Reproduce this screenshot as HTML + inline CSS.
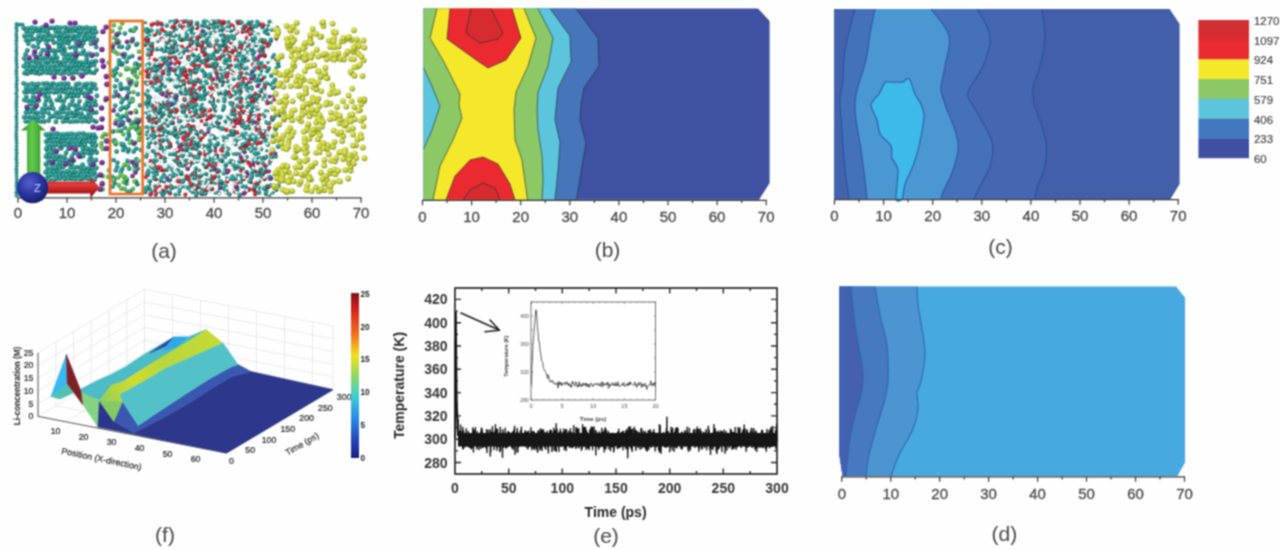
<!DOCTYPE html><html><head><meta charset="utf-8"><title>Figure</title>
<style>html,body{margin:0;padding:0;background:#fff;}body{width:1280px;height:550px;overflow:hidden;}svg{display:block;font-family:"Liberation Sans", sans-serif;}</style></head><body>
<svg width="1280" height="550" viewBox="0 0 1280 550">
<defs>
<radialGradient id="gT" cx="0.4" cy="0.35" r="0.7"><stop offset="0" stop-color="#44b8ae"/><stop offset="0.55" stop-color="#24908a"/><stop offset="1" stop-color="#0a3834"/></radialGradient>
<radialGradient id="gP" cx="0.4" cy="0.35" r="0.7"><stop offset="0" stop-color="#9a50b8"/><stop offset="0.55" stop-color="#6c2c8c"/><stop offset="1" stop-color="#3a1450"/></radialGradient>
<radialGradient id="gR" cx="0.4" cy="0.35" r="0.7"><stop offset="0" stop-color="#e04858"/><stop offset="0.55" stop-color="#bc2434"/><stop offset="1" stop-color="#641018"/></radialGradient>
<radialGradient id="gG" cx="0.4" cy="0.35" r="0.7"><stop offset="0" stop-color="#8ad870"/><stop offset="0.55" stop-color="#58b048"/><stop offset="1" stop-color="#2c6c24"/></radialGradient>
<radialGradient id="gY" cx="0.4" cy="0.35" r="0.7"><stop offset="0" stop-color="#e6ea66"/><stop offset="0.55" stop-color="#c4cc3c"/><stop offset="1" stop-color="#74801c"/></radialGradient>
<radialGradient id="gW" cx="0.4" cy="0.35" r="0.7"><stop offset="0" stop-color="#ffffff"/><stop offset="0.55" stop-color="#e4ecec"/><stop offset="1" stop-color="#a8b4b4"/></radialGradient>
<radialGradient id="gB" cx="0.4" cy="0.35" r="0.7"><stop offset="0" stop-color="#5460cc"/><stop offset="0.55" stop-color="#2a34a0"/><stop offset="1" stop-color="#161a68"/></radialGradient>
<linearGradient id="jet" x1="0" y1="0" x2="0" y2="1"><stop offset="0" stop-color="#7c1418"/><stop offset="0.1" stop-color="#d82020"/><stop offset="0.25" stop-color="#f07020"/><stop offset="0.38" stop-color="#f0e020"/><stop offset="0.5" stop-color="#90d860"/><stop offset="0.62" stop-color="#40d0d0"/><stop offset="0.75" stop-color="#2890e8"/><stop offset="0.88" stop-color="#2848c0"/><stop offset="1" stop-color="#1c2080"/></linearGradient>
<linearGradient id="garr" x1="0" y1="0" x2="1" y2="0"><stop offset="0" stop-color="#2a8a24"/><stop offset="0.45" stop-color="#62cc4c"/><stop offset="1" stop-color="#2a8a24"/></linearGradient>
<linearGradient id="rarr" x1="0" y1="0" x2="0" y2="1"><stop offset="0" stop-color="#9c1616"/><stop offset="0.35" stop-color="#e43c3c"/><stop offset="0.7" stop-color="#b41c1c"/><stop offset="1" stop-color="#7c1010"/></linearGradient>
<linearGradient id="cred" x1="0" y1="0" x2="0" y2="1"><stop offset="0" stop-color="#cc3034"/><stop offset="0.45" stop-color="#d82c30"/><stop offset="0.6" stop-color="#ea2c30"/><stop offset="1" stop-color="#ea2c30"/></linearGradient>
<filter id="cv" x="0" y="0" width="1280" height="550" filterUnits="userSpaceOnUse" color-interpolation-filters="sRGB"><feConvolveMatrix order="3" kernelMatrix="0.0625 0.1250 0.0625 0.1250 0.2500 0.1250 0.0625 0.1250 0.0625" divisor="1" edgeMode="duplicate" preserveAlpha="false"/></filter>
</defs>
<rect width="1280" height="550" fill="#fefefe"/>
<g filter="url(#cv)">
<g id="panelA">
<g>
<g fill="url(#gW)"><circle cx="232.7" cy="49.3" r="1.5"/><circle cx="201.8" cy="188.8" r="1.5"/><circle cx="157.3" cy="27.9" r="1.5"/><circle cx="201.4" cy="54.0" r="1.5"/><circle cx="237.1" cy="21.5" r="1.5"/><circle cx="251.9" cy="169.0" r="1.5"/><circle cx="245.2" cy="94.6" r="1.5"/><circle cx="181.7" cy="135.5" r="1.5"/><circle cx="210.8" cy="93.9" r="1.5"/><circle cx="188.7" cy="96.9" r="1.5"/><circle cx="229.9" cy="163.9" r="1.5"/><circle cx="259.9" cy="49.5" r="1.5"/><circle cx="183.3" cy="97.7" r="1.5"/><circle cx="217.0" cy="81.2" r="1.5"/><circle cx="170.6" cy="35.7" r="1.5"/><circle cx="186.8" cy="100.7" r="1.5"/><circle cx="268.4" cy="178.2" r="1.5"/><circle cx="268.8" cy="187.4" r="1.5"/><circle cx="248.2" cy="31.4" r="1.5"/><circle cx="231.2" cy="126.4" r="1.5"/><circle cx="183.4" cy="119.8" r="1.5"/><circle cx="266.1" cy="104.2" r="1.5"/><circle cx="183.7" cy="80.4" r="1.5"/><circle cx="257.5" cy="25.8" r="1.5"/><circle cx="169.8" cy="138.4" r="1.5"/><circle cx="202.4" cy="35.7" r="1.5"/><circle cx="229.2" cy="85.4" r="1.5"/><circle cx="219.2" cy="93.0" r="1.5"/><circle cx="212.8" cy="118.7" r="1.5"/><circle cx="195.9" cy="40.8" r="1.5"/><circle cx="168.7" cy="175.0" r="1.5"/><circle cx="215.1" cy="40.4" r="1.5"/><circle cx="254.6" cy="64.9" r="1.5"/><circle cx="158.0" cy="112.8" r="1.5"/><circle cx="177.7" cy="105.6" r="1.5"/><circle cx="215.8" cy="60.2" r="1.5"/><circle cx="218.2" cy="40.6" r="1.5"/><circle cx="210.7" cy="122.8" r="1.5"/><circle cx="156.1" cy="91.6" r="1.5"/><circle cx="155.3" cy="97.0" r="1.5"/><circle cx="254.8" cy="116.2" r="1.5"/><circle cx="236.0" cy="151.9" r="1.5"/><circle cx="160.4" cy="192.4" r="1.5"/><circle cx="236.9" cy="38.7" r="1.5"/><circle cx="250.6" cy="88.8" r="1.5"/><circle cx="167.6" cy="187.1" r="1.5"/><circle cx="216.9" cy="155.1" r="1.5"/><circle cx="163.2" cy="155.3" r="1.5"/><circle cx="153.3" cy="62.0" r="1.5"/><circle cx="192.9" cy="23.6" r="1.5"/><circle cx="220.9" cy="57.9" r="1.5"/><circle cx="183.8" cy="143.4" r="1.5"/><circle cx="199.7" cy="174.7" r="1.5"/><circle cx="224.3" cy="171.9" r="1.5"/><circle cx="216.9" cy="179.7" r="1.5"/><circle cx="255.7" cy="50.1" r="1.5"/><circle cx="239.9" cy="80.1" r="1.5"/><circle cx="242.2" cy="138.7" r="1.5"/><circle cx="250.0" cy="42.2" r="1.5"/><circle cx="193.0" cy="148.5" r="1.5"/><circle cx="222.1" cy="38.2" r="1.5"/><circle cx="215.2" cy="159.9" r="1.5"/><circle cx="160.2" cy="181.1" r="1.5"/><circle cx="231.1" cy="65.0" r="1.5"/><circle cx="170.3" cy="98.3" r="1.5"/><circle cx="251.6" cy="121.6" r="1.5"/><circle cx="160.3" cy="24.6" r="1.5"/><circle cx="159.9" cy="159.5" r="1.5"/><circle cx="169.3" cy="116.9" r="1.5"/><circle cx="182.5" cy="139.9" r="1.5"/><circle cx="194.0" cy="46.0" r="1.5"/><circle cx="256.3" cy="114.1" r="1.5"/><circle cx="232.9" cy="160.8" r="1.5"/><circle cx="165.0" cy="107.8" r="1.5"/><circle cx="256.0" cy="159.5" r="1.5"/><circle cx="150.5" cy="52.5" r="1.5"/><circle cx="249.1" cy="138.6" r="1.5"/><circle cx="195.5" cy="103.3" r="1.5"/><circle cx="165.9" cy="167.2" r="1.5"/><circle cx="195.6" cy="172.0" r="1.5"/><circle cx="223.0" cy="34.1" r="1.5"/><circle cx="187.5" cy="58.4" r="1.5"/><circle cx="258.6" cy="122.9" r="1.5"/><circle cx="151.5" cy="50.4" r="1.5"/><circle cx="191.5" cy="101.9" r="1.5"/><circle cx="218.7" cy="88.1" r="1.5"/><circle cx="190.6" cy="22.0" r="1.5"/><circle cx="219.0" cy="78.7" r="1.5"/><circle cx="148.6" cy="100.5" r="1.5"/><circle cx="230.5" cy="68.2" r="1.5"/><circle cx="180.4" cy="107.5" r="1.5"/><circle cx="179.0" cy="119.4" r="1.5"/><circle cx="212.5" cy="186.6" r="1.5"/><circle cx="271.0" cy="26.9" r="1.5"/><circle cx="243.1" cy="171.9" r="1.5"/><circle cx="243.6" cy="130.5" r="1.5"/><circle cx="226.0" cy="83.8" r="1.5"/><circle cx="181.5" cy="158.6" r="1.5"/><circle cx="256.0" cy="183.4" r="1.5"/><circle cx="231.8" cy="73.6" r="1.5"/><circle cx="242.2" cy="148.9" r="1.5"/><circle cx="210.1" cy="130.9" r="1.5"/><circle cx="190.2" cy="116.3" r="1.5"/><circle cx="197.2" cy="31.5" r="1.5"/><circle cx="188.5" cy="76.9" r="1.5"/><circle cx="176.7" cy="61.6" r="1.5"/><circle cx="190.0" cy="44.5" r="1.5"/><circle cx="146.9" cy="171.7" r="1.5"/><circle cx="203.1" cy="98.1" r="1.5"/><circle cx="217.7" cy="73.3" r="1.5"/><circle cx="167.3" cy="32.5" r="1.5"/><circle cx="184.0" cy="74.4" r="1.5"/><circle cx="237.6" cy="116.4" r="1.5"/><circle cx="264.1" cy="79.9" r="1.5"/><circle cx="219.5" cy="34.8" r="1.5"/><circle cx="168.5" cy="121.4" r="1.5"/><circle cx="270.4" cy="82.8" r="1.5"/><circle cx="200.0" cy="171.2" r="1.5"/><circle cx="154.5" cy="104.8" r="1.5"/><circle cx="259.3" cy="68.7" r="1.5"/><circle cx="178.4" cy="25.0" r="1.5"/><circle cx="166.7" cy="67.4" r="1.5"/><circle cx="234.8" cy="58.8" r="1.5"/><circle cx="196.3" cy="55.7" r="1.5"/><circle cx="222.0" cy="170.5" r="1.5"/><circle cx="227.7" cy="55.0" r="1.5"/><circle cx="238.5" cy="187.6" r="1.5"/><circle cx="221.7" cy="34.7" r="1.5"/><circle cx="248.0" cy="172.5" r="1.5"/><circle cx="189.0" cy="44.6" r="1.5"/><circle cx="169.7" cy="113.9" r="1.5"/><circle cx="256.3" cy="131.7" r="1.5"/><circle cx="240.4" cy="133.3" r="1.5"/><circle cx="197.1" cy="138.5" r="1.5"/><circle cx="188.6" cy="30.9" r="1.5"/><circle cx="198.2" cy="28.9" r="1.5"/><circle cx="224.9" cy="78.9" r="1.5"/><circle cx="208.3" cy="124.4" r="1.5"/><circle cx="178.4" cy="101.2" r="1.5"/><circle cx="147.7" cy="181.1" r="1.5"/><circle cx="217.1" cy="191.8" r="1.5"/><circle cx="153.1" cy="127.2" r="1.5"/><circle cx="237.2" cy="77.9" r="1.5"/><circle cx="157.8" cy="48.0" r="1.5"/><circle cx="164.0" cy="153.7" r="1.5"/><circle cx="157.3" cy="161.8" r="1.5"/><circle cx="199.3" cy="114.2" r="1.5"/><circle cx="220.1" cy="117.0" r="1.5"/><circle cx="228.8" cy="125.1" r="1.5"/><circle cx="187.7" cy="149.2" r="1.5"/><circle cx="178.5" cy="144.1" r="1.5"/><circle cx="242.2" cy="155.2" r="1.5"/><circle cx="185.0" cy="154.7" r="1.5"/><circle cx="211.9" cy="183.8" r="1.5"/><circle cx="162.6" cy="22.6" r="1.5"/><circle cx="205.9" cy="134.4" r="1.5"/><circle cx="243.5" cy="83.7" r="1.5"/><circle cx="270.7" cy="60.5" r="1.5"/><circle cx="157.3" cy="25.8" r="1.5"/><circle cx="162.9" cy="31.4" r="1.5"/><circle cx="209.2" cy="117.1" r="1.5"/><circle cx="168.9" cy="183.6" r="1.5"/><circle cx="192.1" cy="46.8" r="1.5"/><circle cx="168.4" cy="148.6" r="1.5"/><circle cx="244.0" cy="63.0" r="1.5"/><circle cx="269.8" cy="107.3" r="1.5"/><circle cx="189.4" cy="159.5" r="1.5"/><circle cx="204.0" cy="77.0" r="1.5"/><circle cx="259.8" cy="39.7" r="1.5"/><circle cx="238.4" cy="32.3" r="1.5"/><circle cx="227.3" cy="90.5" r="1.5"/><circle cx="254.9" cy="31.4" r="1.5"/><circle cx="217.1" cy="91.9" r="1.5"/><circle cx="261.8" cy="184.5" r="1.5"/><circle cx="225.0" cy="59.8" r="1.5"/><circle cx="177.7" cy="66.4" r="1.5"/><circle cx="200.7" cy="61.0" r="1.5"/><circle cx="171.6" cy="152.3" r="1.5"/><circle cx="227.0" cy="72.6" r="1.5"/><circle cx="271.3" cy="58.5" r="1.5"/><circle cx="165.7" cy="170.3" r="1.5"/><circle cx="255.5" cy="67.2" r="1.5"/><circle cx="240.7" cy="163.3" r="1.5"/><circle cx="181.6" cy="78.4" r="1.5"/><circle cx="207.2" cy="175.1" r="1.5"/><circle cx="166.4" cy="139.1" r="1.5"/><circle cx="221.3" cy="99.4" r="1.5"/><circle cx="219.0" cy="173.7" r="1.5"/><circle cx="172.4" cy="173.9" r="1.5"/><circle cx="191.4" cy="155.9" r="1.5"/><circle cx="254.8" cy="52.5" r="1.5"/><circle cx="254.9" cy="193.1" r="1.5"/><circle cx="183.5" cy="25.2" r="1.5"/><circle cx="160.1" cy="189.6" r="1.5"/><circle cx="147.2" cy="178.7" r="1.5"/><circle cx="165.0" cy="148.3" r="1.5"/><circle cx="158.3" cy="50.2" r="1.5"/><circle cx="232.0" cy="36.6" r="1.5"/><circle cx="188.8" cy="179.9" r="1.5"/><circle cx="236.3" cy="173.6" r="1.5"/><circle cx="245.8" cy="140.3" r="1.5"/><circle cx="150.8" cy="108.3" r="1.5"/><circle cx="175.2" cy="95.5" r="1.5"/><circle cx="159.2" cy="24.4" r="1.5"/><circle cx="270.8" cy="75.8" r="1.5"/><circle cx="161.2" cy="105.3" r="1.5"/><circle cx="163.1" cy="95.1" r="1.5"/><circle cx="168.6" cy="139.6" r="1.5"/><circle cx="164.6" cy="148.7" r="1.5"/><circle cx="209.1" cy="40.4" r="1.5"/><circle cx="190.6" cy="106.9" r="1.5"/><circle cx="261.8" cy="81.5" r="1.5"/><circle cx="173.1" cy="188.4" r="1.5"/><circle cx="257.3" cy="147.5" r="1.5"/><circle cx="180.4" cy="51.7" r="1.5"/><circle cx="179.3" cy="32.9" r="1.5"/><circle cx="151.4" cy="109.0" r="1.5"/><circle cx="197.4" cy="117.3" r="1.5"/><circle cx="191.7" cy="22.8" r="1.5"/><circle cx="232.7" cy="134.0" r="1.5"/><circle cx="214.5" cy="115.9" r="1.5"/><circle cx="233.0" cy="190.9" r="1.5"/><circle cx="256.1" cy="145.2" r="1.5"/><circle cx="196.3" cy="76.1" r="1.5"/><circle cx="198.8" cy="189.3" r="1.5"/><circle cx="194.8" cy="87.7" r="1.5"/><circle cx="197.7" cy="45.7" r="1.5"/><circle cx="271.8" cy="21.9" r="1.5"/><circle cx="262.7" cy="65.1" r="1.5"/><circle cx="193.5" cy="62.7" r="1.5"/><circle cx="171.0" cy="41.1" r="1.5"/><circle cx="252.2" cy="156.6" r="1.5"/><circle cx="260.5" cy="29.6" r="1.5"/><circle cx="233.5" cy="77.1" r="1.5"/><circle cx="227.4" cy="116.0" r="1.5"/><circle cx="185.8" cy="189.1" r="1.5"/><circle cx="146.1" cy="150.1" r="1.5"/><circle cx="253.5" cy="109.3" r="1.5"/><circle cx="220.6" cy="193.1" r="1.5"/><circle cx="175.5" cy="129.9" r="1.5"/><circle cx="239.7" cy="86.5" r="1.5"/><circle cx="235.7" cy="89.1" r="1.5"/><circle cx="212.3" cy="127.0" r="1.5"/><circle cx="231.3" cy="76.7" r="1.5"/><circle cx="225.2" cy="115.0" r="1.5"/><circle cx="174.1" cy="127.0" r="1.5"/><circle cx="179.4" cy="178.2" r="1.5"/><circle cx="205.6" cy="145.8" r="1.5"/><circle cx="211.8" cy="103.5" r="1.5"/><circle cx="173.9" cy="45.6" r="1.5"/><circle cx="262.8" cy="112.5" r="1.5"/><circle cx="212.5" cy="161.7" r="1.5"/><circle cx="176.1" cy="50.8" r="1.5"/><circle cx="249.6" cy="100.6" r="1.5"/><circle cx="226.7" cy="164.1" r="1.5"/><circle cx="258.6" cy="171.1" r="1.5"/><circle cx="151.5" cy="87.0" r="1.5"/><circle cx="250.8" cy="162.5" r="1.5"/><circle cx="161.5" cy="47.6" r="1.5"/><circle cx="177.7" cy="38.8" r="1.5"/><circle cx="190.9" cy="160.0" r="1.5"/><circle cx="211.7" cy="99.3" r="1.5"/><circle cx="157.1" cy="89.4" r="1.5"/><circle cx="206.3" cy="159.1" r="1.5"/><circle cx="241.6" cy="46.9" r="1.5"/><circle cx="231.7" cy="84.5" r="1.5"/><circle cx="211.6" cy="62.1" r="1.5"/><circle cx="192.7" cy="79.8" r="1.5"/><circle cx="194.0" cy="24.1" r="1.5"/><circle cx="171.3" cy="119.7" r="1.5"/><circle cx="153.3" cy="51.9" r="1.5"/><circle cx="236.5" cy="68.5" r="1.5"/><circle cx="186.8" cy="62.8" r="1.5"/><circle cx="251.1" cy="36.8" r="1.5"/><circle cx="226.2" cy="169.6" r="1.5"/><circle cx="171.4" cy="94.2" r="1.5"/><circle cx="245.8" cy="127.9" r="1.5"/><circle cx="192.8" cy="28.6" r="1.5"/><circle cx="201.8" cy="84.5" r="1.5"/><circle cx="235.8" cy="72.1" r="1.5"/><circle cx="197.4" cy="133.1" r="1.5"/><circle cx="248.2" cy="82.0" r="1.5"/><circle cx="194.6" cy="121.1" r="1.5"/><circle cx="262.5" cy="54.1" r="1.5"/><circle cx="235.7" cy="85.4" r="1.5"/><circle cx="229.9" cy="78.0" r="1.5"/><circle cx="154.9" cy="151.8" r="1.5"/><circle cx="193.8" cy="112.0" r="1.5"/><circle cx="208.6" cy="176.9" r="1.5"/><circle cx="241.4" cy="25.4" r="1.5"/><circle cx="220.7" cy="101.0" r="1.5"/><circle cx="204.2" cy="166.2" r="1.5"/><circle cx="198.3" cy="102.9" r="1.5"/><circle cx="258.2" cy="97.1" r="1.5"/><circle cx="207.9" cy="109.5" r="1.5"/><circle cx="249.9" cy="137.0" r="1.5"/><circle cx="239.3" cy="90.5" r="1.5"/><circle cx="151.1" cy="138.6" r="1.5"/><circle cx="215.8" cy="154.1" r="1.5"/><circle cx="243.0" cy="41.4" r="1.5"/></g>
<g fill="url(#gT)"><circle cx="260.5" cy="23.2" r="2.3"/><circle cx="236.6" cy="186.2" r="2.0"/><circle cx="179.3" cy="191.1" r="2.2"/><circle cx="254.6" cy="153.4" r="2.0"/><circle cx="266.0" cy="193.7" r="2.2"/><circle cx="212.8" cy="177.3" r="2.2"/><circle cx="237.2" cy="105.9" r="2.3"/><circle cx="191.6" cy="185.4" r="2.0"/><circle cx="167.0" cy="92.3" r="1.8"/><circle cx="207.4" cy="180.9" r="1.8"/><circle cx="224.6" cy="62.5" r="2.3"/><circle cx="71.8" cy="178.5" r="2.4"/><circle cx="172.2" cy="69.6" r="2.3"/><circle cx="255.0" cy="144.6" r="1.8"/><circle cx="262.3" cy="66.6" r="2.1"/><circle cx="50.2" cy="141.1" r="2.4"/><circle cx="208.0" cy="23.5" r="2.0"/><circle cx="79.9" cy="117.1" r="2.4"/><circle cx="137.8" cy="94.1" r="2.3"/><circle cx="264.5" cy="76.9" r="2.0"/><circle cx="206.9" cy="174.4" r="1.9"/><circle cx="75.7" cy="36.1" r="2.4"/><circle cx="64.1" cy="100.6" r="2.4"/><circle cx="139.1" cy="65.1" r="2.3"/><circle cx="16.5" cy="172.5" r="1.9"/><circle cx="153.0" cy="109.2" r="1.8"/><circle cx="37.2" cy="112.8" r="2.4"/><circle cx="77.5" cy="46.2" r="2.4"/><circle cx="124.6" cy="177.1" r="2.3"/><circle cx="27.9" cy="28.4" r="2.4"/><circle cx="84.8" cy="152.6" r="2.4"/><circle cx="154.2" cy="115.7" r="2.3"/><circle cx="208.3" cy="92.7" r="1.8"/><circle cx="36.6" cy="87.5" r="2.4"/><circle cx="85.2" cy="96.2" r="2.4"/><circle cx="178.5" cy="74.5" r="2.2"/><circle cx="219.0" cy="67.3" r="1.8"/><circle cx="96.0" cy="121.6" r="2.4"/><circle cx="30.0" cy="32.3" r="2.4"/><circle cx="134.3" cy="143.3" r="2.3"/><circle cx="199.0" cy="181.2" r="1.9"/><circle cx="119.1" cy="46.4" r="2.3"/><circle cx="157.0" cy="172.0" r="2.0"/><circle cx="155.0" cy="109.8" r="2.1"/><circle cx="44.8" cy="69.8" r="2.4"/><circle cx="206.8" cy="39.2" r="2.1"/><circle cx="70.6" cy="167.2" r="2.4"/><circle cx="203.8" cy="21.5" r="2.2"/><circle cx="149.7" cy="110.8" r="1.8"/><circle cx="42.7" cy="58.2" r="2.4"/><circle cx="161.0" cy="84.9" r="1.8"/><circle cx="177.5" cy="156.5" r="2.1"/><circle cx="145.1" cy="188.1" r="1.9"/><circle cx="182.6" cy="152.5" r="2.2"/><circle cx="57.5" cy="117.2" r="2.4"/><circle cx="63.0" cy="121.4" r="2.4"/><circle cx="226.4" cy="138.7" r="2.3"/><circle cx="175.4" cy="136.5" r="1.7"/><circle cx="160.4" cy="167.8" r="2.3"/><circle cx="226.9" cy="147.8" r="1.9"/><circle cx="147.8" cy="138.3" r="1.9"/><circle cx="159.0" cy="119.2" r="1.8"/><circle cx="60.5" cy="156.4" r="2.4"/><circle cx="153.8" cy="78.3" r="1.8"/><circle cx="59.2" cy="160.5" r="2.4"/><circle cx="244.7" cy="126.4" r="2.3"/><circle cx="243.6" cy="57.4" r="2.1"/><circle cx="65.0" cy="171.9" r="2.4"/><circle cx="162.6" cy="140.5" r="2.4"/><circle cx="191.2" cy="86.0" r="2.1"/><circle cx="16.4" cy="149.4" r="1.9"/><circle cx="157.0" cy="168.4" r="2.1"/><circle cx="201.6" cy="193.4" r="2.3"/><circle cx="257.0" cy="21.4" r="2.0"/><circle cx="156.1" cy="190.3" r="1.9"/><circle cx="62.6" cy="39.2" r="2.4"/><circle cx="260.9" cy="142.3" r="2.1"/><circle cx="87.3" cy="36.2" r="2.4"/><circle cx="170.0" cy="95.2" r="2.3"/><circle cx="160.7" cy="109.5" r="2.2"/><circle cx="49.5" cy="92.0" r="2.4"/><circle cx="53.2" cy="157.0" r="2.4"/><circle cx="271.7" cy="30.1" r="1.8"/><circle cx="154.4" cy="111.3" r="2.0"/><circle cx="255.8" cy="136.8" r="2.3"/><circle cx="228.0" cy="56.1" r="2.4"/><circle cx="248.5" cy="106.1" r="2.2"/><circle cx="90.4" cy="116.8" r="2.4"/><circle cx="82.6" cy="92.8" r="2.4"/><circle cx="157.4" cy="191.5" r="2.0"/><circle cx="126.4" cy="116.5" r="2.3"/><circle cx="75.3" cy="179.1" r="2.4"/><circle cx="199.1" cy="143.7" r="2.4"/><circle cx="256.3" cy="99.0" r="2.3"/><circle cx="16.3" cy="73.5" r="1.9"/><circle cx="240.0" cy="72.7" r="1.9"/><circle cx="266.4" cy="156.6" r="2.0"/><circle cx="237.1" cy="189.7" r="2.4"/><circle cx="251.6" cy="167.5" r="2.0"/><circle cx="210.8" cy="143.6" r="1.8"/><circle cx="82.9" cy="65.2" r="2.4"/><circle cx="171.0" cy="103.7" r="2.0"/><circle cx="267.7" cy="29.2" r="2.1"/><circle cx="264.5" cy="32.0" r="2.1"/><circle cx="204.7" cy="183.0" r="1.8"/><circle cx="160.8" cy="87.2" r="1.7"/><circle cx="74.2" cy="38.9" r="2.4"/><circle cx="263.6" cy="137.1" r="2.3"/><circle cx="182.8" cy="155.0" r="2.2"/><circle cx="255.2" cy="191.2" r="1.8"/><circle cx="213.1" cy="66.0" r="2.2"/><circle cx="40.5" cy="31.3" r="2.4"/><circle cx="254.6" cy="66.9" r="2.0"/><circle cx="205.2" cy="53.2" r="2.1"/><circle cx="90.5" cy="171.9" r="2.4"/><circle cx="163.1" cy="134.6" r="1.9"/><circle cx="168.1" cy="132.6" r="2.4"/><circle cx="202.2" cy="62.4" r="1.9"/><circle cx="53.7" cy="134.2" r="2.4"/><circle cx="176.1" cy="161.3" r="2.3"/><circle cx="250.0" cy="43.8" r="2.2"/><circle cx="270.2" cy="84.6" r="1.9"/><circle cx="72.5" cy="36.2" r="2.4"/><circle cx="233.5" cy="88.7" r="2.1"/><circle cx="24.2" cy="117.2" r="2.4"/><circle cx="180.9" cy="173.5" r="2.2"/><circle cx="119.2" cy="33.0" r="2.3"/><circle cx="133.0" cy="72.5" r="2.3"/><circle cx="57.0" cy="72.6" r="2.4"/><circle cx="170.1" cy="179.4" r="2.2"/><circle cx="92.0" cy="87.8" r="2.4"/><circle cx="208.8" cy="128.2" r="2.3"/><circle cx="94.2" cy="72.8" r="2.4"/><circle cx="151.1" cy="30.3" r="2.3"/><circle cx="252.2" cy="172.4" r="1.9"/><circle cx="16.6" cy="165.9" r="1.9"/><circle cx="223.5" cy="77.5" r="2.3"/><circle cx="168.6" cy="73.7" r="2.0"/><circle cx="237.5" cy="92.6" r="2.1"/><circle cx="155.8" cy="170.5" r="2.0"/><circle cx="47.5" cy="168.1" r="2.4"/><circle cx="193.1" cy="71.1" r="2.4"/><circle cx="164.9" cy="86.5" r="1.9"/><circle cx="186.9" cy="160.6" r="2.1"/><circle cx="200.1" cy="142.9" r="2.3"/><circle cx="159.4" cy="144.4" r="1.9"/><circle cx="115.7" cy="144.1" r="2.3"/><circle cx="61.0" cy="134.3" r="2.4"/><circle cx="205.8" cy="173.7" r="2.0"/><circle cx="205.3" cy="190.3" r="2.4"/><circle cx="254.2" cy="70.4" r="2.2"/><circle cx="86.8" cy="109.3" r="2.4"/><circle cx="49.6" cy="35.1" r="2.4"/><circle cx="236.7" cy="92.6" r="1.9"/><circle cx="16.5" cy="37.2" r="1.9"/><circle cx="210.5" cy="65.9" r="2.0"/><circle cx="164.2" cy="179.7" r="1.9"/><circle cx="222.1" cy="161.0" r="2.4"/><circle cx="210.7" cy="33.0" r="2.3"/><circle cx="256.6" cy="41.9" r="2.1"/><circle cx="209.9" cy="73.8" r="1.9"/><circle cx="183.8" cy="72.1" r="2.0"/><circle cx="70.2" cy="31.4" r="2.4"/><circle cx="208.3" cy="55.4" r="2.1"/><circle cx="64.7" cy="108.2" r="2.4"/><circle cx="214.2" cy="115.6" r="1.7"/><circle cx="159.6" cy="67.6" r="2.4"/><circle cx="204.6" cy="93.8" r="2.1"/><circle cx="220.5" cy="183.0" r="2.3"/><circle cx="232.5" cy="38.4" r="1.9"/><circle cx="90.6" cy="91.7" r="2.4"/><circle cx="250.0" cy="74.3" r="1.9"/><circle cx="220.1" cy="181.5" r="1.9"/><circle cx="180.0" cy="73.3" r="2.2"/><circle cx="163.6" cy="69.4" r="2.1"/><circle cx="45.0" cy="95.8" r="2.4"/><circle cx="215.8" cy="51.5" r="2.3"/><circle cx="254.9" cy="100.1" r="2.3"/><circle cx="147.2" cy="130.9" r="2.2"/><circle cx="221.8" cy="83.7" r="2.4"/><circle cx="122.7" cy="116.1" r="2.3"/><circle cx="200.4" cy="87.6" r="1.8"/><circle cx="263.3" cy="51.5" r="1.8"/><circle cx="251.5" cy="87.3" r="2.0"/><circle cx="53.1" cy="108.5" r="2.4"/><circle cx="247.6" cy="46.2" r="1.7"/><circle cx="251.8" cy="74.5" r="2.3"/><circle cx="267.1" cy="71.1" r="2.4"/><circle cx="225.8" cy="46.4" r="2.2"/><circle cx="213.0" cy="23.6" r="2.4"/><circle cx="16.2" cy="136.2" r="1.9"/><circle cx="35.4" cy="117.0" r="2.4"/><circle cx="253.7" cy="52.1" r="2.4"/><circle cx="165.1" cy="158.3" r="1.8"/><circle cx="241.9" cy="126.1" r="2.0"/><circle cx="259.1" cy="50.4" r="2.2"/><circle cx="178.4" cy="77.4" r="2.0"/><circle cx="151.5" cy="120.1" r="2.0"/><circle cx="79.1" cy="35.0" r="2.4"/><circle cx="236.7" cy="96.4" r="1.8"/><circle cx="215.4" cy="147.4" r="1.9"/><circle cx="70.6" cy="145.7" r="2.4"/><circle cx="66.7" cy="120.8" r="2.4"/><circle cx="199.8" cy="98.7" r="1.8"/><circle cx="246.7" cy="145.7" r="1.8"/><circle cx="154.5" cy="35.3" r="1.8"/><circle cx="157.8" cy="136.4" r="1.8"/><circle cx="223.1" cy="77.0" r="2.0"/><circle cx="73.9" cy="46.8" r="2.4"/><circle cx="223.9" cy="188.6" r="2.1"/><circle cx="245.4" cy="137.4" r="2.1"/><circle cx="190.6" cy="88.4" r="2.3"/><circle cx="69.8" cy="69.6" r="2.4"/><circle cx="218.2" cy="78.5" r="2.2"/><circle cx="121.8" cy="63.6" r="2.3"/><circle cx="88.3" cy="175.4" r="2.4"/><circle cx="150.8" cy="142.0" r="2.0"/><circle cx="38.7" cy="100.4" r="2.4"/><circle cx="191.4" cy="94.1" r="2.4"/><circle cx="248.3" cy="125.2" r="1.7"/><circle cx="133.3" cy="143.4" r="2.3"/><circle cx="194.6" cy="173.3" r="2.3"/><circle cx="42.0" cy="65.8" r="2.4"/><circle cx="212.5" cy="21.5" r="2.3"/><circle cx="129.0" cy="135.9" r="2.3"/><circle cx="16.3" cy="169.2" r="1.9"/><circle cx="251.8" cy="110.8" r="2.3"/><circle cx="62.9" cy="175.8" r="2.4"/><circle cx="189.1" cy="91.9" r="1.8"/><circle cx="252.4" cy="123.8" r="1.8"/><circle cx="187.0" cy="178.4" r="1.9"/><circle cx="127.5" cy="88.2" r="2.3"/><circle cx="79.4" cy="42.3" r="2.4"/><circle cx="201.3" cy="96.3" r="2.2"/><circle cx="192.6" cy="39.0" r="1.9"/><circle cx="156.7" cy="89.5" r="2.4"/><circle cx="72.2" cy="92.0" r="2.4"/><circle cx="81.4" cy="153.0" r="2.4"/><circle cx="37.3" cy="31.1" r="2.4"/><circle cx="193.5" cy="55.4" r="2.1"/><circle cx="148.9" cy="184.5" r="2.3"/><circle cx="91.8" cy="152.9" r="2.4"/><circle cx="239.8" cy="119.7" r="2.3"/><circle cx="60.5" cy="100.4" r="2.4"/><circle cx="223.7" cy="173.5" r="2.1"/><circle cx="169.2" cy="115.4" r="2.3"/><circle cx="186.1" cy="163.7" r="1.7"/><circle cx="215.5" cy="176.0" r="1.8"/><circle cx="83.4" cy="171.9" r="2.4"/><circle cx="117.1" cy="166.8" r="2.3"/><circle cx="16.4" cy="40.5" r="1.9"/><circle cx="93.8" cy="164.3" r="2.4"/><circle cx="89.2" cy="160.5" r="2.4"/><circle cx="123.1" cy="150.0" r="2.3"/><circle cx="73.8" cy="96.2" r="2.4"/><circle cx="190.5" cy="175.4" r="1.8"/><circle cx="82.9" cy="28.0" r="2.4"/><circle cx="52.0" cy="152.7" r="2.4"/><circle cx="116.5" cy="151.4" r="2.3"/><circle cx="19.5" cy="24.5" r="1.9"/><circle cx="92.4" cy="174.6" r="2.4"/><circle cx="168.9" cy="105.4" r="2.1"/><circle cx="74.1" cy="175.1" r="2.4"/><circle cx="225.2" cy="59.4" r="2.1"/><circle cx="258.5" cy="153.2" r="1.9"/><circle cx="73.9" cy="152.8" r="2.4"/><circle cx="16.6" cy="182.4" r="1.9"/><circle cx="240.6" cy="175.0" r="1.8"/><circle cx="117.5" cy="114.8" r="2.3"/><circle cx="253.9" cy="77.0" r="2.2"/><circle cx="77.0" cy="153.2" r="2.4"/><circle cx="205.0" cy="21.6" r="2.2"/><circle cx="216.8" cy="157.2" r="2.1"/><circle cx="264.4" cy="97.9" r="2.2"/><circle cx="188.8" cy="150.2" r="2.3"/><circle cx="239.1" cy="97.8" r="1.8"/><circle cx="168.5" cy="109.7" r="2.1"/><circle cx="79.1" cy="27.5" r="2.4"/><circle cx="16.3" cy="103.2" r="1.9"/><circle cx="225.9" cy="62.9" r="1.8"/><circle cx="155.9" cy="122.9" r="2.0"/><circle cx="207.0" cy="24.1" r="2.0"/><circle cx="157.5" cy="30.9" r="2.0"/><circle cx="64.5" cy="140.9" r="2.4"/><circle cx="32.0" cy="83.6" r="2.4"/><circle cx="115.5" cy="91.6" r="2.3"/><circle cx="223.5" cy="137.0" r="2.0"/><circle cx="251.5" cy="29.4" r="2.1"/><circle cx="221.3" cy="94.1" r="1.7"/><circle cx="35.5" cy="84.5" r="2.4"/><circle cx="113.9" cy="75.6" r="2.3"/><circle cx="116.9" cy="35.1" r="2.3"/><circle cx="209.4" cy="158.7" r="2.4"/><circle cx="47.7" cy="145.6" r="2.4"/><circle cx="23.6" cy="83.3" r="2.4"/><circle cx="170.7" cy="133.5" r="1.9"/><circle cx="263.5" cy="133.3" r="2.0"/><circle cx="161.3" cy="178.1" r="2.0"/><circle cx="123.0" cy="99.4" r="2.3"/><circle cx="221.8" cy="29.9" r="2.2"/><circle cx="239.8" cy="65.5" r="2.0"/><circle cx="237.4" cy="175.1" r="1.7"/><circle cx="159.2" cy="181.3" r="2.3"/><circle cx="212.9" cy="103.0" r="2.2"/><circle cx="163.0" cy="58.2" r="2.0"/><circle cx="236.3" cy="65.3" r="2.2"/><circle cx="259.6" cy="62.9" r="2.2"/><circle cx="56.9" cy="171.4" r="2.4"/><circle cx="127.9" cy="151.5" r="2.3"/><circle cx="181.8" cy="126.8" r="2.0"/><circle cx="202.2" cy="104.3" r="1.7"/><circle cx="243.0" cy="60.3" r="2.1"/><circle cx="16.8" cy="90.0" r="1.9"/><circle cx="242.2" cy="106.1" r="2.2"/><circle cx="251.1" cy="151.4" r="1.8"/><circle cx="219.8" cy="184.8" r="2.3"/><circle cx="246.7" cy="107.0" r="2.0"/><circle cx="85.2" cy="69.4" r="2.4"/><circle cx="161.6" cy="48.8" r="1.9"/><circle cx="217.7" cy="51.9" r="1.8"/><circle cx="75.8" cy="134.5" r="2.4"/><circle cx="186.2" cy="138.2" r="2.1"/><circle cx="205.3" cy="159.5" r="2.3"/><circle cx="38.4" cy="91.8" r="2.4"/><circle cx="128.1" cy="88.0" r="2.3"/><circle cx="187.9" cy="119.9" r="2.0"/><circle cx="38.3" cy="84.0" r="2.4"/><circle cx="197.8" cy="136.9" r="1.7"/><circle cx="24.2" cy="58.3" r="2.4"/><circle cx="174.5" cy="21.9" r="2.1"/><circle cx="151.3" cy="135.2" r="2.3"/><circle cx="81.0" cy="62.3" r="2.4"/><circle cx="47.9" cy="62.4" r="2.4"/><circle cx="161.8" cy="58.0" r="2.0"/><circle cx="222.5" cy="182.7" r="2.2"/><circle cx="258.2" cy="34.1" r="1.9"/><circle cx="92.1" cy="144.9" r="2.4"/><circle cx="57.6" cy="66.2" r="2.4"/><circle cx="254.4" cy="96.2" r="2.4"/><circle cx="31.9" cy="27.7" r="2.4"/><circle cx="259.5" cy="128.6" r="1.9"/><circle cx="64.5" cy="49.9" r="2.4"/><circle cx="173.7" cy="34.1" r="1.8"/><circle cx="175.6" cy="112.3" r="2.0"/><circle cx="169.6" cy="165.8" r="2.4"/><circle cx="90.5" cy="65.5" r="2.4"/><circle cx="195.8" cy="60.0" r="2.4"/><circle cx="63.0" cy="137.7" r="2.4"/><circle cx="157.2" cy="70.5" r="2.0"/><circle cx="16.3" cy="192.3" r="1.9"/><circle cx="231.2" cy="135.3" r="1.8"/><circle cx="211.8" cy="85.3" r="2.0"/><circle cx="231.5" cy="35.4" r="1.7"/><circle cx="177.9" cy="170.0" r="2.1"/><circle cx="278.7" cy="66.2" r="2.0"/><circle cx="262.1" cy="113.7" r="2.0"/><circle cx="213.4" cy="126.3" r="1.8"/><circle cx="64.3" cy="72.6" r="2.4"/><circle cx="174.8" cy="97.1" r="2.3"/><circle cx="174.8" cy="154.1" r="2.4"/><circle cx="211.0" cy="179.3" r="2.1"/><circle cx="67.6" cy="171.2" r="2.4"/><circle cx="184.2" cy="110.7" r="2.1"/><circle cx="162.5" cy="194.6" r="2.2"/><circle cx="157.8" cy="41.5" r="1.8"/><circle cx="190.1" cy="165.5" r="1.7"/><circle cx="181.6" cy="89.7" r="2.0"/><circle cx="145.7" cy="82.3" r="1.9"/><circle cx="243.2" cy="161.5" r="2.0"/><circle cx="86.2" cy="141.2" r="2.4"/><circle cx="246.3" cy="73.3" r="2.0"/><circle cx="249.3" cy="23.6" r="2.4"/><circle cx="148.0" cy="97.8" r="2.1"/><circle cx="234.5" cy="110.2" r="1.9"/><circle cx="177.6" cy="87.3" r="2.2"/><circle cx="128.9" cy="57.2" r="2.3"/><circle cx="161.1" cy="65.4" r="2.3"/><circle cx="221.0" cy="77.7" r="2.0"/><circle cx="188.0" cy="187.4" r="2.4"/><circle cx="70.1" cy="87.8" r="2.4"/><circle cx="218.0" cy="100.7" r="2.0"/><circle cx="258.0" cy="184.3" r="1.8"/><circle cx="189.5" cy="154.6" r="2.3"/><circle cx="191.2" cy="116.8" r="1.7"/><circle cx="169.9" cy="154.2" r="1.9"/><circle cx="87.5" cy="100.8" r="2.4"/><circle cx="232.5" cy="52.5" r="1.9"/><circle cx="76.2" cy="92.9" r="2.4"/><circle cx="217.8" cy="144.5" r="2.0"/><circle cx="253.8" cy="74.9" r="2.2"/><circle cx="64.3" cy="58.3" r="2.4"/><circle cx="245.0" cy="42.2" r="1.9"/><circle cx="88.8" cy="62.4" r="2.4"/><circle cx="275.8" cy="156.6" r="2.1"/><circle cx="204.1" cy="25.7" r="2.1"/><circle cx="151.9" cy="172.7" r="1.9"/><circle cx="169.0" cy="52.3" r="1.9"/><circle cx="76.1" cy="42.3" r="2.4"/><circle cx="225.6" cy="94.2" r="2.4"/><circle cx="226.9" cy="177.9" r="1.9"/><circle cx="82.8" cy="156.2" r="2.4"/><circle cx="263.0" cy="48.0" r="2.3"/><circle cx="211.7" cy="182.0" r="2.3"/><circle cx="42.6" cy="92.4" r="2.4"/><circle cx="45.9" cy="134.5" r="2.4"/><circle cx="72.4" cy="100.5" r="2.4"/><circle cx="67.8" cy="133.9" r="2.4"/><circle cx="68.2" cy="83.7" r="2.4"/><circle cx="160.0" cy="129.6" r="2.3"/><circle cx="81.2" cy="88.5" r="2.4"/><circle cx="53.0" cy="83.4" r="2.4"/><circle cx="66.0" cy="152.7" r="2.4"/><circle cx="26.2" cy="62.0" r="2.4"/><circle cx="31.2" cy="66.1" r="2.4"/><circle cx="88.6" cy="113.1" r="2.4"/><circle cx="147.2" cy="175.9" r="2.3"/><circle cx="169.4" cy="33.2" r="2.1"/><circle cx="210.7" cy="175.7" r="1.9"/><circle cx="259.2" cy="174.0" r="2.3"/><circle cx="263.7" cy="88.5" r="2.1"/><circle cx="261.4" cy="39.7" r="2.3"/><circle cx="233.8" cy="135.1" r="2.0"/><circle cx="234.6" cy="89.3" r="1.8"/><circle cx="228.3" cy="135.2" r="1.8"/><circle cx="148.0" cy="54.6" r="2.3"/><circle cx="16.5" cy="175.8" r="1.9"/><circle cx="236.7" cy="187.9" r="2.1"/><circle cx="225.7" cy="185.9" r="2.1"/><circle cx="79.7" cy="171.6" r="2.4"/><circle cx="217.8" cy="142.7" r="2.0"/><circle cx="86.4" cy="117.2" r="2.4"/><circle cx="175.5" cy="35.2" r="1.8"/><circle cx="214.0" cy="166.6" r="2.4"/><circle cx="261.7" cy="132.7" r="2.1"/><circle cx="198.6" cy="155.1" r="2.3"/><circle cx="78.4" cy="53.8" r="2.4"/><circle cx="94.5" cy="28.0" r="2.4"/><circle cx="197.5" cy="134.5" r="1.9"/><circle cx="226.9" cy="171.2" r="1.7"/><circle cx="176.0" cy="99.5" r="2.4"/><circle cx="166.2" cy="191.3" r="2.2"/><circle cx="51.9" cy="137.2" r="2.4"/><circle cx="186.6" cy="90.0" r="2.0"/><circle cx="196.8" cy="40.2" r="2.3"/><circle cx="219.4" cy="95.1" r="1.9"/><circle cx="233.4" cy="108.9" r="2.1"/><circle cx="37.0" cy="120.9" r="2.4"/><circle cx="191.4" cy="64.1" r="2.0"/><circle cx="148.5" cy="146.7" r="2.3"/><circle cx="112.4" cy="176.8" r="2.3"/><circle cx="175.3" cy="194.4" r="2.0"/><circle cx="96.1" cy="47.1" r="2.4"/><circle cx="16.3" cy="116.4" r="1.9"/><circle cx="185.0" cy="160.4" r="1.9"/><circle cx="245.7" cy="137.7" r="2.0"/><circle cx="35.2" cy="28.1" r="2.4"/><circle cx="150.8" cy="73.8" r="2.3"/><circle cx="33.2" cy="96.3" r="2.4"/><circle cx="160.4" cy="74.9" r="2.0"/><circle cx="48.1" cy="39.8" r="2.4"/><circle cx="170.4" cy="94.4" r="2.2"/><circle cx="16.2" cy="33.9" r="1.9"/><circle cx="81.2" cy="46.2" r="2.4"/><circle cx="190.2" cy="24.7" r="2.3"/><circle cx="236.8" cy="167.7" r="2.1"/><circle cx="77.7" cy="88.8" r="2.4"/><circle cx="252.9" cy="40.1" r="1.9"/><circle cx="253.9" cy="57.9" r="2.2"/><circle cx="50.1" cy="171.3" r="2.4"/><circle cx="36.8" cy="105.0" r="2.4"/><circle cx="235.8" cy="66.4" r="1.9"/><circle cx="257.6" cy="122.9" r="1.9"/><circle cx="52.0" cy="61.2" r="2.4"/><circle cx="193.5" cy="137.6" r="1.7"/><circle cx="188.6" cy="45.9" r="2.2"/><circle cx="219.1" cy="45.5" r="2.3"/><circle cx="27.5" cy="84.6" r="2.4"/><circle cx="238.2" cy="138.5" r="2.2"/><circle cx="46.2" cy="100.1" r="2.4"/><circle cx="167.8" cy="177.9" r="2.2"/><circle cx="266.3" cy="100.4" r="2.1"/><circle cx="198.2" cy="190.1" r="2.2"/><circle cx="31.2" cy="72.3" r="2.4"/><circle cx="70.7" cy="54.5" r="2.4"/><circle cx="190.6" cy="139.2" r="1.8"/><circle cx="213.2" cy="85.8" r="2.2"/><circle cx="270.8" cy="102.6" r="2.0"/><circle cx="242.1" cy="134.5" r="2.3"/><circle cx="268.9" cy="44.2" r="2.3"/><circle cx="77.9" cy="105.1" r="2.4"/><circle cx="159.6" cy="127.5" r="2.4"/><circle cx="213.7" cy="167.3" r="1.8"/><circle cx="181.3" cy="144.7" r="2.3"/><circle cx="175.5" cy="69.3" r="2.1"/><circle cx="211.1" cy="136.7" r="1.8"/><circle cx="85.8" cy="87.6" r="2.4"/><circle cx="65.0" cy="164.7" r="2.4"/><circle cx="171.5" cy="33.1" r="1.8"/><circle cx="189.7" cy="182.4" r="1.8"/><circle cx="205.9" cy="74.7" r="1.9"/><circle cx="176.6" cy="73.7" r="2.3"/><circle cx="155.7" cy="143.5" r="2.0"/><circle cx="235.9" cy="166.5" r="1.7"/><circle cx="234.6" cy="131.2" r="1.7"/><circle cx="173.7" cy="117.5" r="2.0"/><circle cx="96.7" cy="54.4" r="2.4"/><circle cx="250.7" cy="87.3" r="2.1"/><circle cx="218.1" cy="116.7" r="1.9"/><circle cx="162.0" cy="24.8" r="2.1"/><circle cx="262.8" cy="163.5" r="2.4"/><circle cx="16.3" cy="106.5" r="1.9"/><circle cx="224.5" cy="140.3" r="2.3"/><circle cx="258.8" cy="124.5" r="2.3"/><circle cx="256.1" cy="45.1" r="2.3"/><circle cx="28.2" cy="43.5" r="2.4"/><circle cx="261.2" cy="70.8" r="2.1"/><circle cx="61.2" cy="65.2" r="2.4"/><circle cx="225.5" cy="165.3" r="2.0"/><circle cx="220.5" cy="117.1" r="2.3"/><circle cx="276.4" cy="189.9" r="2.1"/><circle cx="81.4" cy="167.7" r="2.4"/><circle cx="161.1" cy="134.6" r="2.3"/><circle cx="57.0" cy="84.3" r="2.4"/><circle cx="220.2" cy="43.8" r="1.7"/><circle cx="174.6" cy="43.6" r="2.1"/><circle cx="190.2" cy="76.9" r="2.0"/><circle cx="187.7" cy="165.1" r="2.1"/><circle cx="185.7" cy="38.5" r="2.3"/><circle cx="163.0" cy="131.8" r="1.9"/><circle cx="183.8" cy="151.5" r="2.1"/><circle cx="62.7" cy="62.3" r="2.4"/><circle cx="249.3" cy="128.3" r="2.1"/><circle cx="171.0" cy="36.9" r="2.2"/><circle cx="222.1" cy="85.0" r="1.8"/><circle cx="39.0" cy="73.6" r="2.4"/><circle cx="228.6" cy="51.3" r="2.3"/><circle cx="180.8" cy="129.0" r="2.1"/><circle cx="192.4" cy="40.7" r="2.0"/><circle cx="74.6" cy="54.1" r="2.4"/><circle cx="242.5" cy="45.0" r="1.8"/><circle cx="33.3" cy="31.6" r="2.4"/><circle cx="265.0" cy="140.3" r="2.3"/><circle cx="145.4" cy="22.6" r="1.7"/><circle cx="191.5" cy="29.3" r="2.4"/><circle cx="276.0" cy="36.8" r="2.1"/><circle cx="83.7" cy="35.9" r="2.4"/><circle cx="188.5" cy="56.7" r="2.0"/><circle cx="167.1" cy="92.4" r="1.9"/><circle cx="253.2" cy="53.7" r="1.9"/><circle cx="239.7" cy="147.7" r="1.7"/><circle cx="77.2" cy="62.1" r="2.4"/><circle cx="274.6" cy="174.8" r="1.7"/><circle cx="60.8" cy="73.6" r="2.4"/><circle cx="51.8" cy="87.7" r="2.4"/><circle cx="178.9" cy="121.4" r="1.9"/><circle cx="81.0" cy="145.1" r="2.4"/><circle cx="217.5" cy="122.9" r="2.0"/><circle cx="226.9" cy="40.6" r="2.2"/><circle cx="64.8" cy="83.7" r="2.4"/><circle cx="121.4" cy="143.9" r="2.3"/><circle cx="231.9" cy="113.8" r="2.4"/><circle cx="47.6" cy="153.0" r="2.4"/><circle cx="173.7" cy="173.7" r="1.9"/><circle cx="56.8" cy="99.9" r="2.4"/><circle cx="74.6" cy="69.5" r="2.4"/><circle cx="46.5" cy="65.7" r="2.4"/><circle cx="208.1" cy="162.3" r="1.9"/><circle cx="178.2" cy="80.8" r="2.2"/><circle cx="136.1" cy="112.0" r="2.3"/><circle cx="195.6" cy="144.9" r="2.1"/><circle cx="201.1" cy="109.6" r="2.2"/><circle cx="224.4" cy="98.6" r="2.3"/><circle cx="148.4" cy="147.0" r="1.8"/><circle cx="225.3" cy="122.0" r="2.0"/><circle cx="216.7" cy="40.4" r="2.3"/><circle cx="192.6" cy="148.4" r="2.0"/><circle cx="235.7" cy="144.5" r="1.9"/><circle cx="226.0" cy="165.0" r="2.0"/><circle cx="251.3" cy="50.2" r="2.3"/><circle cx="36.7" cy="62.4" r="2.4"/><circle cx="33.4" cy="61.2" r="2.4"/><circle cx="59.5" cy="175.6" r="2.4"/><circle cx="191.1" cy="32.5" r="2.1"/><circle cx="150.8" cy="166.3" r="1.9"/><circle cx="68.4" cy="42.8" r="2.4"/><circle cx="254.3" cy="116.0" r="1.8"/><circle cx="205.2" cy="94.3" r="2.4"/><circle cx="152.6" cy="151.0" r="2.1"/><circle cx="77.9" cy="138.3" r="2.4"/><circle cx="159.4" cy="105.2" r="1.8"/><circle cx="256.6" cy="127.5" r="2.4"/><circle cx="92.3" cy="168.2" r="2.4"/><circle cx="166.3" cy="119.8" r="1.9"/><circle cx="56.2" cy="68.9" r="2.4"/><circle cx="230.5" cy="103.1" r="2.3"/><circle cx="90.0" cy="163.3" r="2.4"/><circle cx="164.8" cy="161.3" r="1.9"/><circle cx="31.6" cy="100.2" r="2.4"/><circle cx="171.8" cy="64.3" r="2.0"/><circle cx="198.6" cy="95.3" r="2.4"/><circle cx="52.1" cy="168.1" r="2.4"/><circle cx="33.1" cy="39.0" r="2.4"/><circle cx="268.2" cy="34.1" r="1.9"/><circle cx="23.7" cy="66.1" r="2.4"/><circle cx="152.1" cy="141.2" r="2.3"/><circle cx="229.4" cy="179.2" r="1.8"/><circle cx="270.7" cy="176.7" r="1.8"/><circle cx="88.8" cy="121.5" r="2.4"/><circle cx="147.9" cy="31.4" r="2.3"/><circle cx="201.4" cy="109.7" r="1.9"/><circle cx="206.4" cy="21.8" r="2.3"/><circle cx="26.1" cy="87.9" r="2.4"/><circle cx="185.3" cy="93.7" r="2.3"/><circle cx="71.6" cy="133.6" r="2.4"/><circle cx="86.3" cy="134.7" r="2.4"/><circle cx="231.5" cy="133.0" r="2.1"/><circle cx="82.8" cy="148.5" r="2.4"/><circle cx="245.3" cy="127.9" r="2.2"/><circle cx="186.4" cy="21.3" r="2.3"/><circle cx="176.1" cy="73.7" r="1.8"/><circle cx="55.7" cy="88.4" r="2.4"/><circle cx="77.8" cy="31.3" r="2.4"/><circle cx="146.5" cy="134.6" r="1.7"/><circle cx="163.8" cy="114.1" r="2.1"/><circle cx="96.6" cy="152.5" r="2.4"/><circle cx="192.8" cy="120.2" r="2.0"/><circle cx="191.0" cy="21.7" r="2.3"/><circle cx="115.7" cy="170.2" r="2.3"/><circle cx="16.5" cy="83.4" r="1.9"/><circle cx="167.8" cy="101.7" r="2.2"/><circle cx="271.2" cy="75.6" r="2.3"/><circle cx="16.3" cy="27.3" r="1.9"/><circle cx="210.3" cy="150.6" r="2.4"/><circle cx="263.3" cy="47.2" r="1.8"/><circle cx="225.7" cy="55.5" r="2.1"/><circle cx="136.3" cy="159.0" r="2.3"/><circle cx="266.0" cy="121.9" r="1.8"/><circle cx="183.2" cy="40.1" r="2.0"/><circle cx="205.8" cy="81.6" r="2.1"/><circle cx="250.8" cy="81.7" r="1.9"/><circle cx="206.9" cy="83.3" r="2.0"/><circle cx="153.1" cy="31.7" r="1.8"/><circle cx="232.5" cy="110.3" r="2.3"/><circle cx="186.9" cy="35.9" r="2.3"/><circle cx="248.0" cy="22.2" r="2.0"/><circle cx="204.2" cy="145.8" r="1.8"/><circle cx="61.2" cy="50.7" r="2.4"/><circle cx="264.0" cy="83.9" r="1.7"/><circle cx="176.2" cy="29.3" r="1.8"/><circle cx="137.6" cy="168.6" r="2.3"/><circle cx="204.3" cy="90.9" r="1.9"/><circle cx="193.4" cy="162.4" r="1.9"/><circle cx="196.0" cy="143.5" r="1.8"/><circle cx="233.8" cy="140.3" r="2.0"/><circle cx="155.0" cy="185.9" r="2.0"/><circle cx="193.6" cy="33.5" r="1.8"/><circle cx="113.2" cy="50.4" r="2.3"/><circle cx="222.8" cy="109.9" r="2.0"/><circle cx="204.0" cy="48.1" r="2.1"/><circle cx="195.6" cy="112.6" r="2.3"/><circle cx="56.9" cy="133.5" r="2.4"/><circle cx="134.5" cy="71.4" r="2.3"/><circle cx="95.8" cy="137.6" r="2.4"/><circle cx="159.8" cy="82.8" r="1.8"/><circle cx="236.1" cy="98.7" r="1.9"/><circle cx="209.0" cy="145.4" r="2.3"/><circle cx="192.0" cy="37.7" r="2.2"/><circle cx="94.8" cy="101.0" r="2.4"/><circle cx="96.3" cy="69.9" r="2.4"/><circle cx="225.8" cy="164.7" r="2.1"/><circle cx="70.8" cy="95.9" r="2.4"/><circle cx="164.7" cy="130.5" r="2.3"/><circle cx="69.9" cy="104.6" r="2.4"/><circle cx="160.4" cy="111.3" r="2.2"/><circle cx="161.6" cy="116.5" r="2.2"/><circle cx="197.8" cy="145.8" r="2.3"/><circle cx="242.5" cy="55.7" r="1.7"/><circle cx="168.7" cy="142.1" r="1.9"/><circle cx="70.1" cy="121.6" r="2.4"/><circle cx="175.6" cy="22.4" r="1.8"/><circle cx="245.2" cy="160.3" r="1.8"/><circle cx="29.4" cy="61.8" r="2.4"/><circle cx="49.1" cy="156.8" r="2.4"/><circle cx="261.7" cy="62.8" r="1.9"/><circle cx="90.9" cy="72.3" r="2.4"/><circle cx="230.9" cy="30.5" r="2.4"/><circle cx="42.4" cy="108.7" r="2.4"/><circle cx="267.5" cy="111.2" r="1.7"/><circle cx="224.8" cy="189.2" r="2.1"/><circle cx="156.5" cy="135.3" r="2.2"/><circle cx="195.5" cy="96.3" r="1.9"/><circle cx="245.5" cy="26.0" r="2.4"/><circle cx="172.6" cy="29.0" r="1.9"/><circle cx="202.1" cy="86.9" r="1.9"/><circle cx="96.7" cy="175.8" r="2.4"/><circle cx="152.6" cy="168.2" r="1.9"/><circle cx="16.7" cy="66.9" r="1.9"/><circle cx="161.3" cy="93.1" r="2.1"/><circle cx="241.7" cy="98.6" r="1.8"/><circle cx="179.9" cy="92.5" r="1.8"/><circle cx="163.8" cy="174.9" r="2.2"/><circle cx="266.9" cy="83.1" r="2.3"/><circle cx="88.9" cy="167.9" r="2.4"/><circle cx="66.8" cy="39.0" r="2.4"/><circle cx="126.8" cy="179.9" r="2.3"/><circle cx="173.0" cy="132.8" r="2.2"/><circle cx="74.6" cy="88.2" r="2.4"/><circle cx="261.1" cy="133.8" r="2.1"/><circle cx="197.3" cy="145.1" r="1.9"/><circle cx="159.1" cy="128.1" r="2.1"/><circle cx="42.7" cy="27.4" r="2.4"/><circle cx="149.7" cy="181.2" r="2.3"/><circle cx="16.2" cy="50.4" r="1.9"/><circle cx="213.4" cy="137.5" r="2.4"/><circle cx="250.0" cy="51.6" r="1.7"/><circle cx="66.6" cy="96.9" r="2.4"/><circle cx="207.5" cy="45.5" r="1.8"/><circle cx="55.0" cy="53.9" r="2.4"/><circle cx="151.3" cy="191.9" r="2.3"/><circle cx="45.1" cy="61.7" r="2.4"/><circle cx="260.8" cy="79.9" r="2.4"/><circle cx="49.4" cy="66.1" r="2.4"/><circle cx="202.4" cy="136.6" r="2.1"/><circle cx="27.6" cy="91.9" r="2.4"/><circle cx="126.9" cy="68.4" r="2.3"/><circle cx="138.8" cy="128.0" r="2.3"/><circle cx="90.2" cy="101.1" r="2.4"/><circle cx="269.4" cy="194.6" r="2.2"/><circle cx="202.6" cy="43.7" r="1.9"/><circle cx="122.2" cy="145.1" r="2.3"/><circle cx="185.9" cy="150.0" r="2.3"/><circle cx="194.8" cy="176.8" r="2.1"/><circle cx="67.0" cy="69.2" r="2.4"/><circle cx="182.1" cy="81.4" r="2.3"/><circle cx="57.9" cy="50.3" r="2.4"/><circle cx="44.2" cy="121.5" r="2.4"/><circle cx="53.8" cy="179.6" r="2.4"/><circle cx="214.1" cy="63.8" r="2.4"/><circle cx="154.2" cy="128.6" r="2.2"/><circle cx="267.8" cy="130.7" r="1.9"/><circle cx="114.6" cy="182.9" r="2.3"/><circle cx="192.2" cy="54.3" r="2.0"/><circle cx="41.9" cy="72.8" r="2.4"/><circle cx="95.9" cy="104.9" r="2.4"/><circle cx="26.2" cy="96.9" r="2.4"/><circle cx="173.8" cy="159.5" r="2.0"/><circle cx="56.8" cy="27.4" r="2.4"/><circle cx="244.3" cy="68.6" r="2.0"/><circle cx="239.2" cy="52.2" r="2.4"/><circle cx="89.1" cy="39.2" r="2.4"/><circle cx="200.6" cy="34.1" r="1.9"/><circle cx="186.7" cy="148.3" r="2.3"/><circle cx="77.3" cy="121.2" r="2.4"/><circle cx="244.6" cy="60.7" r="2.2"/><circle cx="27.4" cy="73.6" r="2.4"/><circle cx="136.8" cy="125.6" r="2.3"/><circle cx="149.4" cy="188.4" r="2.2"/><circle cx="205.9" cy="180.3" r="2.1"/><circle cx="243.2" cy="168.4" r="1.8"/><circle cx="171.8" cy="168.0" r="2.0"/><circle cx="259.0" cy="84.1" r="2.0"/><circle cx="88.2" cy="152.9" r="2.4"/><circle cx="57.0" cy="57.4" r="2.4"/><circle cx="177.6" cy="74.0" r="2.0"/><circle cx="169.3" cy="180.5" r="2.3"/><circle cx="251.0" cy="78.7" r="2.2"/><circle cx="121.0" cy="88.9" r="2.3"/><circle cx="52.8" cy="163.5" r="2.4"/><circle cx="162.0" cy="125.3" r="1.9"/><circle cx="79.0" cy="65.3" r="2.4"/><circle cx="240.2" cy="101.7" r="2.1"/><circle cx="78.2" cy="95.9" r="2.4"/><circle cx="277.1" cy="27.8" r="2.1"/><circle cx="131.3" cy="80.7" r="2.3"/><circle cx="255.8" cy="40.9" r="2.1"/><circle cx="171.9" cy="187.4" r="2.2"/><circle cx="82.5" cy="142.2" r="2.4"/><circle cx="206.8" cy="42.7" r="1.9"/><circle cx="51.7" cy="103.9" r="2.4"/><circle cx="85.6" cy="32.0" r="2.4"/><circle cx="181.9" cy="156.1" r="2.4"/><circle cx="187.8" cy="39.2" r="2.0"/><circle cx="86.7" cy="58.1" r="2.4"/><circle cx="229.8" cy="86.3" r="2.1"/><circle cx="94.6" cy="149.4" r="2.4"/><circle cx="200.5" cy="37.0" r="2.0"/><circle cx="259.1" cy="192.4" r="2.3"/><circle cx="189.6" cy="133.1" r="2.1"/><circle cx="38.3" cy="58.5" r="2.4"/><circle cx="235.5" cy="179.0" r="2.3"/><circle cx="158.0" cy="64.8" r="2.4"/><circle cx="184.2" cy="89.7" r="1.7"/><circle cx="275.7" cy="128.5" r="2.1"/><circle cx="170.3" cy="115.3" r="1.9"/><circle cx="122.2" cy="64.4" r="2.3"/><circle cx="90.5" cy="149.4" r="2.4"/><circle cx="167.6" cy="91.0" r="2.0"/><circle cx="50.3" cy="84.4" r="2.4"/><circle cx="60.3" cy="178.4" r="2.4"/><circle cx="212.6" cy="83.9" r="2.1"/><circle cx="75.3" cy="116.2" r="2.4"/><circle cx="231.5" cy="160.8" r="2.1"/><circle cx="260.6" cy="41.5" r="1.7"/><circle cx="41.2" cy="112.3" r="2.4"/><circle cx="75.1" cy="172.0" r="2.4"/><circle cx="72.1" cy="142.0" r="2.4"/><circle cx="40.6" cy="88.8" r="2.4"/><circle cx="134.2" cy="163.5" r="2.3"/><circle cx="171.6" cy="59.1" r="2.0"/><circle cx="239.7" cy="47.7" r="2.2"/><circle cx="262.3" cy="27.1" r="2.2"/><circle cx="175.3" cy="86.3" r="2.1"/><circle cx="146.6" cy="37.3" r="2.0"/><circle cx="174.4" cy="134.9" r="2.0"/><circle cx="148.7" cy="77.2" r="2.0"/><circle cx="92.4" cy="104.9" r="2.4"/><circle cx="59.1" cy="31.6" r="2.4"/><circle cx="92.6" cy="39.9" r="2.4"/><circle cx="159.6" cy="33.3" r="2.1"/><circle cx="230.7" cy="69.6" r="1.9"/><circle cx="196.5" cy="106.6" r="1.8"/><circle cx="191.3" cy="130.0" r="2.4"/><circle cx="213.6" cy="27.2" r="2.3"/><circle cx="31.6" cy="117.4" r="2.4"/><circle cx="29.5" cy="88.5" r="2.4"/><circle cx="248.7" cy="120.6" r="2.0"/><circle cx="214.8" cy="31.3" r="2.1"/><circle cx="239.7" cy="41.9" r="1.7"/><circle cx="47.7" cy="88.1" r="2.4"/><circle cx="190.5" cy="163.9" r="2.2"/><circle cx="211.0" cy="24.1" r="1.8"/><circle cx="159.3" cy="103.8" r="2.2"/><circle cx="176.0" cy="175.3" r="2.1"/><circle cx="66.1" cy="61.1" r="2.4"/><circle cx="194.9" cy="185.6" r="2.1"/><circle cx="181.6" cy="174.2" r="1.9"/><circle cx="195.9" cy="65.8" r="2.4"/><circle cx="67.0" cy="113.1" r="2.4"/><circle cx="114.5" cy="140.4" r="2.3"/><circle cx="59.3" cy="62.3" r="2.4"/><circle cx="171.9" cy="154.3" r="1.9"/><circle cx="204.5" cy="89.0" r="1.9"/><circle cx="174.3" cy="22.4" r="2.2"/><circle cx="67.9" cy="117.4" r="2.4"/><circle cx="249.1" cy="139.3" r="2.4"/><circle cx="54.0" cy="172.0" r="2.4"/><circle cx="16.8" cy="189.0" r="1.9"/><circle cx="152.6" cy="127.0" r="1.7"/><circle cx="252.5" cy="134.9" r="2.1"/><circle cx="148.3" cy="38.3" r="2.1"/><circle cx="166.7" cy="169.8" r="2.3"/><circle cx="33.1" cy="68.9" r="2.4"/><circle cx="16.2" cy="43.8" r="1.9"/><circle cx="247.4" cy="87.8" r="1.7"/><circle cx="75.7" cy="65.0" r="2.4"/><circle cx="267.1" cy="137.7" r="2.0"/><circle cx="86.6" cy="27.3" r="2.4"/><circle cx="245.8" cy="87.4" r="2.3"/><circle cx="240.5" cy="88.9" r="2.0"/><circle cx="128.6" cy="149.2" r="2.3"/><circle cx="16.6" cy="142.8" r="1.9"/><circle cx="214.4" cy="169.8" r="2.0"/><circle cx="94.6" cy="179.5" r="2.4"/><circle cx="247.8" cy="60.4" r="1.9"/><circle cx="275.1" cy="79.8" r="2.3"/><circle cx="71.6" cy="163.5" r="2.4"/><circle cx="134.2" cy="122.0" r="2.3"/><circle cx="123.9" cy="57.0" r="2.3"/><circle cx="254.6" cy="148.2" r="2.4"/><circle cx="179.8" cy="54.3" r="2.1"/><circle cx="157.2" cy="116.4" r="2.2"/><circle cx="16.6" cy="30.6" r="1.9"/><circle cx="157.0" cy="59.1" r="2.1"/><circle cx="177.4" cy="137.0" r="2.4"/><circle cx="74.2" cy="167.3" r="2.4"/><circle cx="210.1" cy="75.4" r="2.3"/><circle cx="183.6" cy="68.4" r="2.4"/><circle cx="77.5" cy="113.0" r="2.4"/><circle cx="239.3" cy="153.5" r="1.8"/><circle cx="116.9" cy="68.1" r="2.3"/><circle cx="247.9" cy="46.7" r="1.9"/><circle cx="202.6" cy="190.3" r="1.7"/><circle cx="233.5" cy="154.0" r="1.8"/><circle cx="170.3" cy="146.3" r="2.2"/><circle cx="272.2" cy="119.6" r="2.4"/><circle cx="148.0" cy="49.6" r="2.1"/><circle cx="75.4" cy="72.4" r="2.4"/><circle cx="16.2" cy="132.9" r="1.9"/><circle cx="254.9" cy="140.5" r="2.3"/><circle cx="254.1" cy="116.1" r="2.4"/><circle cx="177.5" cy="160.6" r="2.0"/><circle cx="181.5" cy="93.9" r="1.7"/><circle cx="29.5" cy="121.6" r="2.4"/><circle cx="153.8" cy="176.1" r="2.4"/><circle cx="246.6" cy="137.0" r="2.1"/><circle cx="16.4" cy="24.0" r="1.9"/><circle cx="174.9" cy="103.1" r="1.9"/><circle cx="162.9" cy="177.5" r="1.7"/><circle cx="53.7" cy="36.1" r="2.4"/><circle cx="44.0" cy="31.1" r="2.4"/><circle cx="220.8" cy="56.8" r="1.8"/><circle cx="189.4" cy="76.0" r="1.8"/><circle cx="208.1" cy="186.5" r="2.0"/><circle cx="148.2" cy="170.2" r="1.9"/><circle cx="161.6" cy="84.0" r="2.2"/><circle cx="157.4" cy="21.8" r="1.7"/><circle cx="246.0" cy="31.3" r="2.2"/><circle cx="168.2" cy="33.8" r="2.4"/><circle cx="219.4" cy="171.1" r="2.0"/><circle cx="266.5" cy="190.5" r="2.0"/><circle cx="216.7" cy="163.3" r="1.8"/><circle cx="213.8" cy="66.9" r="2.0"/><circle cx="167.5" cy="65.5" r="1.8"/><circle cx="272.6" cy="57.0" r="2.1"/><circle cx="87.3" cy="178.6" r="2.4"/><circle cx="74.0" cy="113.2" r="2.4"/><circle cx="186.3" cy="145.6" r="2.0"/><circle cx="46.7" cy="83.3" r="2.4"/><circle cx="173.3" cy="51.8" r="2.2"/><circle cx="69.9" cy="47.3" r="2.4"/><circle cx="150.9" cy="127.6" r="1.8"/><circle cx="195.1" cy="171.8" r="2.2"/><circle cx="270.4" cy="41.3" r="2.3"/><circle cx="181.0" cy="172.5" r="2.3"/><circle cx="64.9" cy="178.9" r="2.4"/><circle cx="187.4" cy="168.6" r="2.2"/><circle cx="157.9" cy="133.5" r="2.2"/><circle cx="232.7" cy="39.4" r="1.8"/><circle cx="208.5" cy="160.5" r="2.0"/><circle cx="254.2" cy="102.7" r="1.9"/><circle cx="212.4" cy="136.5" r="2.4"/><circle cx="136.1" cy="85.0" r="2.3"/><circle cx="55.7" cy="31.3" r="2.4"/><circle cx="40.2" cy="61.7" r="2.4"/><circle cx="229.9" cy="161.8" r="2.2"/><circle cx="95.8" cy="61.2" r="2.4"/><circle cx="81.5" cy="138.2" r="2.4"/><circle cx="16.4" cy="159.3" r="1.9"/><circle cx="84.9" cy="144.8" r="2.4"/><circle cx="257.9" cy="63.0" r="2.0"/><circle cx="169.9" cy="146.3" r="2.4"/><circle cx="206.7" cy="167.2" r="2.1"/><circle cx="69.8" cy="174.8" r="2.4"/><circle cx="266.9" cy="136.4" r="2.2"/><circle cx="27.4" cy="65.5" r="2.4"/><circle cx="139.1" cy="133.3" r="2.3"/><circle cx="266.0" cy="166.1" r="2.0"/><circle cx="131.3" cy="124.2" r="2.3"/><circle cx="72.0" cy="171.9" r="2.4"/><circle cx="124.9" cy="54.1" r="2.3"/><circle cx="53.0" cy="116.2" r="2.4"/><circle cx="173.4" cy="30.3" r="1.9"/><circle cx="203.3" cy="79.8" r="1.9"/><circle cx="170.4" cy="21.6" r="2.1"/><circle cx="83.3" cy="108.5" r="2.4"/><circle cx="124.8" cy="147.3" r="2.3"/><circle cx="239.8" cy="97.5" r="2.3"/><circle cx="181.3" cy="21.9" r="2.2"/><circle cx="148.5" cy="102.8" r="1.9"/><circle cx="157.2" cy="167.0" r="1.8"/><circle cx="189.0" cy="93.3" r="2.3"/><circle cx="24.4" cy="35.9" r="2.4"/><circle cx="192.3" cy="192.2" r="1.9"/><circle cx="218.9" cy="92.4" r="1.8"/><circle cx="266.8" cy="123.2" r="1.7"/><circle cx="113.0" cy="131.4" r="2.3"/><circle cx="224.9" cy="146.8" r="2.2"/><circle cx="63.2" cy="47.2" r="2.4"/><circle cx="81.8" cy="121.3" r="2.4"/><circle cx="203.0" cy="182.0" r="2.3"/><circle cx="66.7" cy="31.2" r="2.4"/><circle cx="240.3" cy="43.4" r="2.3"/><circle cx="167.8" cy="125.6" r="2.2"/><circle cx="256.6" cy="103.4" r="2.0"/><circle cx="120.4" cy="117.9" r="2.3"/><circle cx="53.5" cy="50.5" r="2.4"/><circle cx="236.9" cy="59.7" r="2.2"/><circle cx="136.2" cy="44.6" r="2.3"/><circle cx="209.8" cy="190.4" r="2.1"/><circle cx="245.7" cy="49.3" r="1.7"/><circle cx="125.0" cy="88.2" r="2.3"/><circle cx="233.9" cy="94.7" r="2.1"/><circle cx="117.4" cy="162.5" r="2.3"/><circle cx="232.7" cy="133.8" r="2.2"/><circle cx="165.4" cy="50.7" r="2.1"/><circle cx="221.4" cy="25.5" r="2.1"/><circle cx="63.1" cy="167.1" r="2.4"/><circle cx="94.1" cy="64.9" r="2.4"/><circle cx="278.5" cy="185.7" r="2.2"/><circle cx="193.0" cy="107.7" r="1.8"/><circle cx="183.6" cy="84.4" r="2.3"/><circle cx="217.2" cy="86.9" r="1.8"/><circle cx="152.2" cy="43.6" r="2.1"/><circle cx="126.3" cy="107.4" r="2.3"/><circle cx="75.5" cy="142.1" r="2.4"/><circle cx="40.6" cy="121.3" r="2.4"/><circle cx="83.3" cy="43.0" r="2.4"/><circle cx="229.2" cy="119.0" r="1.8"/><circle cx="146.0" cy="112.7" r="1.7"/></g>
<g fill="url(#gR)"><circle cx="153.9" cy="23.6" r="1.9"/><circle cx="184.1" cy="87.3" r="2.0"/><circle cx="232.9" cy="103.1" r="1.8"/><circle cx="194.5" cy="102.6" r="2.2"/><circle cx="154.8" cy="59.7" r="2.2"/><circle cx="255.1" cy="185.5" r="2.4"/><circle cx="247.6" cy="122.5" r="2.1"/><circle cx="238.0" cy="23.2" r="2.0"/><circle cx="210.4" cy="110.0" r="2.1"/><circle cx="207.6" cy="60.4" r="2.0"/><circle cx="196.2" cy="49.2" r="1.8"/><circle cx="216.5" cy="122.2" r="1.8"/><circle cx="184.7" cy="71.3" r="2.4"/><circle cx="202.6" cy="113.1" r="2.4"/><circle cx="235.2" cy="123.0" r="2.4"/><circle cx="233.7" cy="52.4" r="2.3"/><circle cx="176.9" cy="95.9" r="1.9"/><circle cx="201.0" cy="188.3" r="2.0"/><circle cx="155.7" cy="122.3" r="2.2"/><circle cx="195.6" cy="188.5" r="2.4"/><circle cx="257.6" cy="125.6" r="2.4"/><circle cx="147.6" cy="40.9" r="2.5"/><circle cx="240.4" cy="66.8" r="2.3"/><circle cx="242.0" cy="160.9" r="2.0"/><circle cx="244.2" cy="26.4" r="2.0"/><circle cx="250.7" cy="164.9" r="2.5"/><circle cx="215.4" cy="47.3" r="2.4"/><circle cx="216.4" cy="84.1" r="2.2"/><circle cx="188.6" cy="104.0" r="2.3"/><circle cx="195.9" cy="98.8" r="2.5"/><circle cx="183.2" cy="27.5" r="2.4"/><circle cx="154.4" cy="151.6" r="2.1"/><circle cx="152.0" cy="71.1" r="1.9"/><circle cx="246.5" cy="176.2" r="2.1"/><circle cx="208.7" cy="145.6" r="1.9"/><circle cx="189.0" cy="51.1" r="2.0"/><circle cx="170.7" cy="93.8" r="2.4"/><circle cx="223.8" cy="22.8" r="2.2"/><circle cx="268.2" cy="186.7" r="2.4"/><circle cx="201.2" cy="131.6" r="2.3"/><circle cx="178.5" cy="181.0" r="2.5"/><circle cx="244.7" cy="152.3" r="2.0"/><circle cx="234.9" cy="87.2" r="1.9"/><circle cx="218.9" cy="79.5" r="2.0"/><circle cx="260.6" cy="168.5" r="1.9"/><circle cx="267.6" cy="102.9" r="2.0"/><circle cx="194.6" cy="84.2" r="2.3"/><circle cx="216.7" cy="163.8" r="2.0"/><circle cx="175.5" cy="150.6" r="2.0"/><circle cx="213.8" cy="177.4" r="2.5"/><circle cx="172.7" cy="122.9" r="2.3"/><circle cx="223.4" cy="22.1" r="2.3"/><circle cx="193.6" cy="130.6" r="2.1"/><circle cx="170.0" cy="41.1" r="2.4"/><circle cx="245.5" cy="146.3" r="2.5"/><circle cx="204.5" cy="54.6" r="2.4"/><circle cx="197.8" cy="37.2" r="2.3"/><circle cx="149.6" cy="97.5" r="2.2"/><circle cx="199.2" cy="185.1" r="2.4"/><circle cx="239.6" cy="21.8" r="2.4"/><circle cx="215.5" cy="22.0" r="2.1"/><circle cx="236.7" cy="120.2" r="2.1"/><circle cx="196.6" cy="67.8" r="2.4"/><circle cx="239.3" cy="76.4" r="2.0"/><circle cx="228.7" cy="48.6" r="2.1"/><circle cx="248.7" cy="46.9" r="2.2"/><circle cx="269.3" cy="123.1" r="1.9"/><circle cx="209.3" cy="146.1" r="2.0"/><circle cx="191.1" cy="49.5" r="2.1"/><circle cx="252.7" cy="64.5" r="2.0"/><circle cx="269.2" cy="127.6" r="2.2"/><circle cx="270.2" cy="161.2" r="2.0"/><circle cx="208.5" cy="164.2" r="2.4"/><circle cx="225.7" cy="49.2" r="2.1"/><circle cx="238.9" cy="84.0" r="2.2"/><circle cx="227.9" cy="73.2" r="2.0"/><circle cx="154.2" cy="165.5" r="1.9"/><circle cx="202.9" cy="62.2" r="2.0"/><circle cx="198.1" cy="79.4" r="2.0"/><circle cx="186.8" cy="77.4" r="2.3"/><circle cx="263.5" cy="131.8" r="2.3"/><circle cx="150.8" cy="82.5" r="2.5"/><circle cx="188.6" cy="179.1" r="2.4"/><circle cx="215.9" cy="64.3" r="2.2"/><circle cx="257.1" cy="105.0" r="1.9"/><circle cx="191.2" cy="39.9" r="2.3"/><circle cx="242.6" cy="176.8" r="2.4"/><circle cx="261.8" cy="78.7" r="2.4"/><circle cx="203.5" cy="54.5" r="2.1"/><circle cx="172.4" cy="169.8" r="2.0"/><circle cx="196.7" cy="27.6" r="2.4"/><circle cx="241.2" cy="110.8" r="1.9"/><circle cx="253.2" cy="100.6" r="2.1"/><circle cx="258.7" cy="119.6" r="2.1"/><circle cx="206.4" cy="189.7" r="2.3"/><circle cx="260.9" cy="51.8" r="2.2"/><circle cx="239.3" cy="113.7" r="1.9"/><circle cx="271.7" cy="117.1" r="1.9"/><circle cx="240.8" cy="101.7" r="2.1"/><circle cx="175.7" cy="58.8" r="2.1"/><circle cx="216.9" cy="47.8" r="2.1"/><circle cx="230.8" cy="42.8" r="2.0"/><circle cx="263.2" cy="157.8" r="2.1"/><circle cx="172.3" cy="27.7" r="2.2"/><circle cx="218.7" cy="58.9" r="2.0"/><circle cx="158.9" cy="167.0" r="1.8"/><circle cx="195.9" cy="158.2" r="1.9"/><circle cx="173.6" cy="27.4" r="2.1"/><circle cx="204.9" cy="154.7" r="2.1"/><circle cx="169.4" cy="91.7" r="2.1"/><circle cx="178.6" cy="118.0" r="1.9"/><circle cx="195.5" cy="174.2" r="1.8"/><circle cx="230.9" cy="131.0" r="2.1"/><circle cx="162.9" cy="73.2" r="2.3"/><circle cx="216.6" cy="73.2" r="2.1"/><circle cx="204.6" cy="60.7" r="2.0"/><circle cx="264.7" cy="56.3" r="2.0"/><circle cx="242.3" cy="32.0" r="1.9"/><circle cx="215.9" cy="44.8" r="2.1"/><circle cx="179.5" cy="62.9" r="1.8"/><circle cx="246.7" cy="38.0" r="2.1"/><circle cx="240.0" cy="123.2" r="2.0"/><circle cx="196.2" cy="92.7" r="2.0"/><circle cx="279.4" cy="176.3" r="2.0"/><circle cx="150.9" cy="54.3" r="2.1"/><circle cx="170.7" cy="186.2" r="2.3"/><circle cx="178.0" cy="150.2" r="2.5"/><circle cx="159.0" cy="47.9" r="2.0"/><circle cx="261.2" cy="78.3" r="2.0"/><circle cx="197.0" cy="23.2" r="2.1"/><circle cx="196.0" cy="193.2" r="1.9"/><circle cx="261.2" cy="24.7" r="2.4"/><circle cx="240.3" cy="116.7" r="1.9"/><circle cx="242.0" cy="120.7" r="2.2"/><circle cx="227.1" cy="181.4" r="2.2"/><circle cx="190.7" cy="143.9" r="2.3"/><circle cx="235.8" cy="184.1" r="2.1"/><circle cx="212.5" cy="79.2" r="2.5"/><circle cx="275.7" cy="93.0" r="2.2"/><circle cx="259.6" cy="142.4" r="2.4"/><circle cx="248.9" cy="29.0" r="2.3"/><circle cx="182.9" cy="181.1" r="2.4"/><circle cx="146.9" cy="76.7" r="1.8"/><circle cx="197.8" cy="81.2" r="1.9"/><circle cx="221.5" cy="155.7" r="1.8"/><circle cx="182.1" cy="106.8" r="1.9"/><circle cx="257.4" cy="58.7" r="2.4"/><circle cx="176.4" cy="21.2" r="2.4"/><circle cx="158.4" cy="154.4" r="2.2"/><circle cx="163.5" cy="170.6" r="2.0"/><circle cx="250.7" cy="102.2" r="1.9"/><circle cx="159.6" cy="81.7" r="1.9"/><circle cx="178.2" cy="158.2" r="2.3"/><circle cx="185.1" cy="70.1" r="1.9"/><circle cx="189.6" cy="70.1" r="2.2"/><circle cx="210.8" cy="87.1" r="2.5"/><circle cx="206.6" cy="119.6" r="2.0"/><circle cx="210.9" cy="87.5" r="2.4"/><circle cx="257.3" cy="86.1" r="1.9"/><circle cx="202.3" cy="50.9" r="2.2"/><circle cx="212.6" cy="98.7" r="2.2"/><circle cx="170.5" cy="52.6" r="2.1"/><circle cx="243.0" cy="81.5" r="2.2"/><circle cx="241.5" cy="73.0" r="2.0"/><circle cx="249.2" cy="120.7" r="2.5"/><circle cx="188.2" cy="57.2" r="2.2"/><circle cx="224.1" cy="51.1" r="1.9"/><circle cx="215.6" cy="68.0" r="2.5"/><circle cx="179.9" cy="186.2" r="1.8"/><circle cx="217.1" cy="155.7" r="2.0"/><circle cx="230.8" cy="95.0" r="1.9"/><circle cx="158.2" cy="129.4" r="1.9"/><circle cx="191.3" cy="90.2" r="2.0"/><circle cx="276.3" cy="38.8" r="2.0"/><circle cx="238.8" cy="92.4" r="1.8"/><circle cx="205.1" cy="124.5" r="2.0"/><circle cx="163.7" cy="194.1" r="1.9"/><circle cx="163.0" cy="92.9" r="1.8"/><circle cx="159.3" cy="186.9" r="2.3"/><circle cx="164.9" cy="110.1" r="1.9"/><circle cx="233.7" cy="120.2" r="2.2"/><circle cx="240.6" cy="148.0" r="2.0"/><circle cx="159.6" cy="146.9" r="2.3"/><circle cx="157.4" cy="23.9" r="2.1"/><circle cx="147.1" cy="173.0" r="2.0"/><circle cx="254.4" cy="171.3" r="1.9"/><circle cx="226.3" cy="192.4" r="2.1"/><circle cx="164.9" cy="31.5" r="1.8"/><circle cx="219.4" cy="21.4" r="2.1"/><circle cx="183.4" cy="81.3" r="2.4"/><circle cx="210.3" cy="117.3" r="2.4"/><circle cx="209.2" cy="28.3" r="1.8"/><circle cx="162.6" cy="72.2" r="2.3"/><circle cx="159.9" cy="140.4" r="2.1"/><circle cx="157.0" cy="78.4" r="2.4"/><circle cx="271.1" cy="154.2" r="2.2"/><circle cx="241.7" cy="159.4" r="2.4"/><circle cx="188.5" cy="46.3" r="2.3"/><circle cx="215.3" cy="150.7" r="2.0"/><circle cx="240.0" cy="91.2" r="2.3"/><circle cx="237.1" cy="132.5" r="2.3"/><circle cx="146.0" cy="177.1" r="2.1"/><circle cx="155.7" cy="179.1" r="2.2"/><circle cx="182.1" cy="149.3" r="1.9"/><circle cx="245.4" cy="192.2" r="1.9"/><circle cx="179.7" cy="25.4" r="2.0"/><circle cx="155.7" cy="194.6" r="2.1"/><circle cx="253.9" cy="189.7" r="2.2"/><circle cx="182.7" cy="111.2" r="2.3"/><circle cx="261.3" cy="55.7" r="1.8"/><circle cx="163.1" cy="65.5" r="2.4"/><circle cx="162.6" cy="127.5" r="2.1"/><circle cx="175.5" cy="130.7" r="2.0"/><circle cx="204.8" cy="134.5" r="1.9"/><circle cx="186.0" cy="127.1" r="1.9"/><circle cx="205.1" cy="193.3" r="2.4"/><circle cx="202.2" cy="40.4" r="2.4"/><circle cx="157.7" cy="167.6" r="2.2"/><circle cx="251.1" cy="182.3" r="1.9"/><circle cx="247.0" cy="143.3" r="2.0"/><circle cx="161.9" cy="29.5" r="2.3"/><circle cx="229.4" cy="56.8" r="2.4"/><circle cx="181.8" cy="46.8" r="2.2"/><circle cx="189.4" cy="24.3" r="2.3"/><circle cx="207.6" cy="56.7" r="2.4"/><circle cx="259.7" cy="171.5" r="1.9"/><circle cx="197.3" cy="38.4" r="1.9"/><circle cx="216.9" cy="169.5" r="1.9"/><circle cx="155.5" cy="81.9" r="2.3"/><circle cx="217.6" cy="80.2" r="2.1"/><circle cx="203.0" cy="115.0" r="2.5"/><circle cx="250.4" cy="114.7" r="2.2"/><circle cx="205.2" cy="61.2" r="2.0"/><circle cx="199.7" cy="88.1" r="2.1"/><circle cx="195.5" cy="69.0" r="2.0"/><circle cx="182.1" cy="105.7" r="1.9"/><circle cx="252.3" cy="145.0" r="1.9"/><circle cx="151.8" cy="49.5" r="2.2"/><circle cx="181.1" cy="181.4" r="2.2"/><circle cx="228.5" cy="170.8" r="2.2"/><circle cx="209.4" cy="45.5" r="2.2"/><circle cx="187.3" cy="166.0" r="2.4"/><circle cx="206.6" cy="65.7" r="2.4"/><circle cx="164.0" cy="109.1" r="2.4"/><circle cx="181.1" cy="131.8" r="2.5"/><circle cx="263.4" cy="42.6" r="2.1"/><circle cx="263.7" cy="40.4" r="2.2"/><circle cx="188.0" cy="125.2" r="2.1"/><circle cx="218.0" cy="59.9" r="2.1"/><circle cx="193.7" cy="65.1" r="2.4"/><circle cx="231.5" cy="25.3" r="2.3"/><circle cx="232.7" cy="120.7" r="2.2"/><circle cx="210.2" cy="182.3" r="1.9"/><circle cx="250.2" cy="34.1" r="2.2"/><circle cx="241.5" cy="51.1" r="2.2"/><circle cx="150.4" cy="194.3" r="2.3"/><circle cx="234.2" cy="126.3" r="2.0"/><circle cx="259.3" cy="115.4" r="2.4"/><circle cx="191.7" cy="184.1" r="2.5"/><circle cx="155.2" cy="108.3" r="2.3"/><circle cx="194.8" cy="69.1" r="1.8"/><circle cx="217.2" cy="172.0" r="2.0"/><circle cx="155.2" cy="34.2" r="2.1"/><circle cx="153.4" cy="118.6" r="1.9"/><circle cx="249.1" cy="189.5" r="2.4"/><circle cx="220.2" cy="82.1" r="1.8"/><circle cx="237.7" cy="84.4" r="2.0"/><circle cx="207.6" cy="117.9" r="2.3"/><circle cx="157.1" cy="155.7" r="2.1"/><circle cx="276.9" cy="173.1" r="1.8"/><circle cx="162.8" cy="190.8" r="2.2"/><circle cx="160.4" cy="103.3" r="2.1"/><circle cx="199.4" cy="176.6" r="2.3"/><circle cx="227.2" cy="66.5" r="2.5"/><circle cx="234.7" cy="114.9" r="1.8"/><circle cx="239.8" cy="182.6" r="2.2"/><circle cx="265.6" cy="171.7" r="2.4"/><circle cx="173.1" cy="47.6" r="2.2"/><circle cx="170.4" cy="143.5" r="1.8"/><circle cx="221.7" cy="150.5" r="2.0"/><circle cx="236.4" cy="50.3" r="1.9"/><circle cx="172.5" cy="27.1" r="1.9"/><circle cx="212.5" cy="189.0" r="1.9"/><circle cx="194.8" cy="174.1" r="2.0"/><circle cx="220.9" cy="22.5" r="2.2"/><circle cx="262.8" cy="174.5" r="2.0"/><circle cx="255.1" cy="194.0" r="2.2"/><circle cx="155.6" cy="65.4" r="1.8"/><circle cx="254.4" cy="159.8" r="2.0"/><circle cx="181.2" cy="39.4" r="2.0"/><circle cx="266.8" cy="43.4" r="2.0"/><circle cx="188.2" cy="134.4" r="2.3"/><circle cx="169.9" cy="193.3" r="2.2"/><circle cx="218.7" cy="123.4" r="2.0"/><circle cx="161.7" cy="38.9" r="2.4"/><circle cx="150.8" cy="161.0" r="2.3"/><circle cx="275.8" cy="59.5" r="1.8"/><circle cx="185.3" cy="194.6" r="2.1"/><circle cx="276.4" cy="86.3" r="2.0"/><circle cx="208.5" cy="147.7" r="2.4"/><circle cx="240.4" cy="46.5" r="2.3"/><circle cx="155.7" cy="190.0" r="2.4"/><circle cx="241.3" cy="47.9" r="1.8"/><circle cx="208.9" cy="65.7" r="2.3"/><circle cx="240.2" cy="22.6" r="2.4"/><circle cx="234.0" cy="110.7" r="2.1"/><circle cx="202.4" cy="137.2" r="1.9"/><circle cx="155.2" cy="116.9" r="2.3"/><circle cx="248.2" cy="162.3" r="2.1"/><circle cx="275.0" cy="127.9" r="2.1"/><circle cx="179.7" cy="163.6" r="2.3"/><circle cx="281.1" cy="83.2" r="2.2"/><circle cx="222.2" cy="55.4" r="2.1"/><circle cx="174.8" cy="131.8" r="1.8"/><circle cx="212.3" cy="99.9" r="2.5"/><circle cx="216.1" cy="50.2" r="1.8"/><circle cx="164.0" cy="67.4" r="2.0"/><circle cx="194.0" cy="156.5" r="2.0"/><circle cx="243.5" cy="76.9" r="2.4"/><circle cx="153.2" cy="130.8" r="2.3"/><circle cx="260.2" cy="132.6" r="2.3"/><circle cx="253.4" cy="189.1" r="2.1"/><circle cx="239.3" cy="111.1" r="2.2"/><circle cx="194.8" cy="147.6" r="2.5"/><circle cx="190.1" cy="162.3" r="2.1"/><circle cx="187.6" cy="147.1" r="2.1"/><circle cx="262.1" cy="90.7" r="2.5"/><circle cx="248.5" cy="143.6" r="2.4"/><circle cx="147.2" cy="83.6" r="2.3"/><circle cx="245.8" cy="79.3" r="2.1"/><circle cx="237.3" cy="86.7" r="2.5"/><circle cx="244.0" cy="146.1" r="2.1"/><circle cx="161.2" cy="169.7" r="2.3"/><circle cx="212.1" cy="100.6" r="2.2"/><circle cx="183.4" cy="21.8" r="2.2"/><circle cx="233.5" cy="165.5" r="2.1"/><circle cx="191.9" cy="92.7" r="1.8"/><circle cx="233.0" cy="73.1" r="2.4"/><circle cx="246.4" cy="83.8" r="2.3"/><circle cx="196.5" cy="26.5" r="2.2"/><circle cx="201.5" cy="120.9" r="1.9"/><circle cx="236.6" cy="32.4" r="2.3"/><circle cx="193.2" cy="173.7" r="2.3"/><circle cx="213.0" cy="90.2" r="2.0"/><circle cx="200.6" cy="139.2" r="2.0"/><circle cx="226.9" cy="29.6" r="2.3"/><circle cx="257.0" cy="143.7" r="2.0"/><circle cx="221.2" cy="149.8" r="2.2"/><circle cx="248.6" cy="105.0" r="1.9"/><circle cx="243.7" cy="178.8" r="2.4"/><circle cx="204.8" cy="110.0" r="2.1"/><circle cx="259.3" cy="95.7" r="2.2"/><circle cx="201.9" cy="194.2" r="2.1"/><circle cx="256.3" cy="129.8" r="1.9"/><circle cx="186.6" cy="176.2" r="2.2"/><circle cx="192.5" cy="88.4" r="2.4"/><circle cx="235.3" cy="55.2" r="2.3"/><circle cx="235.0" cy="191.9" r="2.1"/><circle cx="244.6" cy="58.1" r="1.9"/><circle cx="145.4" cy="39.5" r="2.1"/><circle cx="208.2" cy="113.0" r="1.9"/><circle cx="227.0" cy="76.1" r="2.3"/><circle cx="202.0" cy="47.5" r="2.3"/><circle cx="222.2" cy="150.8" r="2.0"/><circle cx="255.3" cy="93.4" r="2.0"/><circle cx="264.4" cy="165.4" r="2.1"/><circle cx="190.0" cy="112.1" r="1.9"/><circle cx="146.6" cy="71.0" r="2.3"/><circle cx="239.5" cy="119.8" r="1.9"/><circle cx="192.0" cy="141.3" r="2.1"/><circle cx="244.1" cy="144.9" r="2.1"/><circle cx="247.5" cy="101.0" r="2.4"/><circle cx="218.1" cy="30.4" r="1.9"/><circle cx="193.7" cy="98.4" r="2.3"/><circle cx="198.6" cy="80.9" r="2.3"/><circle cx="250.8" cy="139.1" r="2.3"/><circle cx="197.7" cy="187.2" r="2.3"/><circle cx="193.5" cy="126.6" r="2.1"/><circle cx="160.7" cy="23.3" r="2.1"/><circle cx="174.2" cy="26.3" r="2.0"/><circle cx="247.0" cy="162.6" r="1.8"/><circle cx="160.3" cy="190.4" r="2.4"/><circle cx="240.7" cy="92.1" r="2.1"/><circle cx="220.0" cy="183.2" r="2.3"/><circle cx="174.1" cy="70.4" r="2.0"/><circle cx="178.8" cy="164.2" r="2.4"/><circle cx="204.1" cy="60.9" r="2.1"/><circle cx="258.9" cy="117.9" r="2.2"/><circle cx="189.6" cy="23.5" r="2.2"/><circle cx="243.2" cy="28.1" r="2.2"/><circle cx="192.1" cy="96.5" r="2.1"/><circle cx="243.7" cy="193.5" r="2.2"/><circle cx="251.2" cy="26.6" r="2.2"/><circle cx="200.2" cy="153.7" r="2.1"/><circle cx="164.8" cy="62.3" r="1.8"/><circle cx="228.8" cy="92.0" r="2.0"/><circle cx="195.2" cy="72.4" r="2.1"/><circle cx="257.9" cy="163.3" r="2.0"/><circle cx="202.2" cy="45.3" r="1.9"/><circle cx="251.5" cy="26.4" r="2.3"/><circle cx="231.7" cy="51.1" r="2.4"/><circle cx="178.9" cy="147.0" r="2.0"/><circle cx="226.3" cy="129.8" r="2.2"/><circle cx="250.7" cy="41.1" r="2.5"/><circle cx="167.0" cy="104.6" r="2.4"/><circle cx="203.4" cy="115.1" r="2.0"/><circle cx="199.3" cy="89.8" r="2.0"/><circle cx="151.3" cy="163.5" r="1.9"/><circle cx="175.6" cy="95.2" r="2.0"/><circle cx="268.8" cy="68.7" r="1.9"/><circle cx="264.8" cy="66.5" r="2.2"/><circle cx="188.1" cy="58.5" r="2.1"/><circle cx="219.0" cy="58.6" r="2.5"/><circle cx="256.5" cy="183.2" r="2.1"/><circle cx="219.5" cy="93.0" r="1.9"/><circle cx="189.8" cy="126.7" r="2.5"/><circle cx="199.9" cy="116.3" r="2.2"/><circle cx="223.5" cy="40.9" r="2.1"/><circle cx="230.4" cy="95.9" r="2.3"/><circle cx="161.3" cy="64.7" r="1.8"/><circle cx="186.8" cy="107.0" r="2.4"/><circle cx="183.0" cy="144.1" r="2.1"/><circle cx="149.3" cy="120.4" r="2.3"/><circle cx="189.0" cy="82.1" r="2.5"/><circle cx="178.1" cy="62.4" r="2.3"/><circle cx="211.8" cy="166.1" r="2.0"/><circle cx="250.8" cy="96.7" r="2.4"/><circle cx="239.7" cy="161.6" r="1.8"/><circle cx="274.1" cy="99.7" r="1.9"/><circle cx="225.3" cy="36.5" r="2.0"/><circle cx="196.6" cy="68.5" r="2.2"/><circle cx="184.1" cy="74.3" r="2.4"/><circle cx="237.4" cy="122.7" r="2.2"/><circle cx="208.0" cy="43.9" r="2.2"/><circle cx="180.9" cy="40.1" r="1.9"/><circle cx="264.7" cy="86.9" r="2.3"/><circle cx="166.5" cy="186.8" r="2.4"/><circle cx="253.3" cy="166.5" r="2.0"/><circle cx="175.6" cy="63.7" r="2.2"/><circle cx="147.5" cy="74.4" r="2.0"/><circle cx="184.6" cy="99.5" r="2.4"/><circle cx="181.2" cy="132.5" r="2.4"/><circle cx="263.1" cy="25.2" r="2.4"/><circle cx="249.1" cy="117.8" r="2.2"/><circle cx="191.0" cy="101.6" r="2.0"/><circle cx="197.9" cy="44.9" r="2.4"/><circle cx="267.6" cy="46.3" r="2.1"/><circle cx="224.8" cy="79.0" r="2.3"/><circle cx="220.6" cy="128.8" r="2.2"/><circle cx="275.0" cy="187.1" r="1.9"/><circle cx="205.5" cy="167.4" r="1.9"/><circle cx="172.6" cy="57.2" r="2.0"/><circle cx="201.9" cy="45.3" r="1.8"/><circle cx="264.6" cy="179.0" r="2.2"/><circle cx="169.7" cy="177.3" r="2.1"/><circle cx="186.1" cy="136.5" r="2.4"/><circle cx="171.3" cy="111.2" r="2.5"/><circle cx="246.9" cy="31.5" r="2.1"/><circle cx="151.6" cy="51.0" r="2.0"/><circle cx="156.8" cy="65.5" r="2.0"/><circle cx="232.8" cy="26.5" r="2.3"/><circle cx="148.8" cy="58.1" r="1.8"/><circle cx="252.5" cy="99.6" r="2.4"/><circle cx="253.8" cy="78.8" r="2.0"/><circle cx="230.9" cy="65.5" r="2.0"/><circle cx="202.8" cy="146.8" r="1.9"/><circle cx="168.7" cy="57.9" r="2.3"/><circle cx="159.5" cy="134.5" r="2.3"/><circle cx="263.2" cy="136.8" r="2.2"/><circle cx="258.5" cy="67.8" r="2.4"/><circle cx="255.6" cy="171.5" r="1.9"/><circle cx="160.7" cy="144.9" r="1.8"/><circle cx="223.2" cy="81.4" r="2.3"/><circle cx="210.9" cy="94.8" r="2.1"/><circle cx="160.6" cy="156.9" r="2.3"/><circle cx="199.1" cy="65.8" r="2.2"/><circle cx="244.0" cy="111.9" r="2.5"/><circle cx="152.4" cy="104.8" r="2.3"/><circle cx="190.4" cy="43.9" r="2.2"/><circle cx="145.1" cy="44.8" r="2.2"/><circle cx="151.9" cy="46.7" r="2.3"/><circle cx="170.0" cy="144.8" r="1.9"/><circle cx="240.0" cy="107.5" r="2.3"/><circle cx="267.2" cy="103.1" r="2.0"/><circle cx="151.6" cy="24.8" r="2.2"/><circle cx="266.0" cy="187.6" r="2.0"/><circle cx="257.8" cy="160.9" r="2.1"/><circle cx="176.8" cy="110.2" r="2.2"/><circle cx="264.5" cy="55.1" r="2.2"/><circle cx="164.4" cy="123.9" r="2.0"/><circle cx="183.3" cy="137.7" r="2.4"/><circle cx="198.0" cy="146.0" r="2.2"/><circle cx="184.4" cy="139.7" r="2.1"/><circle cx="199.3" cy="140.3" r="2.3"/><circle cx="185.4" cy="74.7" r="2.5"/><circle cx="248.8" cy="82.3" r="1.8"/><circle cx="173.2" cy="35.6" r="2.3"/><circle cx="211.4" cy="115.4" r="1.8"/><circle cx="240.8" cy="170.5" r="2.0"/><circle cx="235.8" cy="60.0" r="2.3"/><circle cx="194.0" cy="115.4" r="1.9"/></g>
<g fill="url(#gT)"><circle cx="45.6" cy="92.0" r="2.4"/><circle cx="262.7" cy="98.7" r="2.0"/><circle cx="154.8" cy="142.2" r="1.8"/><circle cx="113.7" cy="70.5" r="2.3"/><circle cx="49.8" cy="50.5" r="2.4"/><circle cx="169.7" cy="191.6" r="1.8"/><circle cx="215.5" cy="71.1" r="2.0"/><circle cx="170.1" cy="48.5" r="2.3"/><circle cx="213.6" cy="56.6" r="2.4"/><circle cx="255.8" cy="153.0" r="2.3"/><circle cx="197.4" cy="56.7" r="1.9"/><circle cx="151.1" cy="49.6" r="2.1"/><circle cx="16.5" cy="63.6" r="1.9"/><circle cx="28.3" cy="116.8" r="2.4"/><circle cx="33.1" cy="46.2" r="2.4"/><circle cx="154.0" cy="161.7" r="2.2"/><circle cx="119.1" cy="125.8" r="2.3"/><circle cx="238.5" cy="66.5" r="1.7"/><circle cx="53.9" cy="149.4" r="2.4"/><circle cx="154.4" cy="66.2" r="2.3"/><circle cx="154.2" cy="117.3" r="1.9"/><circle cx="248.4" cy="148.6" r="1.9"/><circle cx="195.0" cy="157.9" r="2.1"/><circle cx="66.5" cy="88.4" r="2.4"/><circle cx="147.5" cy="117.5" r="1.9"/><circle cx="41.2" cy="68.6" r="2.4"/><circle cx="49.7" cy="134.0" r="2.4"/><circle cx="240.5" cy="138.1" r="2.2"/><circle cx="45.1" cy="87.8" r="2.4"/><circle cx="222.7" cy="28.5" r="2.2"/><circle cx="89.3" cy="53.7" r="2.4"/><circle cx="225.3" cy="121.0" r="1.7"/><circle cx="265.4" cy="169.5" r="1.8"/><circle cx="50.2" cy="73.0" r="2.4"/><circle cx="126.4" cy="183.5" r="2.3"/><circle cx="156.6" cy="103.0" r="2.2"/><circle cx="216.8" cy="138.9" r="2.2"/><circle cx="208.0" cy="27.1" r="2.1"/><circle cx="260.2" cy="90.1" r="2.3"/><circle cx="164.0" cy="181.3" r="2.3"/><circle cx="169.1" cy="63.4" r="2.4"/><circle cx="146.8" cy="187.7" r="2.3"/><circle cx="203.2" cy="86.2" r="2.2"/><circle cx="234.5" cy="34.8" r="1.9"/><circle cx="218.1" cy="192.0" r="2.0"/><circle cx="92.7" cy="138.0" r="2.4"/><circle cx="195.2" cy="186.7" r="2.4"/><circle cx="259.2" cy="75.2" r="1.7"/><circle cx="189.0" cy="59.3" r="2.1"/><circle cx="199.0" cy="151.7" r="1.8"/><circle cx="16.7" cy="179.1" r="1.9"/><circle cx="88.6" cy="69.4" r="2.4"/><circle cx="222.7" cy="69.0" r="2.1"/><circle cx="16.4" cy="86.7" r="1.9"/><circle cx="234.8" cy="169.1" r="1.8"/><circle cx="34.0" cy="54.3" r="2.4"/><circle cx="123.1" cy="122.0" r="2.3"/><circle cx="170.2" cy="52.9" r="1.9"/><circle cx="137.3" cy="43.8" r="2.3"/><circle cx="134.5" cy="164.9" r="2.3"/><circle cx="121.4" cy="102.2" r="2.3"/><circle cx="35.3" cy="72.9" r="2.4"/><circle cx="256.9" cy="97.0" r="2.0"/><circle cx="146.7" cy="95.6" r="1.7"/><circle cx="80.8" cy="175.9" r="2.4"/><circle cx="76.3" cy="84.2" r="2.4"/><circle cx="236.1" cy="140.6" r="2.3"/><circle cx="225.0" cy="45.4" r="2.2"/><circle cx="196.0" cy="110.2" r="1.8"/><circle cx="16.5" cy="53.7" r="1.9"/><circle cx="254.7" cy="186.0" r="2.1"/><circle cx="64.9" cy="92.1" r="2.4"/><circle cx="186.1" cy="148.9" r="2.2"/><circle cx="246.5" cy="55.5" r="2.0"/><circle cx="230.0" cy="86.8" r="1.7"/><circle cx="228.5" cy="149.0" r="2.0"/><circle cx="257.2" cy="174.9" r="2.2"/><circle cx="130.5" cy="30.2" r="2.3"/><circle cx="220.4" cy="77.9" r="1.9"/><circle cx="270.8" cy="39.3" r="2.0"/><circle cx="16.7" cy="162.6" r="1.9"/><circle cx="16.5" cy="119.7" r="1.9"/><circle cx="184.8" cy="132.3" r="2.1"/><circle cx="59.9" cy="96.3" r="2.4"/><circle cx="154.5" cy="159.7" r="1.8"/><circle cx="239.2" cy="51.5" r="1.7"/><circle cx="252.2" cy="175.7" r="2.2"/><circle cx="242.6" cy="144.6" r="2.3"/><circle cx="140.8" cy="149.8" r="2.3"/><circle cx="222.4" cy="79.9" r="2.2"/><circle cx="234.9" cy="113.6" r="1.9"/><circle cx="16.4" cy="99.9" r="1.9"/><circle cx="249.0" cy="135.9" r="1.9"/><circle cx="258.9" cy="94.4" r="1.8"/><circle cx="242.5" cy="186.4" r="2.2"/><circle cx="46.7" cy="35.3" r="2.4"/><circle cx="250.6" cy="111.0" r="1.9"/><circle cx="212.0" cy="64.6" r="2.0"/><circle cx="252.2" cy="146.1" r="1.9"/><circle cx="48.3" cy="137.7" r="2.4"/><circle cx="255.9" cy="153.9" r="2.4"/><circle cx="59.2" cy="112.4" r="2.4"/><circle cx="163.4" cy="105.1" r="1.8"/><circle cx="191.6" cy="43.2" r="2.2"/><circle cx="205.5" cy="26.2" r="1.7"/><circle cx="63.3" cy="160.4" r="2.4"/><circle cx="161.7" cy="108.2" r="1.8"/><circle cx="258.9" cy="64.1" r="2.0"/><circle cx="202.9" cy="194.2" r="1.9"/><circle cx="60.6" cy="27.6" r="2.4"/><circle cx="50.2" cy="58.0" r="2.4"/><circle cx="193.4" cy="38.0" r="2.1"/><circle cx="92.8" cy="160.7" r="2.4"/><circle cx="66.5" cy="175.2" r="2.4"/><circle cx="161.8" cy="147.5" r="2.2"/><circle cx="52.4" cy="69.7" r="2.4"/><circle cx="161.7" cy="78.4" r="2.4"/><circle cx="261.6" cy="176.4" r="2.0"/><circle cx="204.1" cy="62.3" r="2.4"/><circle cx="126.4" cy="69.3" r="2.3"/><circle cx="53.8" cy="42.5" r="2.4"/><circle cx="157.1" cy="174.5" r="1.8"/><circle cx="120.2" cy="63.1" r="2.3"/><circle cx="167.0" cy="140.0" r="2.0"/><circle cx="46.1" cy="178.7" r="2.4"/><circle cx="60.5" cy="117.0" r="2.4"/><circle cx="264.4" cy="130.7" r="1.7"/><circle cx="122.2" cy="168.7" r="2.3"/><circle cx="253.3" cy="26.4" r="2.3"/><circle cx="155.5" cy="76.3" r="2.2"/><circle cx="204.3" cy="72.9" r="2.2"/><circle cx="266.3" cy="33.1" r="2.1"/><circle cx="209.6" cy="55.4" r="1.8"/><circle cx="128.1" cy="106.0" r="2.3"/><circle cx="215.0" cy="183.3" r="1.8"/><circle cx="154.2" cy="171.9" r="1.8"/><circle cx="85.4" cy="120.8" r="2.4"/><circle cx="186.8" cy="126.3" r="1.7"/><circle cx="45.8" cy="163.9" r="2.4"/><circle cx="227.8" cy="154.3" r="2.4"/><circle cx="258.3" cy="109.3" r="1.7"/><circle cx="244.9" cy="56.9" r="2.1"/><circle cx="163.3" cy="194.4" r="2.1"/><circle cx="204.6" cy="31.4" r="1.9"/><circle cx="208.1" cy="148.3" r="2.0"/><circle cx="245.7" cy="186.2" r="2.0"/><circle cx="260.7" cy="75.0" r="1.7"/><circle cx="199.8" cy="142.8" r="2.3"/><circle cx="241.0" cy="113.3" r="1.8"/><circle cx="160.4" cy="114.9" r="2.4"/><circle cx="260.8" cy="169.9" r="2.4"/><circle cx="180.6" cy="120.9" r="1.9"/><circle cx="16.5" cy="47.1" r="1.9"/><circle cx="267.0" cy="185.5" r="1.8"/><circle cx="26.2" cy="31.1" r="2.4"/><circle cx="70.3" cy="61.5" r="2.4"/><circle cx="269.5" cy="163.6" r="1.8"/><circle cx="195.5" cy="96.6" r="2.4"/><circle cx="132.5" cy="38.7" r="2.3"/><circle cx="224.4" cy="101.0" r="2.2"/><circle cx="191.9" cy="26.9" r="2.1"/><circle cx="276.1" cy="67.8" r="1.7"/><circle cx="221.8" cy="45.8" r="2.0"/><circle cx="273.5" cy="150.5" r="1.7"/><circle cx="68.1" cy="163.4" r="2.4"/><circle cx="145.3" cy="192.0" r="2.2"/><circle cx="179.9" cy="145.2" r="2.1"/><circle cx="271.0" cy="185.1" r="2.1"/><circle cx="60.2" cy="163.8" r="2.4"/><circle cx="71.8" cy="156.5" r="2.4"/><circle cx="81.7" cy="68.7" r="2.4"/><circle cx="138.1" cy="122.3" r="2.3"/><circle cx="77.5" cy="175.3" r="2.4"/><circle cx="190.0" cy="75.5" r="2.0"/><circle cx="202.1" cy="190.6" r="2.1"/><circle cx="48.1" cy="175.5" r="2.4"/><circle cx="68.7" cy="178.4" r="2.4"/><circle cx="215.2" cy="82.1" r="1.8"/><circle cx="16.5" cy="156.0" r="1.9"/><circle cx="61.0" cy="148.3" r="2.4"/><circle cx="200.3" cy="82.6" r="1.9"/><circle cx="121.0" cy="170.9" r="2.3"/><circle cx="67.1" cy="145.0" r="2.4"/><circle cx="162.7" cy="102.1" r="1.9"/><circle cx="201.5" cy="115.6" r="1.7"/><circle cx="94.3" cy="141.3" r="2.4"/><circle cx="216.4" cy="46.2" r="1.9"/><circle cx="197.2" cy="68.2" r="2.3"/><circle cx="48.3" cy="47.0" r="2.4"/><circle cx="56.1" cy="61.2" r="2.4"/><circle cx="59.2" cy="46.2" r="2.4"/><circle cx="79.9" cy="156.7" r="2.4"/><circle cx="211.2" cy="65.0" r="1.9"/><circle cx="239.6" cy="194.9" r="2.4"/><circle cx="223.8" cy="43.7" r="1.7"/><circle cx="160.2" cy="92.4" r="2.1"/><circle cx="167.1" cy="147.3" r="2.0"/><circle cx="96.8" cy="95.7" r="2.4"/><circle cx="242.3" cy="178.0" r="2.3"/><circle cx="37.2" cy="38.9" r="2.4"/><circle cx="253.3" cy="33.0" r="2.2"/><circle cx="181.4" cy="84.7" r="1.9"/><circle cx="88.9" cy="137.2" r="2.4"/><circle cx="205.6" cy="166.1" r="1.7"/><circle cx="85.3" cy="39.3" r="2.4"/><circle cx="65.1" cy="117.3" r="2.4"/><circle cx="190.1" cy="104.0" r="2.2"/><circle cx="259.1" cy="158.0" r="2.2"/><circle cx="68.0" cy="35.9" r="2.4"/><circle cx="73.7" cy="31.1" r="2.4"/><circle cx="92.6" cy="32.1" r="2.4"/><circle cx="68.2" cy="141.8" r="2.4"/><circle cx="159.1" cy="58.8" r="1.7"/><circle cx="90.3" cy="109.2" r="2.4"/><circle cx="170.3" cy="38.7" r="2.0"/><circle cx="64.6" cy="65.0" r="2.4"/><circle cx="156.4" cy="64.0" r="2.3"/><circle cx="209.2" cy="37.1" r="1.9"/><circle cx="126.3" cy="107.6" r="2.3"/><circle cx="160.3" cy="59.7" r="1.8"/><circle cx="179.2" cy="38.5" r="1.7"/><circle cx="39.2" cy="28.6" r="2.4"/><circle cx="57.2" cy="164.6" r="2.4"/><circle cx="172.7" cy="170.0" r="2.4"/><circle cx="55.5" cy="152.4" r="2.4"/><circle cx="249.1" cy="91.3" r="2.0"/><circle cx="188.3" cy="108.8" r="2.0"/><circle cx="182.7" cy="53.1" r="2.3"/><circle cx="234.1" cy="91.0" r="2.1"/><circle cx="30.2" cy="103.9" r="2.4"/><circle cx="16.2" cy="93.3" r="1.9"/><circle cx="78.1" cy="39.3" r="2.4"/><circle cx="229.9" cy="96.9" r="1.8"/><circle cx="26.6" cy="68.7" r="2.4"/><circle cx="48.2" cy="54.3" r="2.4"/><circle cx="178.0" cy="66.0" r="2.1"/><circle cx="164.9" cy="59.2" r="2.2"/><circle cx="254.1" cy="60.5" r="1.7"/><circle cx="200.6" cy="145.5" r="2.2"/><circle cx="65.1" cy="42.5" r="2.4"/><circle cx="163.6" cy="124.7" r="2.2"/><circle cx="166.7" cy="47.0" r="2.3"/><circle cx="256.1" cy="148.4" r="1.8"/><circle cx="273.5" cy="95.7" r="2.0"/><circle cx="62.8" cy="145.3" r="2.4"/><circle cx="114.0" cy="96.2" r="2.3"/><circle cx="265.0" cy="94.1" r="2.0"/><circle cx="180.1" cy="91.2" r="2.2"/><circle cx="203.3" cy="164.1" r="1.9"/><circle cx="202.6" cy="145.4" r="1.8"/><circle cx="137.3" cy="68.0" r="2.3"/><circle cx="216.9" cy="62.7" r="2.3"/><circle cx="160.2" cy="89.2" r="2.1"/><circle cx="72.0" cy="72.6" r="2.4"/><circle cx="204.5" cy="89.0" r="1.7"/><circle cx="57.9" cy="42.6" r="2.4"/><circle cx="177.1" cy="50.1" r="2.0"/><circle cx="136.1" cy="148.5" r="2.3"/><circle cx="238.5" cy="138.6" r="2.0"/><circle cx="261.9" cy="53.4" r="1.8"/><circle cx="60.5" cy="35.7" r="2.4"/><circle cx="269.4" cy="21.4" r="2.0"/><circle cx="243.0" cy="122.3" r="2.0"/><circle cx="66.4" cy="54.4" r="2.4"/><circle cx="195.2" cy="186.8" r="1.9"/><circle cx="168.6" cy="71.3" r="2.1"/><circle cx="208.6" cy="23.1" r="1.9"/><circle cx="88.6" cy="105.2" r="2.4"/><circle cx="220.9" cy="73.9" r="2.0"/><circle cx="84.5" cy="175.4" r="2.4"/><circle cx="25.9" cy="112.4" r="2.4"/><circle cx="147.0" cy="28.8" r="1.8"/><circle cx="112.6" cy="186.5" r="2.3"/><circle cx="149.9" cy="44.7" r="2.0"/><circle cx="208.7" cy="77.3" r="2.3"/><circle cx="202.6" cy="192.7" r="2.1"/><circle cx="236.2" cy="154.0" r="2.0"/><circle cx="225.2" cy="73.0" r="2.1"/><circle cx="186.3" cy="115.9" r="2.0"/><circle cx="185.0" cy="99.6" r="1.8"/><circle cx="90.1" cy="178.8" r="2.4"/><circle cx="236.7" cy="21.3" r="1.7"/><circle cx="247.6" cy="52.3" r="1.7"/><circle cx="55.9" cy="121.7" r="2.4"/><circle cx="188.0" cy="26.0" r="1.8"/><circle cx="168.0" cy="44.9" r="2.0"/><circle cx="166.8" cy="25.5" r="2.2"/><circle cx="62.5" cy="53.6" r="2.4"/><circle cx="81.7" cy="53.6" r="2.4"/><circle cx="272.9" cy="87.9" r="2.3"/><circle cx="152.4" cy="87.2" r="2.1"/><circle cx="181.6" cy="181.2" r="1.7"/><circle cx="94.6" cy="84.5" r="2.4"/><circle cx="124.9" cy="181.2" r="2.3"/><circle cx="121.0" cy="130.9" r="2.3"/><circle cx="136.1" cy="63.5" r="2.3"/><circle cx="38.5" cy="117.1" r="2.4"/><circle cx="166.2" cy="42.4" r="1.8"/><circle cx="275.5" cy="128.9" r="2.1"/><circle cx="180.0" cy="26.5" r="1.8"/><circle cx="277.9" cy="63.2" r="2.3"/><circle cx="187.3" cy="139.1" r="2.1"/><circle cx="264.7" cy="158.7" r="1.8"/><circle cx="59.4" cy="138.0" r="2.4"/><circle cx="120.4" cy="83.9" r="2.3"/><circle cx="27.3" cy="50.3" r="2.4"/><circle cx="85.4" cy="104.4" r="2.4"/><circle cx="53.7" cy="141.3" r="2.4"/><circle cx="220.2" cy="128.1" r="2.0"/><circle cx="200.6" cy="107.3" r="2.2"/><circle cx="42.6" cy="50.1" r="2.4"/><circle cx="88.7" cy="31.3" r="2.4"/><circle cx="96.0" cy="32.2" r="2.4"/><circle cx="129.2" cy="168.5" r="2.3"/><circle cx="68.2" cy="92.9" r="2.4"/><circle cx="146.5" cy="82.2" r="1.9"/><circle cx="175.2" cy="134.2" r="2.2"/><circle cx="132.3" cy="98.7" r="2.3"/><circle cx="68.6" cy="73.6" r="2.4"/><circle cx="46.1" cy="141.4" r="2.4"/><circle cx="26.0" cy="39.9" r="2.4"/><circle cx="46.0" cy="156.5" r="2.4"/><circle cx="204.3" cy="76.2" r="1.9"/><circle cx="202.6" cy="132.9" r="2.1"/><circle cx="68.0" cy="66.1" r="2.4"/><circle cx="247.2" cy="68.1" r="2.0"/><circle cx="165.4" cy="112.9" r="2.3"/><circle cx="216.0" cy="155.7" r="1.9"/><circle cx="196.7" cy="113.0" r="1.9"/><circle cx="230.2" cy="161.4" r="2.4"/><circle cx="80.9" cy="31.8" r="2.4"/><circle cx="160.4" cy="49.2" r="2.1"/><circle cx="245.7" cy="83.6" r="2.2"/><circle cx="149.0" cy="101.0" r="2.2"/><circle cx="257.5" cy="24.2" r="2.4"/><circle cx="86.6" cy="83.9" r="2.4"/><circle cx="227.4" cy="81.0" r="2.2"/><circle cx="133.6" cy="151.4" r="2.3"/><circle cx="199.0" cy="59.5" r="2.2"/><circle cx="253.5" cy="171.2" r="2.1"/><circle cx="86.7" cy="72.6" r="2.4"/><circle cx="146.6" cy="127.3" r="2.2"/><circle cx="83.7" cy="84.6" r="2.4"/><circle cx="219.5" cy="159.9" r="1.7"/><circle cx="120.7" cy="172.5" r="2.3"/><circle cx="238.7" cy="55.3" r="2.1"/><circle cx="166.1" cy="66.1" r="1.8"/><circle cx="174.1" cy="21.4" r="1.8"/><circle cx="168.3" cy="70.1" r="2.0"/><circle cx="158.9" cy="120.9" r="1.9"/><circle cx="183.5" cy="186.8" r="1.8"/><circle cx="27.4" cy="108.9" r="2.4"/><circle cx="57.1" cy="156.5" r="2.4"/><circle cx="240.0" cy="84.5" r="2.1"/><circle cx="200.8" cy="80.7" r="1.7"/><circle cx="180.7" cy="85.5" r="2.0"/><circle cx="49.3" cy="108.0" r="2.4"/><circle cx="194.8" cy="174.4" r="2.0"/><circle cx="96.8" cy="39.9" r="2.4"/><circle cx="87.4" cy="65.8" r="2.4"/><circle cx="16.7" cy="96.6" r="1.9"/><circle cx="251.8" cy="89.0" r="2.0"/><circle cx="215.3" cy="110.7" r="2.0"/><circle cx="222.6" cy="128.6" r="2.3"/><circle cx="31.9" cy="91.7" r="2.4"/><circle cx="33.7" cy="104.1" r="2.4"/><circle cx="162.1" cy="180.1" r="2.1"/><circle cx="156.0" cy="155.5" r="2.1"/><circle cx="166.9" cy="108.5" r="2.1"/><circle cx="72.6" cy="116.3" r="2.4"/><circle cx="95.9" cy="88.8" r="2.4"/><circle cx="149.0" cy="181.7" r="1.7"/><circle cx="203.4" cy="96.2" r="2.0"/><circle cx="203.8" cy="49.9" r="1.8"/><circle cx="131.2" cy="82.4" r="2.3"/><circle cx="279.3" cy="115.4" r="2.0"/><circle cx="217.8" cy="49.1" r="1.8"/><circle cx="248.1" cy="102.5" r="1.8"/><circle cx="239.5" cy="161.4" r="2.3"/><circle cx="181.7" cy="85.0" r="2.2"/><circle cx="184.7" cy="50.8" r="2.1"/><circle cx="174.8" cy="107.9" r="2.0"/><circle cx="90.4" cy="28.1" r="2.4"/><circle cx="147.2" cy="29.8" r="2.0"/><circle cx="222.1" cy="41.2" r="1.9"/><circle cx="264.8" cy="40.3" r="2.1"/><circle cx="55.7" cy="175.2" r="2.4"/><circle cx="82.9" cy="178.5" r="2.4"/><circle cx="83.0" cy="133.5" r="2.4"/><circle cx="33.8" cy="121.2" r="2.4"/><circle cx="149.9" cy="97.4" r="1.8"/><circle cx="220.5" cy="35.1" r="1.8"/><circle cx="147.9" cy="90.6" r="2.1"/><circle cx="147.1" cy="153.9" r="1.9"/><circle cx="70.7" cy="137.7" r="2.4"/><circle cx="233.5" cy="165.9" r="2.2"/><circle cx="261.4" cy="46.9" r="2.2"/><circle cx="68.5" cy="28.5" r="2.4"/><circle cx="73.8" cy="121.3" r="2.4"/><circle cx="163.4" cy="175.1" r="1.8"/><circle cx="232.3" cy="176.6" r="2.3"/><circle cx="235.5" cy="118.4" r="2.1"/><circle cx="24.5" cy="92.0" r="2.4"/><circle cx="224.4" cy="146.9" r="1.7"/><circle cx="176.6" cy="97.6" r="1.7"/><circle cx="127.1" cy="98.3" r="2.3"/><circle cx="79.4" cy="73.6" r="2.4"/><circle cx="224.2" cy="155.6" r="2.0"/><circle cx="264.2" cy="116.3" r="2.2"/><circle cx="213.8" cy="106.0" r="2.2"/><circle cx="22.5" cy="24.5" r="1.9"/><circle cx="236.8" cy="166.2" r="2.1"/><circle cx="175.7" cy="187.3" r="1.8"/><circle cx="229.8" cy="39.3" r="2.1"/><circle cx="260.5" cy="168.0" r="1.8"/><circle cx="263.8" cy="89.2" r="2.0"/><circle cx="194.4" cy="91.0" r="2.2"/><circle cx="258.5" cy="79.2" r="2.4"/><circle cx="25.7" cy="121.3" r="2.4"/><circle cx="70.4" cy="159.8" r="2.4"/><circle cx="220.8" cy="186.1" r="2.1"/><circle cx="92.6" cy="54.7" r="2.4"/><circle cx="50.2" cy="163.4" r="2.4"/><circle cx="146.8" cy="129.8" r="1.8"/><circle cx="77.6" cy="167.1" r="2.4"/><circle cx="218.2" cy="122.3" r="2.2"/><circle cx="259.6" cy="137.4" r="2.3"/><circle cx="251.1" cy="178.2" r="2.3"/><circle cx="195.4" cy="71.6" r="1.8"/><circle cx="128.5" cy="132.9" r="2.3"/><circle cx="68.4" cy="57.8" r="2.4"/><circle cx="180.4" cy="133.2" r="2.1"/><circle cx="242.5" cy="58.5" r="2.2"/><circle cx="219.7" cy="92.3" r="2.3"/><circle cx="46.2" cy="57.3" r="2.4"/><circle cx="179.8" cy="165.5" r="2.1"/><circle cx="119.0" cy="60.4" r="2.3"/><circle cx="131.1" cy="141.2" r="2.3"/><circle cx="72.5" cy="27.7" r="2.4"/><circle cx="16.3" cy="60.3" r="1.9"/><circle cx="191.2" cy="97.8" r="1.8"/><circle cx="219.7" cy="49.6" r="2.3"/><circle cx="174.1" cy="35.5" r="2.3"/><circle cx="226.7" cy="41.6" r="2.0"/><circle cx="63.4" cy="32.4" r="2.4"/><circle cx="46.4" cy="72.6" r="2.4"/><circle cx="201.0" cy="175.6" r="2.3"/><circle cx="251.2" cy="39.5" r="2.0"/><circle cx="208.2" cy="180.3" r="1.9"/><circle cx="229.4" cy="194.2" r="2.2"/><circle cx="193.6" cy="178.7" r="1.9"/><circle cx="44.3" cy="112.1" r="2.4"/><circle cx="96.4" cy="167.8" r="2.4"/><circle cx="199.5" cy="60.2" r="2.0"/><circle cx="63.4" cy="87.8" r="2.4"/><circle cx="274.0" cy="54.6" r="1.9"/><circle cx="23.6" cy="28.0" r="2.4"/><circle cx="227.8" cy="26.9" r="2.3"/><circle cx="94.0" cy="134.7" r="2.4"/><circle cx="264.2" cy="188.5" r="2.4"/><circle cx="120.7" cy="121.2" r="2.3"/><circle cx="83.5" cy="73.7" r="2.4"/><circle cx="233.7" cy="161.9" r="1.8"/><circle cx="253.1" cy="158.8" r="1.7"/><circle cx="175.8" cy="50.8" r="1.9"/><circle cx="209.7" cy="140.3" r="2.0"/><circle cx="79.2" cy="108.0" r="2.4"/><circle cx="73.9" cy="61.5" r="2.4"/><circle cx="190.4" cy="189.7" r="2.2"/><circle cx="213.5" cy="137.3" r="2.4"/><circle cx="60.4" cy="141.9" r="2.4"/><circle cx="165.5" cy="35.5" r="2.1"/><circle cx="75.5" cy="50.0" r="2.4"/><circle cx="206.5" cy="124.0" r="1.9"/><circle cx="94.4" cy="172.1" r="2.4"/><circle cx="278.1" cy="146.6" r="2.4"/><circle cx="81.2" cy="113.3" r="2.4"/><circle cx="203.8" cy="151.1" r="1.7"/><circle cx="77.4" cy="68.9" r="2.4"/><circle cx="205.1" cy="41.2" r="2.2"/><circle cx="149.4" cy="35.3" r="2.0"/><circle cx="178.6" cy="154.9" r="1.9"/><circle cx="268.4" cy="68.6" r="2.3"/><circle cx="203.8" cy="35.9" r="1.8"/><circle cx="127.6" cy="191.7" r="2.3"/><circle cx="56.8" cy="92.1" r="2.4"/><circle cx="183.4" cy="112.4" r="2.3"/><circle cx="209.1" cy="43.2" r="2.1"/><circle cx="195.2" cy="144.9" r="2.4"/><circle cx="240.9" cy="181.9" r="2.1"/><circle cx="256.6" cy="26.8" r="1.8"/><circle cx="265.7" cy="110.7" r="1.8"/><circle cx="163.8" cy="110.1" r="2.0"/><circle cx="173.7" cy="41.4" r="2.4"/><circle cx="158.9" cy="112.3" r="2.1"/><circle cx="122.5" cy="107.6" r="2.3"/><circle cx="96.1" cy="145.1" r="2.4"/><circle cx="59.6" cy="167.4" r="2.4"/><circle cx="171.4" cy="51.5" r="2.2"/><circle cx="180.5" cy="56.9" r="2.3"/><circle cx="184.0" cy="82.8" r="1.9"/><circle cx="209.5" cy="101.7" r="1.7"/><circle cx="231.3" cy="71.2" r="2.1"/><circle cx="61.2" cy="91.6" r="2.4"/><circle cx="254.9" cy="37.4" r="1.8"/><circle cx="146.3" cy="103.7" r="2.2"/><circle cx="45.0" cy="104.1" r="2.4"/><circle cx="31.5" cy="108.9" r="2.4"/><circle cx="37.6" cy="47.2" r="2.4"/><circle cx="182.7" cy="181.6" r="2.4"/><circle cx="133.7" cy="163.1" r="2.3"/><circle cx="270.0" cy="178.6" r="2.4"/><circle cx="254.8" cy="109.3" r="2.3"/><circle cx="241.1" cy="51.2" r="2.1"/><circle cx="179.9" cy="84.9" r="1.9"/><circle cx="90.9" cy="43.7" r="2.4"/><circle cx="30.0" cy="112.1" r="2.4"/><circle cx="275.3" cy="115.7" r="1.7"/><circle cx="16.5" cy="146.1" r="1.9"/><circle cx="150.8" cy="68.3" r="1.8"/><circle cx="259.2" cy="181.2" r="2.0"/><circle cx="239.2" cy="93.2" r="2.3"/><circle cx="74.2" cy="137.6" r="2.4"/><circle cx="54.0" cy="92.3" r="2.4"/><circle cx="35.2" cy="91.8" r="2.4"/><circle cx="137.3" cy="184.2" r="2.3"/><circle cx="120.4" cy="64.1" r="2.3"/><circle cx="259.3" cy="187.8" r="1.9"/><circle cx="78.9" cy="83.6" r="2.4"/><circle cx="232.1" cy="104.9" r="2.1"/><circle cx="70.5" cy="39.6" r="2.4"/><circle cx="273.3" cy="118.2" r="2.2"/><circle cx="239.6" cy="89.2" r="2.3"/><circle cx="213.1" cy="53.5" r="1.9"/><circle cx="196.4" cy="71.5" r="2.2"/><circle cx="154.1" cy="137.2" r="2.0"/><circle cx="124.8" cy="33.5" r="2.3"/><circle cx="170.5" cy="101.7" r="2.3"/><circle cx="82.5" cy="164.7" r="2.4"/><circle cx="201.1" cy="99.2" r="1.9"/><circle cx="240.0" cy="68.5" r="2.0"/><circle cx="172.7" cy="104.2" r="1.9"/><circle cx="197.2" cy="161.2" r="2.3"/><circle cx="190.1" cy="74.1" r="2.4"/><circle cx="200.1" cy="95.4" r="1.7"/><circle cx="132.8" cy="30.6" r="2.3"/><circle cx="24.5" cy="73.0" r="2.4"/><circle cx="127.0" cy="138.8" r="2.3"/><circle cx="198.2" cy="44.2" r="2.1"/><circle cx="210.6" cy="58.1" r="2.3"/><circle cx="273.1" cy="192.8" r="1.8"/><circle cx="50.1" cy="148.4" r="2.4"/><circle cx="241.0" cy="62.4" r="2.3"/><circle cx="87.1" cy="148.5" r="2.4"/><circle cx="83.6" cy="50.7" r="2.4"/><circle cx="175.2" cy="56.5" r="1.7"/><circle cx="256.0" cy="159.2" r="2.0"/><circle cx="195.9" cy="104.5" r="2.2"/><circle cx="147.7" cy="107.0" r="1.9"/><circle cx="218.8" cy="176.9" r="1.8"/><circle cx="245.8" cy="133.0" r="1.8"/><circle cx="160.8" cy="148.2" r="2.4"/><circle cx="46.2" cy="148.8" r="2.4"/><circle cx="216.3" cy="154.5" r="2.0"/><circle cx="164.0" cy="158.1" r="2.0"/><circle cx="224.7" cy="93.4" r="1.7"/><circle cx="156.3" cy="90.2" r="1.7"/><circle cx="222.5" cy="55.2" r="2.0"/><circle cx="35.5" cy="65.7" r="2.4"/><circle cx="256.0" cy="80.4" r="2.3"/><circle cx="81.8" cy="39.8" r="2.4"/><circle cx="140.0" cy="105.3" r="2.3"/><circle cx="156.5" cy="49.3" r="2.1"/><circle cx="73.7" cy="145.3" r="2.4"/><circle cx="95.8" cy="160.0" r="2.4"/><circle cx="223.8" cy="106.4" r="2.3"/><circle cx="251.4" cy="138.1" r="2.0"/><circle cx="199.1" cy="108.2" r="1.8"/><circle cx="170.2" cy="175.9" r="2.1"/><circle cx="189.6" cy="30.5" r="2.3"/><circle cx="194.5" cy="111.3" r="2.3"/><circle cx="222.5" cy="44.6" r="2.2"/><circle cx="79.5" cy="141.3" r="2.4"/><circle cx="128.6" cy="46.3" r="2.3"/><circle cx="242.4" cy="76.3" r="1.8"/><circle cx="165.1" cy="60.7" r="1.9"/><circle cx="62.7" cy="112.1" r="2.4"/><circle cx="170.1" cy="66.8" r="2.1"/><circle cx="217.0" cy="21.6" r="2.4"/><circle cx="242.4" cy="28.2" r="1.8"/><circle cx="53.6" cy="65.3" r="2.4"/><circle cx="16.6" cy="123.0" r="1.9"/><circle cx="123.3" cy="144.4" r="2.3"/><circle cx="114.9" cy="86.3" r="2.3"/><circle cx="204.6" cy="108.1" r="2.3"/><circle cx="172.5" cy="176.0" r="1.9"/><circle cx="240.7" cy="167.1" r="2.1"/><circle cx="39.3" cy="65.6" r="2.4"/><circle cx="134.8" cy="166.6" r="2.3"/><circle cx="138.2" cy="121.4" r="2.3"/><circle cx="87.2" cy="171.3" r="2.4"/><circle cx="89.3" cy="88.6" r="2.4"/><circle cx="177.1" cy="170.1" r="1.9"/><circle cx="208.4" cy="145.2" r="2.2"/><circle cx="261.2" cy="149.3" r="2.0"/><circle cx="48.6" cy="120.5" r="2.4"/><circle cx="146.8" cy="101.9" r="2.3"/><circle cx="262.7" cy="173.0" r="1.9"/><circle cx="127.5" cy="48.1" r="2.3"/><circle cx="244.4" cy="68.4" r="1.7"/><circle cx="84.6" cy="168.2" r="2.4"/><circle cx="171.3" cy="123.6" r="1.7"/><circle cx="223.7" cy="108.3" r="1.9"/><circle cx="205.3" cy="193.8" r="2.0"/><circle cx="120.8" cy="87.3" r="2.3"/><circle cx="129.8" cy="102.3" r="2.3"/><circle cx="25.6" cy="54.2" r="2.4"/><circle cx="210.6" cy="45.6" r="2.1"/><circle cx="92.4" cy="61.6" r="2.4"/><circle cx="180.5" cy="75.6" r="2.0"/><circle cx="156.7" cy="160.4" r="1.9"/><circle cx="194.3" cy="142.6" r="2.1"/><circle cx="49.6" cy="179.6" r="2.4"/><circle cx="149.1" cy="115.9" r="2.2"/><circle cx="70.7" cy="112.5" r="2.4"/><circle cx="201.5" cy="25.7" r="2.1"/><circle cx="61.1" cy="108.3" r="2.4"/><circle cx="57.7" cy="140.9" r="2.4"/><circle cx="194.8" cy="178.0" r="2.4"/><circle cx="166.1" cy="60.9" r="2.1"/><circle cx="16.2" cy="57.0" r="1.9"/><circle cx="190.1" cy="148.4" r="2.1"/><circle cx="267.5" cy="143.6" r="2.2"/><circle cx="180.4" cy="38.9" r="2.2"/><circle cx="160.2" cy="107.1" r="2.0"/><circle cx="115.2" cy="105.6" r="2.3"/><circle cx="173.0" cy="175.9" r="1.8"/><circle cx="265.8" cy="192.7" r="2.1"/><circle cx="179.0" cy="194.5" r="1.8"/><circle cx="251.8" cy="21.7" r="1.9"/><circle cx="254.7" cy="40.6" r="1.7"/><circle cx="254.6" cy="39.2" r="2.2"/><circle cx="16.6" cy="152.7" r="1.9"/><circle cx="54.2" cy="72.7" r="2.4"/><circle cx="28.0" cy="35.1" r="2.4"/><circle cx="214.4" cy="157.9" r="2.2"/><circle cx="182.9" cy="110.5" r="2.0"/><circle cx="163.7" cy="104.8" r="2.0"/><circle cx="43.0" cy="116.4" r="2.4"/><circle cx="232.8" cy="179.3" r="2.2"/><circle cx="79.1" cy="92.5" r="2.4"/><circle cx="208.3" cy="153.2" r="1.8"/><circle cx="273.4" cy="82.2" r="2.2"/><circle cx="196.9" cy="192.7" r="2.3"/><circle cx="220.5" cy="181.4" r="2.3"/><circle cx="228.2" cy="65.9" r="2.1"/><circle cx="197.6" cy="117.1" r="1.9"/><circle cx="73.9" cy="105.1" r="2.4"/><circle cx="248.3" cy="173.8" r="1.9"/><circle cx="205.5" cy="114.5" r="1.7"/><circle cx="177.7" cy="142.1" r="2.2"/><circle cx="191.0" cy="154.4" r="1.8"/><circle cx="244.2" cy="149.3" r="1.8"/><circle cx="202.1" cy="70.2" r="2.3"/><circle cx="221.1" cy="159.8" r="2.1"/><circle cx="179.0" cy="35.6" r="1.8"/><circle cx="29.9" cy="69.8" r="2.4"/><circle cx="33.9" cy="112.3" r="2.4"/><circle cx="113.6" cy="141.0" r="2.3"/><circle cx="148.6" cy="37.3" r="2.1"/><circle cx="199.3" cy="170.2" r="1.8"/><circle cx="225.2" cy="157.6" r="1.7"/><circle cx="170.1" cy="46.1" r="2.1"/><circle cx="163.7" cy="51.3" r="2.0"/><circle cx="196.5" cy="42.5" r="2.2"/><circle cx="232.3" cy="122.6" r="2.2"/><circle cx="51.3" cy="174.9" r="2.4"/><circle cx="145.7" cy="44.1" r="2.0"/><circle cx="258.8" cy="138.1" r="1.9"/><circle cx="72.3" cy="58.4" r="2.4"/><circle cx="225.4" cy="169.1" r="2.1"/><circle cx="148.9" cy="63.9" r="2.2"/><circle cx="205.4" cy="33.5" r="2.3"/><circle cx="227.7" cy="36.5" r="2.2"/><circle cx="60.7" cy="171.8" r="2.4"/><circle cx="261.7" cy="158.6" r="2.2"/><circle cx="122.8" cy="123.5" r="2.3"/><circle cx="63.2" cy="105.1" r="2.4"/><circle cx="146.6" cy="188.4" r="2.1"/><circle cx="151.5" cy="122.4" r="2.2"/><circle cx="214.6" cy="58.5" r="2.3"/><circle cx="214.8" cy="108.2" r="2.2"/><circle cx="267.9" cy="62.4" r="1.7"/><circle cx="212.0" cy="98.3" r="1.9"/><circle cx="188.7" cy="31.5" r="2.3"/><circle cx="218.3" cy="50.5" r="1.8"/><circle cx="58.9" cy="69.3" r="2.4"/><circle cx="233.8" cy="79.3" r="2.0"/><circle cx="16.5" cy="129.6" r="1.9"/><circle cx="83.4" cy="116.6" r="2.4"/><circle cx="64.4" cy="134.4" r="2.4"/><circle cx="237.1" cy="61.3" r="1.8"/><circle cx="179.3" cy="121.6" r="1.9"/><circle cx="202.7" cy="96.2" r="2.0"/><circle cx="128.7" cy="92.5" r="2.3"/><circle cx="276.5" cy="187.3" r="1.9"/><circle cx="65.1" cy="27.4" r="2.4"/><circle cx="40.6" cy="54.0" r="2.4"/><circle cx="227.5" cy="28.7" r="2.3"/><circle cx="76.0" cy="57.4" r="2.4"/><circle cx="249.3" cy="104.1" r="2.3"/><circle cx="35.2" cy="100.3" r="2.4"/><circle cx="239.0" cy="78.1" r="2.3"/><circle cx="233.0" cy="131.4" r="2.4"/><circle cx="226.6" cy="59.7" r="2.2"/><circle cx="155.1" cy="152.0" r="2.2"/><circle cx="175.5" cy="133.4" r="2.4"/><circle cx="251.9" cy="95.4" r="1.7"/><circle cx="154.9" cy="134.0" r="1.9"/><circle cx="233.9" cy="38.0" r="2.2"/><circle cx="16.4" cy="185.7" r="1.9"/><circle cx="44.4" cy="39.4" r="2.4"/><circle cx="276.2" cy="171.2" r="1.9"/><circle cx="78.0" cy="145.0" r="2.4"/><circle cx="64.6" cy="157.0" r="2.4"/><circle cx="197.7" cy="57.8" r="2.2"/><circle cx="90.4" cy="35.6" r="2.4"/><circle cx="53.0" cy="27.9" r="2.4"/><circle cx="147.1" cy="65.1" r="2.2"/><circle cx="37.0" cy="69.9" r="2.4"/><circle cx="245.8" cy="142.8" r="1.7"/><circle cx="186.6" cy="142.9" r="1.8"/><circle cx="182.0" cy="70.8" r="2.2"/><circle cx="145.2" cy="29.6" r="2.4"/><circle cx="117.3" cy="40.4" r="2.3"/><circle cx="58.9" cy="38.6" r="2.4"/><circle cx="132.3" cy="56.0" r="2.3"/><circle cx="127.4" cy="160.9" r="2.3"/><circle cx="197.4" cy="90.4" r="1.9"/><circle cx="215.1" cy="145.6" r="2.4"/><circle cx="165.0" cy="66.3" r="2.2"/><circle cx="145.8" cy="164.5" r="2.0"/><circle cx="196.0" cy="131.3" r="1.7"/><circle cx="24.3" cy="99.8" r="2.4"/><circle cx="38.3" cy="42.6" r="2.4"/><circle cx="195.9" cy="80.7" r="2.3"/><circle cx="268.1" cy="25.2" r="1.7"/><circle cx="267.8" cy="144.8" r="2.1"/><circle cx="172.5" cy="80.2" r="2.0"/><circle cx="252.6" cy="53.4" r="2.4"/><circle cx="63.5" cy="69.6" r="2.4"/><circle cx="219.3" cy="193.6" r="2.0"/><circle cx="166.3" cy="135.7" r="1.8"/><circle cx="243.2" cy="151.2" r="1.9"/><circle cx="51.7" cy="144.9" r="2.4"/><circle cx="136.1" cy="129.1" r="2.3"/><circle cx="51.9" cy="39.3" r="2.4"/><circle cx="115.8" cy="72.6" r="2.3"/><circle cx="145.0" cy="93.8" r="1.8"/><circle cx="233.9" cy="28.9" r="1.8"/><circle cx="172.1" cy="51.1" r="2.2"/><circle cx="75.6" cy="28.5" r="2.4"/><circle cx="166.4" cy="45.9" r="1.9"/><circle cx="45.8" cy="108.3" r="2.4"/><circle cx="154.6" cy="83.3" r="2.1"/><circle cx="272.0" cy="157.0" r="2.2"/><circle cx="149.5" cy="116.2" r="1.9"/><circle cx="114.5" cy="178.5" r="2.3"/><circle cx="49.6" cy="27.8" r="2.4"/><circle cx="121.9" cy="46.7" r="2.3"/><circle cx="93.1" cy="120.3" r="2.4"/><circle cx="148.5" cy="95.4" r="1.8"/><circle cx="251.9" cy="120.4" r="2.0"/><circle cx="148.2" cy="68.6" r="2.1"/><circle cx="169.4" cy="79.9" r="2.3"/><circle cx="68.1" cy="108.2" r="2.4"/><circle cx="85.7" cy="61.5" r="2.4"/><circle cx="195.2" cy="146.6" r="2.0"/><circle cx="154.0" cy="178.7" r="2.1"/><circle cx="33.0" cy="88.5" r="2.4"/><circle cx="165.9" cy="111.3" r="2.4"/><circle cx="46.4" cy="28.7" r="2.4"/><circle cx="195.4" cy="178.1" r="1.9"/><circle cx="215.2" cy="193.1" r="1.7"/><circle cx="214.8" cy="159.4" r="2.3"/><circle cx="174.9" cy="42.2" r="2.2"/><circle cx="194.0" cy="128.9" r="1.9"/><circle cx="16.4" cy="126.3" r="1.9"/><circle cx="182.9" cy="165.5" r="2.2"/><circle cx="193.2" cy="61.5" r="2.1"/><circle cx="16.3" cy="139.5" r="1.9"/><circle cx="217.4" cy="126.4" r="2.1"/><circle cx="149.2" cy="142.9" r="2.2"/><circle cx="68.4" cy="148.7" r="2.4"/><circle cx="171.4" cy="122.4" r="2.1"/><circle cx="174.8" cy="128.2" r="2.1"/><circle cx="113.6" cy="160.0" r="2.3"/><circle cx="167.4" cy="131.7" r="1.7"/><circle cx="205.4" cy="33.4" r="1.8"/><circle cx="122.4" cy="123.5" r="2.3"/><circle cx="79.4" cy="101.1" r="2.4"/><circle cx="155.8" cy="70.7" r="2.2"/><circle cx="197.0" cy="22.9" r="2.2"/><circle cx="48.3" cy="68.6" r="2.4"/><circle cx="65.0" cy="35.9" r="2.4"/><circle cx="91.1" cy="83.6" r="2.4"/><circle cx="196.2" cy="148.7" r="2.2"/><circle cx="254.5" cy="140.4" r="2.0"/><circle cx="30.1" cy="39.7" r="2.4"/><circle cx="247.1" cy="173.4" r="1.8"/><circle cx="157.8" cy="72.5" r="1.9"/><circle cx="204.4" cy="99.0" r="1.9"/><circle cx="170.1" cy="105.3" r="2.2"/><circle cx="158.1" cy="111.2" r="2.3"/><circle cx="218.0" cy="169.7" r="1.8"/><circle cx="246.5" cy="189.6" r="1.9"/><circle cx="227.0" cy="152.2" r="1.9"/><circle cx="162.5" cy="59.7" r="1.9"/><circle cx="136.0" cy="181.5" r="2.3"/><circle cx="237.2" cy="186.8" r="1.8"/><circle cx="90.6" cy="156.9" r="2.4"/><circle cx="43.0" cy="83.6" r="2.4"/><circle cx="223.6" cy="38.8" r="2.2"/><circle cx="228.4" cy="22.0" r="2.1"/><circle cx="16.3" cy="70.2" r="1.9"/><circle cx="220.1" cy="68.8" r="2.3"/><circle cx="55.6" cy="168.0" r="2.4"/><circle cx="234.0" cy="47.5" r="2.3"/><circle cx="211.3" cy="135.5" r="1.9"/><circle cx="130.1" cy="191.3" r="2.3"/><circle cx="243.8" cy="150.5" r="1.9"/><circle cx="120.4" cy="109.5" r="2.3"/><circle cx="47.7" cy="31.6" r="2.4"/><circle cx="198.1" cy="157.8" r="2.4"/><circle cx="159.4" cy="84.6" r="2.4"/><circle cx="225.5" cy="91.3" r="2.0"/><circle cx="259.3" cy="134.7" r="2.0"/><circle cx="206.1" cy="159.0" r="1.8"/><circle cx="59.4" cy="145.7" r="2.4"/><circle cx="48.5" cy="160.3" r="2.4"/><circle cx="171.5" cy="187.7" r="2.3"/><circle cx="87.3" cy="92.1" r="2.4"/><circle cx="195.9" cy="168.3" r="2.0"/><circle cx="55.3" cy="144.8" r="2.4"/><circle cx="247.4" cy="90.2" r="1.9"/><circle cx="124.7" cy="127.8" r="2.3"/><circle cx="249.4" cy="96.3" r="2.3"/><circle cx="55.3" cy="137.1" r="2.4"/><circle cx="210.8" cy="170.3" r="1.9"/><circle cx="89.8" cy="141.4" r="2.4"/><circle cx="27.2" cy="100.6" r="2.4"/><circle cx="188.8" cy="128.6" r="2.1"/><circle cx="241.4" cy="136.8" r="2.1"/><circle cx="78.9" cy="133.6" r="2.4"/><circle cx="191.6" cy="81.7" r="2.4"/><circle cx="60.9" cy="43.0" r="2.4"/><circle cx="168.4" cy="74.3" r="2.3"/><circle cx="168.4" cy="96.9" r="1.8"/><circle cx="250.9" cy="41.5" r="2.2"/><circle cx="212.7" cy="103.7" r="2.2"/><circle cx="46.7" cy="49.9" r="2.4"/><circle cx="136.4" cy="169.1" r="2.3"/><circle cx="209.4" cy="149.8" r="1.9"/><circle cx="202.0" cy="174.2" r="1.8"/><circle cx="232.0" cy="29.4" r="2.2"/><circle cx="151.0" cy="105.8" r="2.2"/><circle cx="53.8" cy="57.4" r="2.4"/><circle cx="205.3" cy="93.8" r="1.8"/><circle cx="268.6" cy="123.6" r="1.8"/><circle cx="89.9" cy="134.6" r="2.4"/><circle cx="48.6" cy="97.0" r="2.4"/><circle cx="250.5" cy="48.2" r="2.3"/><circle cx="38.5" cy="35.8" r="2.4"/><circle cx="215.0" cy="106.9" r="2.3"/><circle cx="221.1" cy="84.1" r="2.3"/><circle cx="211.1" cy="123.5" r="1.9"/><circle cx="179.4" cy="162.0" r="2.0"/><circle cx="270.8" cy="158.7" r="1.9"/><circle cx="96.1" cy="112.4" r="2.4"/><circle cx="196.7" cy="142.5" r="2.4"/><circle cx="135.0" cy="64.1" r="2.3"/><circle cx="253.3" cy="74.2" r="2.3"/><circle cx="184.6" cy="179.3" r="1.8"/><circle cx="199.6" cy="55.5" r="2.2"/><circle cx="227.6" cy="117.1" r="1.7"/><circle cx="241.7" cy="88.1" r="1.9"/><circle cx="212.9" cy="161.7" r="2.4"/><circle cx="250.4" cy="50.9" r="1.8"/><circle cx="248.3" cy="138.9" r="2.1"/><circle cx="146.4" cy="32.0" r="1.9"/><circle cx="204.8" cy="48.0" r="2.0"/><circle cx="165.4" cy="79.4" r="1.9"/><circle cx="126.6" cy="61.4" r="2.3"/><circle cx="186.6" cy="32.6" r="2.1"/><circle cx="183.9" cy="130.5" r="2.4"/><circle cx="253.7" cy="161.5" r="2.2"/><circle cx="93.7" cy="36.2" r="2.4"/><circle cx="56.5" cy="178.6" r="2.4"/><circle cx="34.5" cy="108.0" r="2.4"/><circle cx="254.7" cy="74.1" r="1.8"/><circle cx="118.9" cy="63.8" r="2.3"/><circle cx="272.9" cy="136.1" r="2.2"/><circle cx="162.4" cy="140.3" r="2.1"/><circle cx="16.8" cy="80.1" r="1.9"/><circle cx="266.2" cy="157.1" r="2.1"/><circle cx="175.9" cy="176.0" r="2.0"/><circle cx="92.9" cy="112.5" r="2.4"/><circle cx="71.8" cy="66.1" r="2.4"/><circle cx="165.1" cy="177.2" r="2.1"/><circle cx="145.9" cy="82.5" r="2.1"/><circle cx="217.3" cy="81.2" r="2.2"/><circle cx="226.8" cy="191.0" r="1.7"/><circle cx="167.2" cy="59.0" r="1.8"/><circle cx="50.2" cy="100.4" r="2.4"/><circle cx="185.7" cy="49.4" r="2.4"/><circle cx="139.9" cy="119.7" r="2.3"/><circle cx="257.9" cy="161.3" r="2.2"/><circle cx="115.8" cy="142.4" r="2.3"/><circle cx="193.7" cy="143.6" r="1.8"/><circle cx="174.3" cy="21.9" r="2.3"/><circle cx="79.8" cy="179.2" r="2.4"/><circle cx="251.5" cy="38.9" r="1.8"/><circle cx="215.6" cy="65.3" r="1.9"/><circle cx="206.3" cy="57.9" r="2.2"/><circle cx="55.9" cy="112.7" r="2.4"/><circle cx="196.1" cy="194.8" r="2.4"/><circle cx="40.4" cy="39.8" r="2.4"/><circle cx="54.8" cy="159.8" r="2.4"/><circle cx="16.7" cy="113.1" r="1.9"/><circle cx="59.7" cy="88.3" r="2.4"/><circle cx="163.9" cy="57.0" r="2.0"/><circle cx="169.9" cy="78.8" r="2.0"/><circle cx="57.3" cy="35.7" r="2.4"/><circle cx="269.3" cy="176.8" r="2.1"/><circle cx="167.9" cy="112.2" r="2.1"/><circle cx="209.8" cy="145.1" r="2.1"/><circle cx="180.3" cy="187.6" r="2.2"/><circle cx="254.9" cy="187.0" r="2.1"/><circle cx="158.6" cy="146.8" r="2.2"/><circle cx="191.1" cy="43.3" r="1.9"/><circle cx="73.8" cy="160.6" r="2.4"/><circle cx="146.2" cy="156.5" r="2.2"/><circle cx="85.2" cy="137.7" r="2.4"/><circle cx="224.5" cy="68.2" r="2.0"/><circle cx="16.6" cy="76.8" r="1.9"/><circle cx="252.2" cy="106.9" r="2.4"/><circle cx="196.2" cy="132.9" r="2.3"/><circle cx="146.2" cy="189.5" r="2.0"/><circle cx="218.6" cy="121.0" r="2.3"/><circle cx="16.5" cy="195.6" r="1.9"/><circle cx="247.0" cy="156.9" r="1.8"/><circle cx="197.3" cy="107.9" r="1.9"/><circle cx="226.6" cy="65.4" r="2.0"/><circle cx="246.1" cy="157.1" r="1.8"/><circle cx="229.8" cy="60.6" r="2.0"/><circle cx="225.6" cy="189.7" r="2.4"/><circle cx="60.8" cy="83.7" r="2.4"/><circle cx="248.5" cy="113.8" r="2.1"/><circle cx="45.5" cy="172.2" r="2.4"/><circle cx="16.4" cy="109.8" r="1.9"/><circle cx="252.2" cy="48.1" r="2.0"/><circle cx="249.4" cy="181.4" r="2.2"/><circle cx="155.2" cy="69.7" r="2.3"/><circle cx="191.8" cy="106.6" r="2.4"/><circle cx="217.0" cy="26.3" r="2.2"/><circle cx="173.1" cy="45.3" r="2.0"/><circle cx="200.0" cy="186.3" r="1.8"/><circle cx="247.4" cy="98.7" r="2.4"/><circle cx="266.7" cy="150.8" r="1.7"/><circle cx="183.2" cy="105.6" r="2.4"/><circle cx="241.7" cy="83.9" r="2.0"/><circle cx="265.4" cy="30.2" r="2.0"/><circle cx="222.8" cy="145.9" r="2.1"/><circle cx="258.5" cy="181.5" r="1.8"/><circle cx="85.7" cy="54.4" r="2.4"/><circle cx="181.4" cy="146.1" r="1.9"/><circle cx="253.2" cy="148.8" r="1.8"/><circle cx="50.4" cy="116.7" r="2.4"/><circle cx="147.9" cy="173.5" r="2.4"/><circle cx="241.5" cy="22.3" r="2.1"/><circle cx="66.7" cy="160.5" r="2.4"/><circle cx="42.4" cy="36.1" r="2.4"/><circle cx="220.1" cy="30.0" r="2.0"/><circle cx="135.7" cy="28.1" r="2.3"/><circle cx="66.6" cy="137.6" r="2.4"/><circle cx="175.1" cy="95.3" r="2.4"/><circle cx="180.5" cy="69.0" r="2.1"/><circle cx="177.6" cy="45.9" r="1.9"/><circle cx="116.5" cy="80.0" r="2.3"/><circle cx="76.2" cy="109.1" r="2.4"/><circle cx="222.1" cy="44.4" r="2.0"/><circle cx="31.2" cy="34.8" r="2.4"/><circle cx="221.7" cy="84.4" r="2.3"/><circle cx="46.5" cy="43.6" r="2.4"/><circle cx="161.4" cy="192.2" r="1.8"/><circle cx="222.7" cy="34.4" r="1.9"/><circle cx="48.5" cy="113.1" r="2.4"/><circle cx="164.1" cy="151.0" r="2.3"/><circle cx="243.3" cy="63.4" r="2.2"/><circle cx="162.4" cy="103.4" r="1.8"/></g>
<g fill="url(#gW)"><circle cx="173.8" cy="34.3" r="1.5"/><circle cx="249.0" cy="38.6" r="1.5"/><circle cx="157.1" cy="151.3" r="1.5"/><circle cx="217.1" cy="30.5" r="1.5"/><circle cx="231.8" cy="144.0" r="1.5"/><circle cx="206.8" cy="30.5" r="1.5"/><circle cx="233.1" cy="93.3" r="1.5"/><circle cx="219.6" cy="193.7" r="1.5"/><circle cx="248.9" cy="171.8" r="1.5"/><circle cx="164.3" cy="78.8" r="1.5"/><circle cx="211.3" cy="22.0" r="1.5"/><circle cx="185.4" cy="65.1" r="1.5"/><circle cx="254.2" cy="117.1" r="1.5"/><circle cx="210.4" cy="93.7" r="1.5"/><circle cx="152.4" cy="73.7" r="1.5"/><circle cx="255.2" cy="159.7" r="1.5"/><circle cx="253.9" cy="65.5" r="1.5"/><circle cx="171.5" cy="30.0" r="1.5"/><circle cx="213.6" cy="85.7" r="1.5"/><circle cx="204.5" cy="105.6" r="1.5"/><circle cx="219.6" cy="84.3" r="1.5"/><circle cx="247.0" cy="55.6" r="1.5"/><circle cx="261.8" cy="117.2" r="1.5"/><circle cx="152.4" cy="75.4" r="1.5"/><circle cx="213.2" cy="91.7" r="1.5"/><circle cx="217.2" cy="77.0" r="1.5"/><circle cx="180.5" cy="158.7" r="1.5"/><circle cx="182.7" cy="143.9" r="1.5"/><circle cx="247.1" cy="123.4" r="1.5"/><circle cx="203.3" cy="182.7" r="1.5"/><circle cx="202.1" cy="172.9" r="1.5"/><circle cx="153.3" cy="96.0" r="1.5"/><circle cx="226.5" cy="29.5" r="1.5"/><circle cx="254.7" cy="33.4" r="1.5"/><circle cx="221.1" cy="52.2" r="1.5"/><circle cx="262.2" cy="118.1" r="1.5"/><circle cx="208.8" cy="137.6" r="1.5"/><circle cx="231.0" cy="72.0" r="1.5"/><circle cx="172.6" cy="166.0" r="1.5"/><circle cx="164.4" cy="179.8" r="1.5"/><circle cx="172.1" cy="38.4" r="1.5"/><circle cx="158.0" cy="156.7" r="1.5"/><circle cx="265.8" cy="92.7" r="1.5"/><circle cx="178.5" cy="177.7" r="1.5"/><circle cx="232.4" cy="47.8" r="1.5"/><circle cx="153.1" cy="141.4" r="1.5"/><circle cx="151.3" cy="165.6" r="1.5"/><circle cx="183.0" cy="61.3" r="1.5"/><circle cx="219.3" cy="76.1" r="1.5"/><circle cx="216.6" cy="47.6" r="1.5"/><circle cx="260.9" cy="77.1" r="1.5"/><circle cx="252.0" cy="47.3" r="1.5"/><circle cx="246.7" cy="190.6" r="1.5"/><circle cx="195.3" cy="26.7" r="1.5"/><circle cx="193.9" cy="131.9" r="1.5"/><circle cx="174.1" cy="115.4" r="1.5"/><circle cx="157.8" cy="101.4" r="1.5"/><circle cx="237.8" cy="95.4" r="1.5"/><circle cx="231.5" cy="40.8" r="1.5"/><circle cx="250.4" cy="42.1" r="1.5"/><circle cx="262.3" cy="193.3" r="1.5"/><circle cx="212.3" cy="71.3" r="1.5"/><circle cx="189.8" cy="150.8" r="1.5"/><circle cx="208.6" cy="181.9" r="1.5"/><circle cx="157.7" cy="104.9" r="1.5"/><circle cx="254.9" cy="124.4" r="1.5"/><circle cx="214.1" cy="36.3" r="1.5"/><circle cx="163.6" cy="67.9" r="1.5"/><circle cx="258.5" cy="167.3" r="1.5"/><circle cx="174.6" cy="181.0" r="1.5"/><circle cx="150.1" cy="124.6" r="1.5"/><circle cx="267.9" cy="80.6" r="1.5"/><circle cx="228.7" cy="29.7" r="1.5"/><circle cx="188.0" cy="98.8" r="1.5"/><circle cx="177.2" cy="149.4" r="1.5"/><circle cx="168.5" cy="157.3" r="1.5"/><circle cx="183.6" cy="33.0" r="1.5"/><circle cx="216.5" cy="37.6" r="1.5"/><circle cx="215.5" cy="157.3" r="1.5"/><circle cx="221.0" cy="100.8" r="1.5"/><circle cx="150.2" cy="109.8" r="1.5"/><circle cx="158.3" cy="132.9" r="1.5"/><circle cx="162.6" cy="121.0" r="1.5"/><circle cx="190.5" cy="85.8" r="1.5"/><circle cx="229.6" cy="49.4" r="1.5"/><circle cx="167.4" cy="183.9" r="1.5"/><circle cx="187.8" cy="166.7" r="1.5"/><circle cx="256.1" cy="104.1" r="1.5"/><circle cx="164.8" cy="37.3" r="1.5"/><circle cx="256.8" cy="41.3" r="1.5"/><circle cx="208.5" cy="113.7" r="1.5"/><circle cx="160.8" cy="101.9" r="1.5"/><circle cx="166.7" cy="113.6" r="1.5"/><circle cx="209.9" cy="84.5" r="1.5"/><circle cx="170.9" cy="90.8" r="1.5"/><circle cx="171.6" cy="43.0" r="1.5"/><circle cx="176.2" cy="171.8" r="1.5"/><circle cx="209.2" cy="175.1" r="1.5"/><circle cx="147.9" cy="184.2" r="1.5"/><circle cx="207.5" cy="157.9" r="1.5"/><circle cx="217.9" cy="140.2" r="1.5"/><circle cx="174.9" cy="150.8" r="1.5"/><circle cx="165.4" cy="66.7" r="1.5"/><circle cx="149.9" cy="89.0" r="1.5"/><circle cx="211.3" cy="71.5" r="1.5"/><circle cx="258.2" cy="35.6" r="1.5"/><circle cx="218.9" cy="61.5" r="1.5"/><circle cx="221.0" cy="156.6" r="1.5"/><circle cx="235.6" cy="31.7" r="1.5"/><circle cx="177.0" cy="124.7" r="1.5"/><circle cx="269.9" cy="28.1" r="1.5"/><circle cx="233.2" cy="161.9" r="1.5"/><circle cx="189.1" cy="161.2" r="1.5"/><circle cx="204.2" cy="180.3" r="1.5"/><circle cx="147.4" cy="183.7" r="1.5"/><circle cx="197.9" cy="91.4" r="1.5"/><circle cx="157.1" cy="63.4" r="1.5"/><circle cx="238.5" cy="138.4" r="1.5"/><circle cx="165.1" cy="80.6" r="1.5"/><circle cx="163.7" cy="55.3" r="1.5"/><circle cx="173.7" cy="78.3" r="1.5"/><circle cx="269.0" cy="193.5" r="1.5"/><circle cx="206.4" cy="107.0" r="1.5"/><circle cx="244.2" cy="178.1" r="1.5"/><circle cx="240.7" cy="131.1" r="1.5"/><circle cx="171.1" cy="129.2" r="1.5"/><circle cx="252.6" cy="157.1" r="1.5"/><circle cx="157.6" cy="145.1" r="1.5"/><circle cx="190.0" cy="49.1" r="1.5"/><circle cx="267.7" cy="137.4" r="1.5"/><circle cx="163.0" cy="164.3" r="1.5"/><circle cx="264.1" cy="177.5" r="1.5"/><circle cx="250.9" cy="159.8" r="1.5"/><circle cx="220.4" cy="96.3" r="1.5"/><circle cx="250.0" cy="156.7" r="1.5"/><circle cx="255.7" cy="72.7" r="1.5"/><circle cx="267.1" cy="113.0" r="1.5"/><circle cx="160.6" cy="188.5" r="1.5"/><circle cx="245.2" cy="64.6" r="1.5"/><circle cx="251.6" cy="61.2" r="1.5"/><circle cx="170.9" cy="100.2" r="1.5"/><circle cx="175.8" cy="106.2" r="1.5"/><circle cx="260.4" cy="139.6" r="1.5"/><circle cx="235.5" cy="88.8" r="1.5"/><circle cx="244.8" cy="158.3" r="1.5"/><circle cx="232.0" cy="183.9" r="1.5"/><circle cx="250.0" cy="91.3" r="1.5"/><circle cx="157.0" cy="133.9" r="1.5"/><circle cx="251.4" cy="79.7" r="1.5"/><circle cx="221.0" cy="165.7" r="1.5"/><circle cx="245.9" cy="21.8" r="1.5"/><circle cx="207.6" cy="23.8" r="1.5"/><circle cx="159.9" cy="161.5" r="1.5"/><circle cx="198.8" cy="125.6" r="1.5"/><circle cx="203.6" cy="79.0" r="1.5"/><circle cx="172.9" cy="82.2" r="1.5"/><circle cx="252.4" cy="128.1" r="1.5"/><circle cx="182.8" cy="36.2" r="1.5"/><circle cx="180.1" cy="142.3" r="1.5"/><circle cx="201.7" cy="135.4" r="1.5"/><circle cx="247.7" cy="41.9" r="1.5"/><circle cx="232.1" cy="28.2" r="1.5"/><circle cx="249.7" cy="52.9" r="1.5"/><circle cx="180.2" cy="186.7" r="1.5"/><circle cx="191.7" cy="59.8" r="1.5"/><circle cx="258.1" cy="126.6" r="1.5"/><circle cx="258.6" cy="89.2" r="1.5"/><circle cx="209.0" cy="186.4" r="1.5"/><circle cx="209.9" cy="192.0" r="1.5"/><circle cx="169.9" cy="164.7" r="1.5"/><circle cx="166.4" cy="112.2" r="1.5"/><circle cx="146.0" cy="51.3" r="1.5"/><circle cx="265.1" cy="99.6" r="1.5"/><circle cx="177.6" cy="81.9" r="1.5"/><circle cx="158.7" cy="116.6" r="1.5"/><circle cx="254.6" cy="109.9" r="1.5"/><circle cx="193.5" cy="181.6" r="1.5"/><circle cx="258.6" cy="136.3" r="1.5"/><circle cx="155.6" cy="129.0" r="1.5"/><circle cx="202.0" cy="186.7" r="1.5"/><circle cx="191.6" cy="135.4" r="1.5"/><circle cx="225.6" cy="86.0" r="1.5"/><circle cx="211.8" cy="138.0" r="1.5"/><circle cx="260.3" cy="107.2" r="1.5"/><circle cx="191.8" cy="189.9" r="1.5"/><circle cx="153.2" cy="165.4" r="1.5"/><circle cx="232.1" cy="117.4" r="1.5"/><circle cx="202.4" cy="150.9" r="1.5"/><circle cx="258.3" cy="147.1" r="1.5"/><circle cx="240.5" cy="27.1" r="1.5"/><circle cx="187.0" cy="44.7" r="1.5"/><circle cx="220.0" cy="120.8" r="1.5"/><circle cx="151.9" cy="88.9" r="1.5"/><circle cx="240.2" cy="132.0" r="1.5"/><circle cx="181.4" cy="152.9" r="1.5"/><circle cx="182.7" cy="115.2" r="1.5"/><circle cx="199.0" cy="190.2" r="1.5"/><circle cx="227.7" cy="160.2" r="1.5"/><circle cx="231.2" cy="86.8" r="1.5"/><circle cx="267.3" cy="143.8" r="1.5"/><circle cx="181.0" cy="49.0" r="1.5"/><circle cx="218.5" cy="163.9" r="1.5"/><circle cx="246.0" cy="81.1" r="1.5"/><circle cx="163.6" cy="110.3" r="1.5"/><circle cx="256.6" cy="49.1" r="1.5"/><circle cx="239.0" cy="50.5" r="1.5"/><circle cx="185.3" cy="30.3" r="1.5"/><circle cx="183.5" cy="87.3" r="1.5"/><circle cx="185.0" cy="184.3" r="1.5"/><circle cx="170.9" cy="76.5" r="1.5"/><circle cx="201.2" cy="39.8" r="1.5"/><circle cx="178.8" cy="89.2" r="1.5"/><circle cx="194.6" cy="187.7" r="1.5"/><circle cx="179.6" cy="56.3" r="1.5"/><circle cx="260.5" cy="98.9" r="1.5"/><circle cx="251.5" cy="131.2" r="1.5"/><circle cx="244.1" cy="75.5" r="1.5"/><circle cx="165.2" cy="152.0" r="1.5"/><circle cx="205.2" cy="117.7" r="1.5"/><circle cx="230.5" cy="151.2" r="1.5"/><circle cx="180.7" cy="83.8" r="1.5"/><circle cx="261.6" cy="112.6" r="1.5"/><circle cx="182.3" cy="130.0" r="1.5"/><circle cx="178.7" cy="154.4" r="1.5"/><circle cx="151.2" cy="164.0" r="1.5"/><circle cx="217.4" cy="82.2" r="1.5"/><circle cx="154.8" cy="115.9" r="1.5"/><circle cx="241.0" cy="138.3" r="1.5"/><circle cx="198.0" cy="160.7" r="1.5"/><circle cx="160.0" cy="74.1" r="1.5"/><circle cx="227.2" cy="188.3" r="1.5"/><circle cx="225.9" cy="140.7" r="1.5"/><circle cx="243.6" cy="89.2" r="1.5"/><circle cx="195.5" cy="160.4" r="1.5"/><circle cx="190.1" cy="53.1" r="1.5"/><circle cx="255.8" cy="113.0" r="1.5"/><circle cx="211.7" cy="136.8" r="1.5"/><circle cx="259.6" cy="44.1" r="1.5"/><circle cx="188.7" cy="32.4" r="1.5"/><circle cx="198.1" cy="107.9" r="1.5"/><circle cx="253.3" cy="136.5" r="1.5"/><circle cx="218.8" cy="90.8" r="1.5"/><circle cx="218.3" cy="68.4" r="1.5"/><circle cx="252.4" cy="157.4" r="1.5"/><circle cx="251.6" cy="47.1" r="1.5"/><circle cx="230.6" cy="151.5" r="1.5"/><circle cx="209.1" cy="176.4" r="1.5"/><circle cx="259.3" cy="149.5" r="1.5"/><circle cx="249.4" cy="133.2" r="1.5"/><circle cx="256.7" cy="43.7" r="1.5"/><circle cx="234.7" cy="142.8" r="1.5"/><circle cx="223.2" cy="68.6" r="1.5"/><circle cx="154.5" cy="125.4" r="1.5"/><circle cx="249.9" cy="68.2" r="1.5"/><circle cx="172.8" cy="59.7" r="1.5"/><circle cx="157.8" cy="137.9" r="1.5"/><circle cx="234.1" cy="33.5" r="1.5"/><circle cx="251.7" cy="77.2" r="1.5"/><circle cx="146.4" cy="129.9" r="1.5"/><circle cx="163.5" cy="68.6" r="1.5"/><circle cx="153.4" cy="98.1" r="1.5"/><circle cx="215.9" cy="160.7" r="1.5"/><circle cx="151.0" cy="164.1" r="1.5"/><circle cx="159.9" cy="59.8" r="1.5"/><circle cx="225.3" cy="79.8" r="1.5"/><circle cx="187.7" cy="119.3" r="1.5"/><circle cx="173.5" cy="158.3" r="1.5"/><circle cx="172.3" cy="166.2" r="1.5"/><circle cx="247.9" cy="113.9" r="1.5"/><circle cx="149.8" cy="155.6" r="1.5"/><circle cx="149.6" cy="108.3" r="1.5"/><circle cx="199.4" cy="31.9" r="1.5"/><circle cx="225.4" cy="146.3" r="1.5"/><circle cx="219.7" cy="90.2" r="1.5"/><circle cx="210.5" cy="122.9" r="1.5"/><circle cx="174.5" cy="171.1" r="1.5"/><circle cx="271.5" cy="160.1" r="1.5"/><circle cx="187.5" cy="191.6" r="1.5"/><circle cx="155.0" cy="103.7" r="1.5"/><circle cx="162.9" cy="99.5" r="1.5"/><circle cx="232.0" cy="143.6" r="1.5"/><circle cx="203.3" cy="80.1" r="1.5"/><circle cx="169.9" cy="90.7" r="1.5"/><circle cx="181.6" cy="54.6" r="1.5"/><circle cx="238.7" cy="110.3" r="1.5"/><circle cx="201.3" cy="55.2" r="1.5"/><circle cx="234.7" cy="55.0" r="1.5"/><circle cx="179.5" cy="117.9" r="1.5"/><circle cx="234.4" cy="189.3" r="1.5"/><circle cx="240.2" cy="185.1" r="1.5"/><circle cx="261.9" cy="146.0" r="1.5"/><circle cx="236.7" cy="31.9" r="1.5"/><circle cx="171.9" cy="23.3" r="1.5"/><circle cx="254.8" cy="145.9" r="1.5"/><circle cx="225.4" cy="66.6" r="1.5"/><circle cx="190.8" cy="49.3" r="1.5"/><circle cx="225.7" cy="192.5" r="1.5"/><circle cx="184.5" cy="28.7" r="1.5"/><circle cx="168.1" cy="82.5" r="1.5"/><circle cx="259.3" cy="160.2" r="1.5"/><circle cx="203.3" cy="38.7" r="1.5"/><circle cx="159.4" cy="47.6" r="1.5"/><circle cx="244.0" cy="102.5" r="1.5"/><circle cx="270.8" cy="178.7" r="1.5"/><circle cx="206.0" cy="163.2" r="1.5"/><circle cx="162.2" cy="39.8" r="1.5"/><circle cx="217.0" cy="108.9" r="1.5"/><circle cx="172.4" cy="64.6" r="1.5"/><circle cx="148.7" cy="178.2" r="1.5"/><circle cx="235.5" cy="184.5" r="1.5"/><circle cx="269.5" cy="96.6" r="1.5"/><circle cx="194.4" cy="161.5" r="1.5"/><circle cx="252.0" cy="44.2" r="1.5"/><circle cx="147.6" cy="58.0" r="1.5"/><circle cx="219.8" cy="86.6" r="1.5"/><circle cx="147.1" cy="164.6" r="1.5"/><circle cx="245.0" cy="101.2" r="1.5"/><circle cx="151.4" cy="174.8" r="1.5"/><circle cx="213.3" cy="33.3" r="1.5"/><circle cx="186.7" cy="129.1" r="1.5"/><circle cx="257.5" cy="104.8" r="1.5"/><circle cx="226.6" cy="56.6" r="1.5"/><circle cx="176.7" cy="177.7" r="1.5"/><circle cx="194.2" cy="39.0" r="1.5"/><circle cx="220.5" cy="42.8" r="1.5"/><circle cx="171.2" cy="100.0" r="1.5"/><circle cx="219.8" cy="131.1" r="1.5"/><circle cx="235.1" cy="97.1" r="1.5"/><circle cx="154.5" cy="146.3" r="1.5"/><circle cx="152.8" cy="102.4" r="1.5"/><circle cx="196.4" cy="137.4" r="1.5"/><circle cx="235.9" cy="62.5" r="1.5"/><circle cx="227.8" cy="140.7" r="1.5"/><circle cx="205.4" cy="45.5" r="1.5"/><circle cx="260.5" cy="124.6" r="1.5"/><circle cx="153.9" cy="62.3" r="1.5"/><circle cx="245.3" cy="163.5" r="1.5"/><circle cx="225.9" cy="149.3" r="1.5"/><circle cx="150.8" cy="37.2" r="1.5"/><circle cx="152.1" cy="62.6" r="1.5"/><circle cx="263.3" cy="59.0" r="1.5"/><circle cx="263.2" cy="131.5" r="1.5"/><circle cx="179.1" cy="47.5" r="1.5"/><circle cx="148.3" cy="152.0" r="1.5"/><circle cx="159.1" cy="189.4" r="1.5"/><circle cx="235.5" cy="53.3" r="1.5"/><circle cx="247.7" cy="49.2" r="1.5"/><circle cx="210.5" cy="39.3" r="1.5"/><circle cx="245.2" cy="174.9" r="1.5"/><circle cx="261.5" cy="21.4" r="1.5"/><circle cx="253.3" cy="117.2" r="1.5"/><circle cx="249.5" cy="107.9" r="1.5"/><circle cx="224.1" cy="123.9" r="1.5"/><circle cx="246.7" cy="34.4" r="1.5"/><circle cx="152.8" cy="115.4" r="1.5"/><circle cx="182.7" cy="89.7" r="1.5"/><circle cx="147.0" cy="149.9" r="1.5"/><circle cx="149.0" cy="164.5" r="1.5"/><circle cx="248.3" cy="100.2" r="1.5"/><circle cx="161.4" cy="133.5" r="1.5"/><circle cx="172.1" cy="95.2" r="1.5"/><circle cx="159.9" cy="189.9" r="1.5"/><circle cx="214.8" cy="82.0" r="1.5"/><circle cx="157.8" cy="147.3" r="1.5"/><circle cx="253.1" cy="167.8" r="1.5"/><circle cx="158.8" cy="84.6" r="1.5"/><circle cx="184.1" cy="152.9" r="1.5"/><circle cx="164.6" cy="125.9" r="1.5"/><circle cx="155.4" cy="40.7" r="1.5"/><circle cx="233.3" cy="124.6" r="1.5"/><circle cx="211.5" cy="99.8" r="1.5"/><circle cx="197.3" cy="126.7" r="1.5"/><circle cx="227.7" cy="179.5" r="1.5"/><circle cx="238.3" cy="158.8" r="1.5"/><circle cx="261.0" cy="165.8" r="1.5"/><circle cx="236.3" cy="26.3" r="1.5"/><circle cx="231.8" cy="168.0" r="1.5"/><circle cx="200.3" cy="172.9" r="1.5"/><circle cx="168.7" cy="184.1" r="1.5"/><circle cx="201.7" cy="143.2" r="1.5"/><circle cx="177.8" cy="73.0" r="1.5"/><circle cx="189.9" cy="77.1" r="1.5"/><circle cx="157.9" cy="97.6" r="1.5"/><circle cx="269.6" cy="134.1" r="1.5"/><circle cx="242.1" cy="165.8" r="1.5"/><circle cx="177.5" cy="92.3" r="1.5"/><circle cx="148.6" cy="60.9" r="1.5"/><circle cx="257.7" cy="180.3" r="1.5"/><circle cx="187.4" cy="154.3" r="1.5"/><circle cx="243.6" cy="174.9" r="1.5"/><circle cx="246.1" cy="113.0" r="1.5"/><circle cx="159.2" cy="163.8" r="1.5"/><circle cx="185.5" cy="129.5" r="1.5"/><circle cx="192.3" cy="113.9" r="1.5"/><circle cx="267.7" cy="48.9" r="1.5"/><circle cx="227.9" cy="114.1" r="1.5"/><circle cx="264.2" cy="91.5" r="1.5"/><circle cx="232.9" cy="188.4" r="1.5"/><circle cx="157.3" cy="57.7" r="1.5"/><circle cx="182.2" cy="177.8" r="1.5"/><circle cx="147.7" cy="66.0" r="1.5"/><circle cx="236.2" cy="192.2" r="1.5"/><circle cx="168.2" cy="96.8" r="1.5"/><circle cx="232.5" cy="140.5" r="1.5"/><circle cx="240.0" cy="151.3" r="1.5"/><circle cx="177.3" cy="65.5" r="1.5"/><circle cx="149.5" cy="140.6" r="1.5"/><circle cx="172.4" cy="65.9" r="1.5"/><circle cx="267.5" cy="132.3" r="1.5"/><circle cx="228.7" cy="124.4" r="1.5"/><circle cx="233.6" cy="73.6" r="1.5"/><circle cx="154.1" cy="32.6" r="1.5"/><circle cx="147.8" cy="83.5" r="1.5"/><circle cx="163.9" cy="40.5" r="1.5"/><circle cx="208.2" cy="188.7" r="1.5"/><circle cx="232.6" cy="68.3" r="1.5"/><circle cx="242.9" cy="51.8" r="1.5"/><circle cx="158.6" cy="73.4" r="1.5"/><circle cx="197.5" cy="140.3" r="1.5"/><circle cx="202.1" cy="147.0" r="1.5"/><circle cx="158.0" cy="182.3" r="1.5"/><circle cx="189.1" cy="165.0" r="1.5"/><circle cx="149.9" cy="164.4" r="1.5"/><circle cx="174.5" cy="168.9" r="1.5"/><circle cx="247.2" cy="137.0" r="1.5"/><circle cx="181.0" cy="22.7" r="1.5"/><circle cx="169.9" cy="177.5" r="1.5"/><circle cx="165.9" cy="135.0" r="1.5"/><circle cx="220.0" cy="135.4" r="1.5"/><circle cx="168.8" cy="45.9" r="1.5"/><circle cx="158.2" cy="191.0" r="1.5"/></g>
<g fill="url(#gG)"><circle cx="72.0" cy="77.0" r="2.3"/><circle cx="114.3" cy="37.8" r="2.3"/><circle cx="129.8" cy="142.6" r="2.3"/><circle cx="133.2" cy="92.0" r="2.3"/><circle cx="115.5" cy="143.8" r="2.3"/><circle cx="137.1" cy="77.2" r="2.3"/><circle cx="126.9" cy="112.7" r="2.3"/><circle cx="129.4" cy="120.4" r="2.3"/><circle cx="124.2" cy="164.9" r="2.3"/><circle cx="123.5" cy="182.1" r="2.3"/><circle cx="124.6" cy="188.8" r="2.3"/><circle cx="138.5" cy="160.7" r="2.3"/><circle cx="130.3" cy="84.6" r="2.3"/><circle cx="134.5" cy="181.3" r="2.3"/><circle cx="131.7" cy="69.2" r="2.3"/><circle cx="120.3" cy="74.6" r="2.3"/><circle cx="127.8" cy="164.9" r="2.3"/><circle cx="132.6" cy="100.9" r="2.3"/><circle cx="140.6" cy="72.9" r="2.3"/><circle cx="118.5" cy="185.1" r="2.3"/><circle cx="131.6" cy="127.2" r="2.3"/><circle cx="135.8" cy="110.5" r="2.3"/><circle cx="134.7" cy="170.5" r="2.3"/><circle cx="116.2" cy="120.2" r="2.3"/><circle cx="112.3" cy="31.0" r="2.3"/><circle cx="126.4" cy="178.5" r="2.3"/><circle cx="139.5" cy="137.3" r="2.3"/><circle cx="121.2" cy="188.4" r="2.3"/><circle cx="117.5" cy="53.8" r="2.3"/><circle cx="134.8" cy="74.8" r="2.3"/><circle cx="112.1" cy="74.5" r="2.3"/><circle cx="114.9" cy="51.8" r="2.3"/><circle cx="135.9" cy="126.6" r="2.3"/><circle cx="113.8" cy="25.1" r="2.3"/><circle cx="113.3" cy="180.3" r="2.3"/><circle cx="121.1" cy="174.9" r="2.3"/><circle cx="113.9" cy="43.8" r="2.3"/><circle cx="127.7" cy="68.7" r="2.3"/><circle cx="123.2" cy="134.1" r="2.3"/><circle cx="131.2" cy="41.4" r="2.3"/><circle cx="123.7" cy="176.6" r="2.3"/><circle cx="120.0" cy="28.0" r="2.3"/><circle cx="136.6" cy="82.5" r="2.3"/><circle cx="136.3" cy="119.4" r="2.3"/><circle cx="119.4" cy="96.5" r="2.3"/><circle cx="122.1" cy="23.2" r="2.3"/><circle cx="119.1" cy="41.8" r="2.3"/><circle cx="118.1" cy="177.5" r="2.3"/><circle cx="139.0" cy="139.9" r="2.3"/><circle cx="134.1" cy="30.4" r="2.3"/><circle cx="135.4" cy="67.1" r="2.3"/><circle cx="140.1" cy="130.7" r="2.3"/><circle cx="116.0" cy="142.5" r="2.3"/><circle cx="128.3" cy="79.4" r="2.3"/><circle cx="132.8" cy="188.7" r="2.3"/><circle cx="138.7" cy="131.9" r="2.3"/><circle cx="117.4" cy="130.8" r="2.3"/><circle cx="138.9" cy="51.5" r="2.3"/><circle cx="128.4" cy="129.2" r="2.3"/><circle cx="102.2" cy="136.7" r="2.2"/><circle cx="106.4" cy="134.5" r="2.2"/><circle cx="105.3" cy="100.3" r="2.2"/><circle cx="108.6" cy="62.5" r="2.2"/><circle cx="101.5" cy="146.8" r="2.2"/><circle cx="108.8" cy="170.2" r="2.2"/><circle cx="102.2" cy="182.6" r="2.2"/><circle cx="104.1" cy="134.2" r="2.2"/><circle cx="105.8" cy="140.3" r="2.2"/><circle cx="107.9" cy="176.8" r="2.2"/><circle cx="102.8" cy="176.0" r="2.2"/><circle cx="102.8" cy="148.9" r="2.2"/><circle cx="101.4" cy="142.9" r="2.2"/><circle cx="102.7" cy="189.3" r="2.2"/></g>
<g fill="url(#gP)"><circle cx="29.3" cy="57.7" r="2.5"/><circle cx="75.7" cy="54.9" r="2.5"/><circle cx="95.0" cy="43.1" r="2.5"/><circle cx="36.1" cy="57.1" r="2.5"/><circle cx="91.8" cy="55.5" r="2.5"/><circle cx="46.9" cy="53.8" r="2.5"/><circle cx="79.1" cy="44.1" r="2.5"/><circle cx="48.7" cy="47.1" r="2.5"/><circle cx="34.7" cy="51.6" r="2.5"/><circle cx="37.8" cy="98.3" r="2.5"/><circle cx="36.0" cy="106.2" r="2.5"/><circle cx="26.9" cy="106.9" r="2.5"/><circle cx="39.7" cy="94.6" r="2.5"/><circle cx="90.9" cy="98.0" r="2.5"/><circle cx="91.4" cy="109.6" r="2.5"/><circle cx="88.2" cy="96.5" r="2.5"/><circle cx="70.6" cy="148.1" r="2.5"/><circle cx="92.7" cy="164.5" r="2.5"/><circle cx="78.9" cy="156.0" r="2.5"/><circle cx="65.6" cy="164.1" r="2.5"/><circle cx="72.0" cy="159.8" r="2.5"/><circle cx="56.6" cy="150.9" r="2.5"/><circle cx="52.6" cy="161.7" r="2.5"/><circle cx="75.5" cy="149.2" r="2.5"/><circle cx="35.0" cy="22.0" r="2.6"/><circle cx="46.0" cy="25.0" r="2.6"/><circle cx="52.0" cy="21.0" r="2.6"/><circle cx="70.0" cy="23.0" r="2.6"/><circle cx="75.0" cy="23.0" r="2.6"/><circle cx="54.0" cy="77.0" r="2.6"/><circle cx="64.0" cy="78.0" r="2.6"/><circle cx="82.0" cy="76.0" r="2.6"/><circle cx="73.0" cy="78.0" r="2.6"/><circle cx="53.0" cy="129.0" r="2.6"/><circle cx="93.0" cy="127.0" r="2.6"/><circle cx="98.0" cy="128.0" r="2.6"/><circle cx="106.1" cy="27.1" r="2.7"/><circle cx="102.9" cy="31.6" r="2.7"/><circle cx="101.9" cy="49.4" r="2.7"/><circle cx="102.3" cy="60.7" r="2.7"/><circle cx="103.4" cy="66.3" r="2.7"/><circle cx="106.3" cy="76.5" r="2.7"/><circle cx="106.9" cy="84.2" r="2.7"/><circle cx="106.3" cy="98.7" r="2.7"/><circle cx="101.5" cy="107.9" r="2.7"/><circle cx="102.0" cy="119.0" r="2.7"/><circle cx="101.4" cy="127.5" r="2.7"/><circle cx="106.9" cy="141.0" r="2.7"/><circle cx="106.5" cy="148.4" r="2.7"/><circle cx="102.0" cy="162.6" r="2.7"/><circle cx="100.4" cy="174.9" r="2.7"/><circle cx="102.1" cy="183.9" r="2.7"/><circle cx="100.1" cy="189.2" r="2.7"/><circle cx="132.4" cy="40.4" r="2.3"/><circle cx="113.6" cy="110.4" r="2.3"/><circle cx="112.6" cy="46.6" r="2.3"/><circle cx="135.5" cy="172.5" r="2.3"/><circle cx="127.1" cy="96.3" r="2.3"/><circle cx="115.5" cy="123.4" r="2.3"/><circle cx="116.6" cy="34.3" r="2.3"/><circle cx="134.8" cy="142.7" r="2.3"/><circle cx="136.5" cy="164.6" r="2.3"/><circle cx="117.9" cy="95.1" r="2.3"/><circle cx="128.3" cy="120.0" r="2.3"/><circle cx="126.9" cy="41.7" r="2.3"/><circle cx="132.0" cy="161.7" r="2.3"/><circle cx="129.5" cy="82.7" r="2.3"/><circle cx="130.8" cy="112.8" r="2.3"/><circle cx="137.8" cy="121.5" r="2.3"/><circle cx="120.8" cy="124.8" r="2.3"/><circle cx="122.4" cy="54.5" r="2.3"/><circle cx="139.8" cy="58.2" r="2.3"/><circle cx="117.3" cy="42.5" r="2.3"/><circle cx="132.5" cy="176.0" r="2.3"/><circle cx="259.2" cy="56.1" r="2.1"/><circle cx="181.3" cy="144.7" r="2.1"/><circle cx="208.0" cy="132.1" r="2.1"/><circle cx="253.0" cy="163.9" r="2.1"/><circle cx="235.7" cy="186.9" r="2.1"/><circle cx="271.1" cy="178.5" r="2.1"/><circle cx="240.5" cy="156.8" r="2.1"/><circle cx="227.1" cy="172.6" r="2.1"/><circle cx="166.4" cy="96.2" r="2.1"/><circle cx="202.4" cy="30.9" r="2.1"/><circle cx="257.8" cy="85.9" r="2.1"/><circle cx="162.3" cy="94.5" r="2.1"/><circle cx="175.5" cy="97.4" r="2.1"/><circle cx="254.8" cy="122.1" r="2.1"/><circle cx="244.3" cy="193.2" r="2.1"/><circle cx="252.1" cy="71.6" r="2.1"/><circle cx="187.9" cy="168.8" r="2.1"/><circle cx="268.9" cy="171.3" r="2.1"/><circle cx="171.4" cy="104.0" r="2.1"/><circle cx="251.4" cy="78.4" r="2.1"/><circle cx="167.6" cy="179.1" r="2.1"/><circle cx="214.3" cy="168.5" r="2.1"/><circle cx="217.2" cy="76.8" r="2.1"/><circle cx="275.3" cy="153.5" r="2.1"/><circle cx="220.0" cy="188.2" r="2.1"/><circle cx="269.6" cy="96.5" r="2.1"/><circle cx="246.7" cy="172.1" r="2.1"/><circle cx="169.5" cy="68.3" r="2.1"/><circle cx="170.9" cy="63.2" r="2.1"/></g>
<g fill="url(#gY)"><circle cx="313.2" cy="87.2" r="2.9"/><circle cx="331.6" cy="40.8" r="2.9"/><circle cx="318.3" cy="131.9" r="2.9"/><circle cx="334.0" cy="38.1" r="2.9"/><circle cx="311.4" cy="113.9" r="2.9"/><circle cx="279.8" cy="180.8" r="2.9"/><circle cx="307.6" cy="126.7" r="2.9"/><circle cx="288.3" cy="47.3" r="2.9"/><circle cx="292.2" cy="26.9" r="2.9"/><circle cx="284.5" cy="105.8" r="2.9"/><circle cx="296.2" cy="151.0" r="2.9"/><circle cx="280.8" cy="56.3" r="2.9"/><circle cx="304.4" cy="138.5" r="2.9"/><circle cx="291.5" cy="56.3" r="2.9"/><circle cx="279.8" cy="83.2" r="2.9"/><circle cx="295.5" cy="157.3" r="2.9"/><circle cx="286.9" cy="79.2" r="2.9"/><circle cx="318.2" cy="56.4" r="2.9"/><circle cx="274.4" cy="187.3" r="2.9"/><circle cx="291.6" cy="69.5" r="2.9"/><circle cx="300.5" cy="57.0" r="2.9"/><circle cx="320.8" cy="172.4" r="2.9"/><circle cx="316.2" cy="89.3" r="2.9"/><circle cx="324.1" cy="181.1" r="2.9"/><circle cx="283.4" cy="135.3" r="2.9"/><circle cx="282.7" cy="189.6" r="2.9"/><circle cx="321.3" cy="91.1" r="2.9"/><circle cx="317.9" cy="71.1" r="2.9"/><circle cx="300.3" cy="166.9" r="2.9"/><circle cx="307.8" cy="66.5" r="2.9"/><circle cx="285.1" cy="116.4" r="2.9"/><circle cx="303.6" cy="175.5" r="2.9"/><circle cx="282.6" cy="100.7" r="2.9"/><circle cx="299.8" cy="85.4" r="2.9"/><circle cx="283.5" cy="86.6" r="2.9"/><circle cx="305.7" cy="54.2" r="2.9"/><circle cx="291.9" cy="111.1" r="2.9"/><circle cx="330.3" cy="103.5" r="2.9"/><circle cx="293.5" cy="26.9" r="2.9"/><circle cx="304.1" cy="79.8" r="2.9"/><circle cx="279.2" cy="102.1" r="2.9"/><circle cx="310.2" cy="81.1" r="2.9"/><circle cx="317.6" cy="129.1" r="2.9"/><circle cx="275.9" cy="29.4" r="2.9"/><circle cx="309.5" cy="116.2" r="2.9"/><circle cx="286.2" cy="79.9" r="2.9"/><circle cx="316.5" cy="88.9" r="2.9"/><circle cx="304.8" cy="60.1" r="2.9"/><circle cx="311.0" cy="103.0" r="2.9"/><circle cx="272.2" cy="150.0" r="2.9"/><circle cx="333.2" cy="182.1" r="2.9"/><circle cx="315.5" cy="100.8" r="2.9"/><circle cx="288.5" cy="141.3" r="2.9"/><circle cx="298.0" cy="76.2" r="2.9"/><circle cx="279.2" cy="124.5" r="2.9"/><circle cx="316.1" cy="152.6" r="2.9"/><circle cx="281.5" cy="56.0" r="2.9"/><circle cx="311.5" cy="43.2" r="2.9"/><circle cx="327.0" cy="179.6" r="2.9"/><circle cx="311.1" cy="65.7" r="2.9"/><circle cx="306.9" cy="152.0" r="2.9"/><circle cx="293.4" cy="132.1" r="2.9"/><circle cx="309.3" cy="176.4" r="2.9"/><circle cx="320.1" cy="135.4" r="2.9"/><circle cx="305.8" cy="173.2" r="2.9"/><circle cx="309.4" cy="138.8" r="2.9"/><circle cx="291.3" cy="39.4" r="2.9"/><circle cx="306.6" cy="59.0" r="2.9"/><circle cx="332.1" cy="58.8" r="2.9"/><circle cx="327.5" cy="78.0" r="2.9"/><circle cx="283.9" cy="119.7" r="2.9"/><circle cx="292.0" cy="190.9" r="2.9"/><circle cx="310.3" cy="38.3" r="2.9"/><circle cx="291.2" cy="40.1" r="2.9"/><circle cx="302.6" cy="111.2" r="2.9"/><circle cx="291.6" cy="136.0" r="2.9"/><circle cx="299.6" cy="161.2" r="2.9"/><circle cx="314.1" cy="65.2" r="2.9"/><circle cx="323.5" cy="26.1" r="2.9"/><circle cx="286.6" cy="25.8" r="2.9"/><circle cx="331.0" cy="112.6" r="2.9"/><circle cx="324.2" cy="190.3" r="2.9"/><circle cx="277.7" cy="174.9" r="2.9"/><circle cx="273.3" cy="140.9" r="2.9"/><circle cx="295.9" cy="173.2" r="2.9"/><circle cx="319.5" cy="106.1" r="2.9"/><circle cx="289.4" cy="48.2" r="2.9"/><circle cx="276.7" cy="113.6" r="2.9"/><circle cx="283.6" cy="111.7" r="2.9"/><circle cx="276.9" cy="72.6" r="2.9"/><circle cx="281.4" cy="110.4" r="2.9"/><circle cx="280.3" cy="171.8" r="2.9"/><circle cx="285.1" cy="180.3" r="2.9"/><circle cx="328.9" cy="186.0" r="2.9"/><circle cx="289.5" cy="137.6" r="2.9"/><circle cx="276.3" cy="187.2" r="2.9"/><circle cx="293.6" cy="181.3" r="2.9"/><circle cx="320.9" cy="76.8" r="2.9"/><circle cx="322.2" cy="22.8" r="2.9"/><circle cx="305.8" cy="87.6" r="2.9"/><circle cx="276.7" cy="178.2" r="2.9"/><circle cx="333.7" cy="130.4" r="2.9"/><circle cx="310.5" cy="42.8" r="2.9"/><circle cx="301.5" cy="174.3" r="2.9"/><circle cx="306.6" cy="130.1" r="2.9"/><circle cx="300.5" cy="82.2" r="2.9"/><circle cx="277.7" cy="30.3" r="2.9"/><circle cx="318.8" cy="191.2" r="2.9"/><circle cx="315.3" cy="163.0" r="2.9"/><circle cx="285.0" cy="166.3" r="2.9"/><circle cx="295.6" cy="167.1" r="2.9"/><circle cx="286.7" cy="72.1" r="2.9"/><circle cx="304.7" cy="59.2" r="2.9"/><circle cx="288.0" cy="145.3" r="2.9"/><circle cx="320.9" cy="189.1" r="2.9"/><circle cx="312.6" cy="80.9" r="2.9"/><circle cx="301.1" cy="121.2" r="2.9"/><circle cx="308.7" cy="177.9" r="2.9"/><circle cx="307.2" cy="185.4" r="2.9"/><circle cx="301.6" cy="97.3" r="2.9"/><circle cx="288.6" cy="172.2" r="2.9"/><circle cx="328.8" cy="40.6" r="2.9"/><circle cx="308.4" cy="104.2" r="2.9"/><circle cx="275.3" cy="71.9" r="2.9"/><circle cx="298.4" cy="118.4" r="2.9"/><circle cx="276.1" cy="125.8" r="2.9"/><circle cx="283.8" cy="118.0" r="2.9"/><circle cx="329.9" cy="173.4" r="2.9"/><circle cx="310.2" cy="110.0" r="2.9"/><circle cx="318.5" cy="98.6" r="2.9"/><circle cx="315.8" cy="84.7" r="2.9"/><circle cx="306.4" cy="146.5" r="2.9"/><circle cx="308.3" cy="124.1" r="2.9"/><circle cx="295.8" cy="80.9" r="2.9"/><circle cx="312.6" cy="97.3" r="2.9"/><circle cx="299.3" cy="85.8" r="2.9"/><circle cx="290.0" cy="128.0" r="2.9"/><circle cx="326.4" cy="54.3" r="2.9"/><circle cx="312.3" cy="111.9" r="2.9"/><circle cx="311.5" cy="134.4" r="2.9"/><circle cx="296.8" cy="22.8" r="2.9"/><circle cx="294.5" cy="110.1" r="2.9"/><circle cx="311.0" cy="179.5" r="2.9"/><circle cx="312.8" cy="132.7" r="2.9"/><circle cx="293.7" cy="156.8" r="2.9"/><circle cx="280.0" cy="172.4" r="2.9"/><circle cx="302.4" cy="98.5" r="2.9"/><circle cx="314.9" cy="113.8" r="2.9"/><circle cx="333.7" cy="41.6" r="2.9"/><circle cx="286.1" cy="191.7" r="2.9"/><circle cx="304.8" cy="71.1" r="2.9"/><circle cx="294.6" cy="59.6" r="2.9"/><circle cx="287.6" cy="44.1" r="2.9"/><circle cx="332.5" cy="146.7" r="2.9"/><circle cx="294.3" cy="39.6" r="2.9"/><circle cx="332.5" cy="173.2" r="2.9"/><circle cx="277.9" cy="169.6" r="2.9"/><circle cx="306.2" cy="189.4" r="2.9"/><circle cx="299.3" cy="95.5" r="2.9"/><circle cx="326.6" cy="59.3" r="2.9"/><circle cx="326.7" cy="78.0" r="2.9"/><circle cx="322.0" cy="143.1" r="2.9"/><circle cx="329.9" cy="119.3" r="2.9"/><circle cx="294.3" cy="66.0" r="2.9"/><circle cx="286.6" cy="38.6" r="2.9"/><circle cx="290.5" cy="75.2" r="2.9"/><circle cx="323.0" cy="22.2" r="2.9"/><circle cx="303.1" cy="107.8" r="2.9"/><circle cx="281.8" cy="139.6" r="2.9"/><circle cx="284.9" cy="148.1" r="2.9"/><circle cx="282.5" cy="171.2" r="2.9"/><circle cx="291.4" cy="37.1" r="2.9"/><circle cx="281.3" cy="55.9" r="2.9"/><circle cx="280.2" cy="74.7" r="2.9"/><circle cx="332.2" cy="85.1" r="2.9"/><circle cx="296.4" cy="149.8" r="2.9"/><circle cx="276.6" cy="36.0" r="2.9"/><circle cx="292.3" cy="50.9" r="2.9"/><circle cx="283.4" cy="148.1" r="2.9"/><circle cx="332.6" cy="89.2" r="2.9"/><circle cx="316.1" cy="100.0" r="2.9"/><circle cx="284.6" cy="74.8" r="2.9"/><circle cx="293.0" cy="63.8" r="2.9"/><circle cx="321.2" cy="36.5" r="2.9"/><circle cx="296.0" cy="146.6" r="2.9"/><circle cx="274.1" cy="185.8" r="2.9"/><circle cx="312.4" cy="53.9" r="2.9"/><circle cx="284.6" cy="165.2" r="2.9"/><circle cx="332.5" cy="23.6" r="2.9"/><circle cx="322.7" cy="55.2" r="2.9"/><circle cx="324.1" cy="165.4" r="2.9"/><circle cx="289.7" cy="45.8" r="2.9"/><circle cx="303.8" cy="149.1" r="2.9"/><circle cx="295.4" cy="49.2" r="2.9"/><circle cx="277.0" cy="112.5" r="2.9"/><circle cx="290.6" cy="176.8" r="2.9"/><circle cx="328.0" cy="145.2" r="2.9"/><circle cx="303.7" cy="131.6" r="2.9"/><circle cx="292.6" cy="101.2" r="2.9"/><circle cx="306.0" cy="93.0" r="2.9"/><circle cx="299.6" cy="166.7" r="2.9"/><circle cx="333.3" cy="146.8" r="2.9"/><circle cx="325.2" cy="73.2" r="2.9"/><circle cx="319.4" cy="146.5" r="2.9"/><circle cx="328.7" cy="154.2" r="2.9"/><circle cx="290.5" cy="30.4" r="2.9"/><circle cx="301.9" cy="77.4" r="2.9"/><circle cx="325.9" cy="175.9" r="2.9"/><circle cx="305.4" cy="153.3" r="2.9"/><circle cx="317.1" cy="109.9" r="2.9"/><circle cx="299.4" cy="184.0" r="2.9"/><circle cx="321.4" cy="118.7" r="2.9"/><circle cx="333.2" cy="46.4" r="2.9"/><circle cx="319.7" cy="115.1" r="2.9"/><circle cx="291.9" cy="42.7" r="2.9"/><circle cx="308.0" cy="169.6" r="2.9"/><circle cx="282.9" cy="174.6" r="2.9"/><circle cx="333.2" cy="54.2" r="2.9"/><circle cx="306.3" cy="104.0" r="2.9"/><circle cx="292.8" cy="41.4" r="2.9"/><circle cx="288.6" cy="182.0" r="2.9"/><circle cx="324.1" cy="183.7" r="2.9"/><circle cx="302.9" cy="106.4" r="2.9"/><circle cx="275.8" cy="94.0" r="2.9"/><circle cx="333.6" cy="32.0" r="2.9"/><circle cx="312.7" cy="29.0" r="2.9"/><circle cx="332.3" cy="55.5" r="2.9"/><circle cx="315.0" cy="129.5" r="2.9"/><circle cx="284.8" cy="100.0" r="2.9"/><circle cx="298.2" cy="51.6" r="2.9"/><circle cx="296.6" cy="31.8" r="2.9"/><circle cx="315.9" cy="187.1" r="2.9"/><circle cx="305.6" cy="89.3" r="2.9"/><circle cx="303.9" cy="45.7" r="2.9"/><circle cx="317.8" cy="139.2" r="2.9"/><circle cx="278.4" cy="85.6" r="2.9"/><circle cx="279.6" cy="140.9" r="2.9"/><circle cx="323.8" cy="53.8" r="2.9"/><circle cx="304.8" cy="142.7" r="2.9"/><circle cx="330.2" cy="170.6" r="2.9"/><circle cx="281.4" cy="143.4" r="2.9"/><circle cx="298.7" cy="49.6" r="2.9"/><circle cx="300.6" cy="181.4" r="2.9"/><circle cx="273.2" cy="140.5" r="2.9"/><circle cx="326.7" cy="102.3" r="2.9"/><circle cx="287.4" cy="166.5" r="2.9"/><circle cx="278.7" cy="138.8" r="2.9"/><circle cx="290.2" cy="30.2" r="2.9"/><circle cx="282.4" cy="166.4" r="2.9"/><circle cx="281.7" cy="178.1" r="2.9"/><circle cx="281.1" cy="179.7" r="2.9"/><circle cx="275.3" cy="133.7" r="2.9"/><circle cx="309.0" cy="179.2" r="2.9"/><circle cx="286.1" cy="190.9" r="2.9"/><circle cx="307.3" cy="159.3" r="2.9"/><circle cx="287.5" cy="191.5" r="2.9"/><circle cx="316.7" cy="101.6" r="2.9"/><circle cx="285.5" cy="171.3" r="2.9"/><circle cx="306.7" cy="190.2" r="2.9"/><circle cx="326.8" cy="149.0" r="2.9"/><circle cx="316.8" cy="49.7" r="2.9"/><circle cx="323.5" cy="143.2" r="2.9"/><circle cx="278.1" cy="32.8" r="2.9"/><circle cx="278.3" cy="58.4" r="2.9"/><circle cx="319.4" cy="152.2" r="2.9"/><circle cx="315.1" cy="84.0" r="2.9"/><circle cx="330.2" cy="46.9" r="2.9"/><circle cx="286.1" cy="96.4" r="2.9"/><circle cx="288.2" cy="146.9" r="2.9"/><circle cx="323.7" cy="148.1" r="2.9"/><circle cx="292.1" cy="120.2" r="2.9"/><circle cx="291.5" cy="114.9" r="2.9"/><circle cx="304.9" cy="47.1" r="2.9"/><circle cx="324.4" cy="159.9" r="2.9"/><circle cx="320.2" cy="36.7" r="2.9"/><circle cx="286.5" cy="149.1" r="2.9"/><circle cx="322.1" cy="126.6" r="2.9"/><circle cx="329.8" cy="93.9" r="2.9"/><circle cx="286.1" cy="102.1" r="2.9"/><circle cx="290.7" cy="86.1" r="2.9"/><circle cx="320.5" cy="76.3" r="2.9"/><circle cx="316.2" cy="122.4" r="2.9"/><circle cx="273.3" cy="108.3" r="2.9"/><circle cx="312.2" cy="166.6" r="2.9"/><circle cx="311.6" cy="191.1" r="2.9"/><circle cx="318.9" cy="71.3" r="2.9"/><circle cx="313.2" cy="133.1" r="2.9"/><circle cx="287.7" cy="131.4" r="2.9"/><circle cx="311.2" cy="57.5" r="2.9"/><circle cx="316.1" cy="33.8" r="2.9"/><circle cx="275.4" cy="172.8" r="2.9"/><circle cx="330.7" cy="191.1" r="2.9"/><circle cx="317.9" cy="118.3" r="2.9"/><circle cx="304.8" cy="112.5" r="2.9"/><circle cx="330.5" cy="186.3" r="2.9"/><circle cx="299.0" cy="55.5" r="2.9"/><circle cx="305.3" cy="93.4" r="2.9"/><circle cx="322.2" cy="178.7" r="2.9"/><circle cx="310.4" cy="35.0" r="2.9"/><circle cx="305.1" cy="43.0" r="2.9"/><circle cx="305.3" cy="161.0" r="2.9"/><circle cx="313.7" cy="101.0" r="2.9"/><circle cx="281.8" cy="180.2" r="2.9"/><circle cx="326.0" cy="104.5" r="2.9"/><circle cx="296.6" cy="85.7" r="2.9"/><circle cx="289.0" cy="45.0" r="2.9"/><circle cx="312.3" cy="109.6" r="2.9"/><circle cx="298.7" cy="149.3" r="2.9"/><circle cx="303.2" cy="48.7" r="2.9"/><circle cx="288.6" cy="116.5" r="2.9"/><circle cx="313.3" cy="129.3" r="2.9"/><circle cx="318.3" cy="82.1" r="2.9"/><circle cx="319.5" cy="120.7" r="2.9"/><circle cx="287.8" cy="42.4" r="2.9"/><circle cx="310.8" cy="165.9" r="2.9"/><circle cx="330.9" cy="160.6" r="2.9"/><circle cx="323.0" cy="121.9" r="2.9"/><circle cx="287.2" cy="71.7" r="2.9"/><circle cx="325.4" cy="67.7" r="2.9"/><circle cx="302.0" cy="114.9" r="2.9"/><circle cx="334.5" cy="47.0" r="2.9"/><circle cx="340.1" cy="151.8" r="2.9"/><circle cx="358.0" cy="43.4" r="2.9"/><circle cx="339.0" cy="180.9" r="2.9"/><circle cx="339.1" cy="152.4" r="2.9"/><circle cx="351.9" cy="163.4" r="2.9"/><circle cx="356.5" cy="44.9" r="2.9"/><circle cx="357.5" cy="139.4" r="2.9"/><circle cx="335.3" cy="174.2" r="2.9"/><circle cx="342.9" cy="101.1" r="2.9"/><circle cx="350.0" cy="115.0" r="2.9"/><circle cx="351.4" cy="40.0" r="2.9"/><circle cx="360.0" cy="110.1" r="2.9"/><circle cx="337.0" cy="106.9" r="2.9"/><circle cx="355.9" cy="145.3" r="2.9"/><circle cx="363.5" cy="126.1" r="2.9"/><circle cx="339.7" cy="123.3" r="2.9"/><circle cx="341.6" cy="41.3" r="2.9"/><circle cx="354.1" cy="47.1" r="2.9"/><circle cx="338.3" cy="133.8" r="2.9"/><circle cx="363.5" cy="40.5" r="2.9"/><circle cx="356.8" cy="51.8" r="2.9"/><circle cx="335.8" cy="32.5" r="2.9"/><circle cx="334.6" cy="141.8" r="2.9"/><circle cx="335.4" cy="92.3" r="2.9"/><circle cx="343.8" cy="59.4" r="2.9"/><circle cx="358.9" cy="46.0" r="2.9"/><circle cx="353.3" cy="52.0" r="2.9"/><circle cx="353.9" cy="49.8" r="2.9"/><circle cx="340.0" cy="181.3" r="2.9"/><circle cx="337.5" cy="132.3" r="2.9"/><circle cx="354.8" cy="119.4" r="2.9"/><circle cx="345.7" cy="155.5" r="2.9"/><circle cx="335.9" cy="113.6" r="2.9"/><circle cx="350.6" cy="170.5" r="2.9"/><circle cx="357.8" cy="66.6" r="2.9"/><circle cx="345.7" cy="121.2" r="2.9"/><circle cx="345.6" cy="39.6" r="2.9"/><circle cx="364.3" cy="99.5" r="2.9"/><circle cx="338.3" cy="53.4" r="2.9"/><circle cx="334.5" cy="169.4" r="2.9"/><circle cx="338.3" cy="116.2" r="2.9"/><circle cx="362.8" cy="147.5" r="2.9"/><circle cx="352.0" cy="73.5" r="2.9"/><circle cx="354.6" cy="153.4" r="2.9"/><circle cx="346.5" cy="121.5" r="2.9"/><circle cx="361.1" cy="120.4" r="2.9"/><circle cx="342.1" cy="141.0" r="2.9"/><circle cx="338.6" cy="46.4" r="2.9"/><circle cx="334.3" cy="118.2" r="2.9"/><circle cx="351.6" cy="101.1" r="2.9"/><circle cx="350.9" cy="58.8" r="2.9"/><circle cx="340.4" cy="119.5" r="2.9"/><circle cx="346.3" cy="106.4" r="2.9"/><circle cx="361.9" cy="101.5" r="2.9"/><circle cx="356.7" cy="39.3" r="2.9"/><circle cx="349.0" cy="38.2" r="2.9"/><circle cx="340.1" cy="58.9" r="2.9"/><circle cx="345.7" cy="54.3" r="2.9"/><circle cx="362.5" cy="76.0" r="2.9"/><circle cx="343.3" cy="40.9" r="2.9"/><circle cx="345.3" cy="150.0" r="2.9"/><circle cx="350.7" cy="166.7" r="2.9"/><circle cx="352.8" cy="128.5" r="2.9"/><circle cx="347.0" cy="157.8" r="2.9"/><circle cx="347.7" cy="51.3" r="2.9"/><circle cx="340.8" cy="152.0" r="2.9"/><circle cx="335.8" cy="57.6" r="2.9"/><circle cx="353.1" cy="134.4" r="2.9"/><circle cx="348.2" cy="129.8" r="2.9"/><circle cx="346.8" cy="120.2" r="2.9"/><circle cx="335.2" cy="93.1" r="2.9"/><circle cx="363.7" cy="118.0" r="2.9"/><circle cx="344.4" cy="125.4" r="2.9"/><circle cx="363.8" cy="101.2" r="2.9"/><circle cx="346.7" cy="155.7" r="2.9"/><circle cx="359.9" cy="64.6" r="2.9"/><circle cx="354.4" cy="75.7" r="2.9"/><circle cx="344.8" cy="152.9" r="2.9"/><circle cx="345.1" cy="169.9" r="2.9"/><circle cx="348.8" cy="162.7" r="2.9"/><circle cx="337.9" cy="91.9" r="2.9"/><circle cx="335.0" cy="161.3" r="2.9"/><circle cx="361.1" cy="104.3" r="2.9"/><circle cx="348.2" cy="178.5" r="2.9"/><circle cx="338.2" cy="170.6" r="2.9"/><circle cx="358.5" cy="110.6" r="2.9"/><circle cx="356.2" cy="157.9" r="2.9"/><circle cx="354.4" cy="46.6" r="2.9"/><circle cx="353.8" cy="163.4" r="2.9"/><circle cx="348.5" cy="95.4" r="2.9"/><circle cx="353.7" cy="59.2" r="2.9"/><circle cx="340.9" cy="134.1" r="2.9"/><circle cx="364.3" cy="47.4" r="2.9"/><circle cx="354.3" cy="107.0" r="2.9"/><circle cx="335.1" cy="54.7" r="2.9"/><circle cx="343.3" cy="135.9" r="2.9"/><circle cx="352.9" cy="145.5" r="2.9"/><circle cx="364.4" cy="158.2" r="2.9"/><circle cx="339.8" cy="115.6" r="2.9"/><circle cx="352.5" cy="114.5" r="2.9"/><circle cx="352.2" cy="88.6" r="2.9"/><circle cx="341.3" cy="132.1" r="2.9"/><circle cx="360.6" cy="134.4" r="2.9"/><circle cx="351.5" cy="156.6" r="2.9"/><circle cx="353.9" cy="30.2" r="2.9"/><circle cx="349.6" cy="155.0" r="2.9"/><circle cx="364.0" cy="99.5" r="2.9"/><circle cx="350.6" cy="121.4" r="2.9"/><circle cx="359.9" cy="99.7" r="2.9"/><circle cx="361.4" cy="137.9" r="2.9"/><circle cx="346.2" cy="124.1" r="2.9"/><circle cx="343.2" cy="37.9" r="2.9"/><circle cx="348.8" cy="37.0" r="2.9"/><circle cx="343.1" cy="159.0" r="2.9"/><circle cx="363.6" cy="60.3" r="2.9"/><circle cx="347.7" cy="51.7" r="2.9"/><circle cx="358.6" cy="54.1" r="2.9"/><circle cx="350.5" cy="71.6" r="2.9"/><circle cx="353.7" cy="47.8" r="2.9"/><circle cx="349.1" cy="159.7" r="2.9"/><circle cx="334.5" cy="59.6" r="2.9"/><circle cx="336.2" cy="157.9" r="2.9"/><circle cx="354.5" cy="67.1" r="2.9"/><circle cx="361.5" cy="56.5" r="2.9"/></g>
</g>
<rect x="110" y="21" width="32.6" height="173" fill="none" stroke="#ea7426" stroke-width="2.7"/>
<path d="M17.5 197.8 H361.6" stroke="#3a3a3a" stroke-width="1.3" fill="none"/><path d="M18.0 197.8 v5.0M42.5 197.8 v2.6M67.0 197.8 v5.0M91.5 197.8 v2.6M116.0 197.8 v5.0M140.5 197.8 v2.6M165.0 197.8 v5.0M189.5 197.8 v2.6M214.0 197.8 v5.0M238.5 197.8 v2.6M263.0 197.8 v5.0M287.5 197.8 v2.6M312.0 197.8 v5.0M336.5 197.8 v2.6M361.0 197.8 v5.0" stroke="#3a3a3a" stroke-width="1.2" fill="none"/><g font-size="15" fill="#484848" stroke="#484848" stroke-width="0.3" text-anchor="middle"><text x="18.0" y="218.4">0</text><text x="67.0" y="218.4">10</text><text x="116.0" y="218.4">20</text><text x="165.0" y="218.4">30</text><text x="214.0" y="218.4">40</text><text x="263.0" y="218.4">50</text><text x="312.0" y="218.4">60</text><text x="361.0" y="218.4">70</text></g>
<path d="M33.5 119.5 L45.5 130.5 L40.3 130.5 L40.3 176 L27 176 L27 130.5 L21 130.5 Z" fill="url(#garr)"/>
<path d="M46 181.5 H90.3 V177 L99.8 187.5 L90.3 198 V193.6 H46 Z" fill="url(#rarr)"/>
<circle cx="32.5" cy="187.7" r="15.6" fill="url(#gB)"/>
<text x="37.6" y="192" font-size="15" fill="#aebcee" text-anchor="middle">z</text>
<text x="164" y="257.5" font-size="21" fill="#4a4a4a" text-anchor="middle">(a)</text>
</g>
<g id="panelB">
<polygon points="423.6,8.6 758.0,8.6 769.6,21.0 769.6,183.0 759.0,199.8 423.6,199.8" fill="#3f51a1"/>
<polygon points="423.6,8.6 576.0,8.6 598.0,38.0 599.0,66.0 584.0,88.0 581.0,105.0 580.0,120.0 586.0,143.0 582.0,166.0 576.6,199.8 423.6,199.8" fill="#4675ba"/>
<polyline points="576.0,8.6 598.0,38.0 599.0,66.0 584.0,88.0 581.0,105.0 580.0,120.0 586.0,143.0 582.0,166.0 576.6,199.8" fill="none" stroke="#1c2c3c" stroke-opacity="0.62" stroke-width="1.0" stroke-linejoin="round"/>
<polygon points="423.6,8.6 550.0,8.6 570.0,36.0 571.0,62.0 558.0,88.0 556.0,108.0 555.0,120.0 560.0,142.0 558.0,170.0 555.0,199.8 423.6,199.8" fill="#5cc4dc"/>
<polyline points="550.0,8.6 570.0,36.0 571.0,62.0 558.0,88.0 556.0,108.0 555.0,120.0 560.0,142.0 558.0,170.0 555.0,199.8" fill="none" stroke="#1c2c3c" stroke-opacity="0.62" stroke-width="1.0" stroke-linejoin="round"/>
<polygon points="423.6,8.6 538.0,8.6 553.0,38.0 548.0,66.0 538.0,92.0 537.0,110.0 538.0,130.0 542.0,156.0 543.0,180.0 542.0,199.8 423.6,199.8" fill="#8cc866"/>
<polyline points="538.0,8.6 553.0,38.0 548.0,66.0 538.0,92.0 537.0,110.0 538.0,130.0 542.0,156.0 543.0,180.0 542.0,199.8" fill="none" stroke="#1c2c3c" stroke-opacity="0.62" stroke-width="1.0" stroke-linejoin="round"/>
<polygon points="437.0,8.6 430.0,38.0 444.0,62.0 460.0,94.0 459.0,105.0 462.0,118.0 453.0,140.0 440.0,166.0 433.0,199.8 527.5,199.8 522.0,160.0 515.0,140.0 514.0,110.0 516.0,92.0 528.0,66.0 536.0,38.0 524.0,8.6" fill="#f5e72a"/>
<polyline points="437.0,8.6 430.0,38.0 444.0,62.0 460.0,94.0 459.0,105.0 462.0,118.0 453.0,140.0 440.0,166.0 433.0,199.8" fill="none" stroke="#1c2c3c" stroke-opacity="0.62" stroke-width="1.0" stroke-linejoin="round"/>
<polyline points="524.0,8.6 536.0,38.0 528.0,66.0 516.0,92.0 514.0,110.0 515.0,140.0 522.0,160.0 527.5,199.8" fill="none" stroke="#1c2c3c" stroke-opacity="0.62" stroke-width="1.0" stroke-linejoin="round"/>
<polygon points="423.6,68.0 432.0,86.0 440.0,106.0 432.0,130.0 423.6,149.0" fill="#5cc4dc"/>
<polyline points="423.6,68.0 432.0,86.0 440.0,106.0 432.0,130.0 423.6,149.0" fill="none" stroke="#1c2c3c" stroke-opacity="0.62" stroke-width="1.0" stroke-linejoin="round"/>
<polygon points="450.0,8.6 447.0,39.0 479.0,62.0 488.0,68.0 506.0,60.0 521.0,38.0 512.0,8.6" fill="#ea2a30"/>
<polyline points="450.0,8.6 447.0,39.0 479.0,62.0 488.0,68.0 506.0,60.0 521.0,38.0 512.0,8.6" fill="none" stroke="#1c2c3c" stroke-opacity="0.62" stroke-width="1.0" stroke-linejoin="round"/>
<polygon points="471.0,8.6 466.0,33.0 480.0,43.0 498.0,39.0 503.0,33.0 491.0,8.6" fill="#d62c30"/>
<polyline points="471.0,8.6 466.0,33.0 480.0,43.0 498.0,39.0 503.0,33.0 491.0,8.6" fill="none" stroke="#1c2c3c" stroke-opacity="0.62" stroke-width="1.0" stroke-linejoin="round"/>
<polygon points="446.0,199.8 455.0,176.0 470.0,160.0 483.0,157.0 498.0,164.0 510.0,184.0 515.0,199.8" fill="#ea2a30"/>
<polyline points="446.0,199.8 455.0,176.0 470.0,160.0 483.0,157.0 498.0,164.0 510.0,184.0 515.0,199.8" fill="none" stroke="#1c2c3c" stroke-opacity="0.62" stroke-width="1.0" stroke-linejoin="round"/>
<polygon points="463.0,199.8 470.0,190.0 483.0,183.0 495.0,188.0 500.0,199.8" fill="#d62c30"/>
<polyline points="463.0,199.8 470.0,190.0 483.0,183.0 495.0,188.0 500.0,199.8" fill="none" stroke="#1c2c3c" stroke-opacity="0.62" stroke-width="1.0" stroke-linejoin="round"/>
<path d="M422.0 200.3 H766.8" stroke="#3a3a3a" stroke-width="1.3" fill="none"/><path d="M422.5 200.3 v5.0M447.1 200.3 v2.6M471.6 200.3 v5.0M496.1 200.3 v2.6M520.7 200.3 v5.0M545.2 200.3 v2.6M569.8 200.3 v5.0M594.4 200.3 v2.6M618.9 200.3 v5.0M643.5 200.3 v2.6M668.0 200.3 v5.0M692.5 200.3 v2.6M717.1 200.3 v5.0M741.7 200.3 v2.6M766.2 200.3 v5.0" stroke="#3a3a3a" stroke-width="1.2" fill="none"/><g font-size="15" fill="#484848" stroke="#484848" stroke-width="0.3" text-anchor="middle"><text x="422.5" y="222.4">0</text><text x="471.6" y="222.4">10</text><text x="520.7" y="222.4">20</text><text x="569.8" y="222.4">30</text><text x="618.9" y="222.4">40</text><text x="668.0" y="222.4">50</text><text x="717.1" y="222.4">60</text><text x="766.2" y="222.4">70</text></g>
<text x="607.5" y="256.5" font-size="21" fill="#4a4a4a" text-anchor="middle">(b)</text>
</g>
<g id="panelC">
<polygon points="834.0,9.0 1169.6,9.0 1179.6,24.0 1179.6,184.0 1170.4,199.3 834.0,199.3" fill="#445fa9"/>
<path d="M834.0 9.0 L1042.0 9.0 C1042.5 13.9 1045.4 25.7 1045.0 36.0 C1044.6 46.3 1042.2 56.6 1040.0 66.0 C1037.8 75.4 1034.1 81.2 1033.0 88.0 C1031.9 94.8 1033.3 99.7 1034.0 104.0 C1034.7 108.3 1034.8 105.2 1037.0 112.0 C1039.2 118.8 1044.6 132.3 1046.0 142.0 C1047.4 151.7 1046.6 157.7 1045.0 166.0 C1043.4 174.3 1038.8 182.0 1037.0 188.0 C1035.2 194.0 1035.4 197.3 1035.0 199.3 L834.0 199.3 Z" fill="#4566b0"/>
<path d="M1042.0 9.0 C1042.5 13.9 1045.4 25.7 1045.0 36.0 C1044.6 46.3 1042.2 56.6 1040.0 66.0 C1037.8 75.4 1034.1 81.2 1033.0 88.0 C1031.9 94.8 1033.3 99.7 1034.0 104.0 C1034.7 108.3 1034.8 105.2 1037.0 112.0 C1039.2 118.8 1044.6 132.3 1046.0 142.0 C1047.4 151.7 1046.6 157.7 1045.0 166.0 C1043.4 174.3 1038.8 182.0 1037.0 188.0 C1035.2 194.0 1035.4 197.3 1035.0 199.3" fill="none" stroke="#284a98" stroke-opacity="0.85" stroke-width="1.05" stroke-linejoin="round"/>
<path d="M834.0 9.0 L977.0 9.0 C979.3 13.9 988.9 25.7 990.0 36.0 C991.1 46.3 987.0 55.9 983.0 66.0 C979.0 76.1 970.0 85.2 968.0 92.0 C966.0 98.8 970.0 99.7 972.0 104.0 C974.0 108.3 975.4 109.2 979.0 116.0 C982.6 122.8 990.0 133.0 992.0 142.0 C994.0 151.0 992.3 157.7 990.0 166.0 C987.7 174.3 981.9 182.0 979.0 188.0 C976.1 194.0 974.9 197.3 974.0 199.3 L834.0 199.3 Z" fill="#4571ba"/>
<path d="M977.0 9.0 C979.3 13.9 988.9 25.7 990.0 36.0 C991.1 46.3 987.0 55.9 983.0 66.0 C979.0 76.1 970.0 85.2 968.0 92.0 C966.0 98.8 970.0 99.7 972.0 104.0 C974.0 108.3 975.4 109.2 979.0 116.0 C982.6 122.8 990.0 133.0 992.0 142.0 C994.0 151.0 992.3 157.7 990.0 166.0 C987.7 174.3 981.9 182.0 979.0 188.0 C976.1 194.0 974.9 197.3 974.0 199.3" fill="none" stroke="#284a98" stroke-opacity="0.85" stroke-width="1.05" stroke-linejoin="round"/>
<path d="M834.0 9.0 L931.0 9.0 C934.2 13.9 946.5 25.7 949.0 36.0 C951.5 46.3 946.4 56.6 945.0 66.0 C943.6 75.4 941.0 81.2 941.0 88.0 C941.0 94.8 941.9 94.3 945.0 104.0 C948.1 113.7 956.6 130.1 958.0 142.0 C959.4 153.9 955.7 161.0 953.0 170.0 C950.3 179.0 945.2 186.7 943.0 192.0 C940.8 197.3 941.4 198.0 941.0 199.3 L834.0 199.3 Z" fill="#4b97d1"/>
<path d="M931.0 9.0 C934.2 13.9 946.5 25.7 949.0 36.0 C951.5 46.3 946.4 56.6 945.0 66.0 C943.6 75.4 941.0 81.2 941.0 88.0 C941.0 94.8 941.9 94.3 945.0 104.0 C948.1 113.7 956.6 130.1 958.0 142.0 C959.4 153.9 955.7 161.0 953.0 170.0 C950.3 179.0 945.2 186.7 943.0 192.0 C940.8 197.3 941.4 198.0 941.0 199.3" fill="none" stroke="#284a98" stroke-opacity="0.85" stroke-width="1.05" stroke-linejoin="round"/>
<path d="M834.0 9.0 L875.0 9.0 C874.1 13.5 871.6 24.8 870.0 34.0 C868.4 43.2 868.3 49.9 866.0 60.0 C863.7 70.1 859.0 81.9 857.0 90.0 C855.0 98.1 855.2 99.6 855.0 105.0 C854.8 110.4 854.9 111.9 856.0 120.0 C857.1 128.1 859.4 139.2 861.0 150.0 C862.6 160.8 863.9 171.1 865.0 180.0 C866.1 188.9 866.6 195.8 867.0 199.3 L834.0 199.3 Z" fill="#4472ba"/>
<path d="M875.0 9.0 C874.1 13.5 871.6 24.8 870.0 34.0 C868.4 43.2 868.3 49.9 866.0 60.0 C863.7 70.1 859.0 81.9 857.0 90.0 C855.0 98.1 855.2 99.6 855.0 105.0 C854.8 110.4 854.9 111.9 856.0 120.0 C857.1 128.1 859.4 139.2 861.0 150.0 C862.6 160.8 863.9 171.1 865.0 180.0 C866.1 188.9 866.6 195.8 867.0 199.3" fill="none" stroke="#284a98" stroke-opacity="0.85" stroke-width="1.05" stroke-linejoin="round"/>
<path d="M834.0 9.0 L855.0 9.0 C853.2 16.4 847.2 37.2 845.0 50.0 C842.8 62.8 843.9 71.0 843.0 80.0 C842.1 89.0 840.2 91.0 840.0 100.0 C839.8 109.0 841.1 117.4 842.0 130.0 C842.9 142.6 843.7 157.5 845.0 170.0 C846.3 182.5 848.3 194.0 849.0 199.3 L834.0 199.3 Z" fill="#4463ad"/>
<path d="M855.0 9.0 C853.2 16.4 847.2 37.2 845.0 50.0 C842.8 62.8 843.9 71.0 843.0 80.0 C842.1 89.0 840.2 91.0 840.0 100.0 C839.8 109.0 841.1 117.4 842.0 130.0 C842.9 142.6 843.7 157.5 845.0 170.0 C846.3 182.5 848.3 194.0 849.0 199.3" fill="none" stroke="#284a98" stroke-opacity="0.85" stroke-width="1.05" stroke-linejoin="round"/>
<path d="M885.0 82.0 C887.2 82.0 900.5 82.4 903.0 82.0 C905.5 81.6 905.2 79.2 906.0 79.0 C906.8 78.8 908.9 78.2 910.0 80.0 C911.1 81.8 913.7 91.1 915.0 94.0 C916.3 96.9 919.9 101.4 921.0 104.0 C922.1 106.6 924.2 111.0 924.0 116.0 C923.8 121.0 920.3 140.0 919.0 146.0 C917.7 152.0 914.7 161.4 913.0 166.0 C911.3 170.6 906.3 180.0 905.0 184.0 C903.7 188.0 903.1 197.5 902.0 199.3 C900.9 201.1 896.5 202.8 896.0 199.3 C895.5 195.8 898.5 175.0 898.0 170.0 C897.5 165.0 892.8 160.9 892.0 158.0 C891.2 155.1 892.4 148.9 891.0 146.0 C889.6 143.1 881.7 137.1 880.0 134.0 C878.3 130.9 878.1 123.5 877.0 120.0 C875.9 116.5 870.8 108.1 871.0 105.0 C871.2 101.9 878.0 95.3 879.0 94.0 Z" fill="#3db9ea" stroke="#284a98" stroke-opacity="0.85" stroke-width="1.05" stroke-linejoin="round"/>
<path d="M834.0 199.7 H1178.8" stroke="#3a3a3a" stroke-width="1.3" fill="none"/><path d="M834.5 199.7 v5.0M859.0 199.7 v2.6M883.6 199.7 v5.0M908.1 199.7 v2.6M932.7 199.7 v5.0M957.2 199.7 v2.6M981.8 199.7 v5.0M1006.4 199.7 v2.6M1030.9 199.7 v5.0M1055.5 199.7 v2.6M1080.0 199.7 v5.0M1104.5 199.7 v2.6M1129.1 199.7 v5.0M1153.7 199.7 v2.6M1178.2 199.7 v5.0" stroke="#3a3a3a" stroke-width="1.2" fill="none"/><g font-size="15" fill="#484848" stroke="#484848" stroke-width="0.3" text-anchor="middle"><text x="834.5" y="220.7">0</text><text x="883.6" y="220.7">10</text><text x="932.7" y="220.7">20</text><text x="981.8" y="220.7">30</text><text x="1030.9" y="220.7">40</text><text x="1080.0" y="220.7">50</text><text x="1129.1" y="220.7">60</text><text x="1178.2" y="220.7">70</text></g>
<text x="1000.5" y="253.5" font-size="21" fill="#4a4a4a" text-anchor="middle">(c)</text>
<rect x="1198.4" y="20" width="50.6" height="39.6" fill="url(#cred)"/>
<rect x="1198.4" y="59.4" width="50.6" height="19.9" fill="#f5e72a"/>
<rect x="1198.4" y="79.1" width="50.6" height="20.0" fill="#8cc866"/>
<rect x="1198.4" y="98.9" width="50.6" height="19.9" fill="#5cc4dc"/>
<rect x="1198.4" y="118.6" width="50.6" height="19.9" fill="#4178be"/>
<rect x="1198.4" y="138.3" width="50.6" height="19.9" fill="#3f50a2"/>
<g font-size="11.4" fill="#3c3c3c" stroke="#3c3c3c" stroke-width="0.15">
<text x="1254" y="24.9">1270</text>
<text x="1254" y="44.6">1097</text>
<text x="1254" y="64.3">924</text>
<text x="1254" y="84.0">751</text>
<text x="1254" y="103.8">579</text>
<text x="1254" y="123.5">406</text>
<text x="1254" y="143.2">233</text>
<text x="1254" y="162.9">60</text>
</g>
</g>
<g id="panelD">
<polygon points="839.4,286.5 1176.0,286.5 1185.0,297.5 1185.0,462.5 1177.5,476.0 842.6,476.0 839.4,455.0" fill="#47a9df"/>
<path d="M839.4 286.5 L917.0 286.5 C917.2 289.8 916.9 296.3 918.0 305.0 C919.1 313.7 921.7 326.0 923.0 335.0 C924.3 344.0 925.0 348.5 925.0 355.0 C925.0 361.5 923.9 365.6 923.0 371.0 C922.1 376.4 921.1 381.0 920.0 385.0 C918.9 389.0 917.4 388.7 917.0 393.0 C916.6 397.3 918.7 402.5 918.0 409.0 C917.3 415.5 916.4 420.7 913.0 429.0 C909.6 437.3 903.0 446.5 899.0 455.0 C895.0 463.5 892.4 472.2 891.0 476.0 L842.6 476.0 L839.4 455.0 Z" fill="#4d95d1"/>
<path d="M917.0 286.5 C917.2 289.8 916.9 296.3 918.0 305.0 C919.1 313.7 921.7 326.0 923.0 335.0 C924.3 344.0 925.0 348.5 925.0 355.0 C925.0 361.5 923.9 365.6 923.0 371.0 C922.1 376.4 921.1 381.0 920.0 385.0 C918.9 389.0 917.4 388.7 917.0 393.0 C916.6 397.3 918.7 402.5 918.0 409.0 C917.3 415.5 916.4 420.7 913.0 429.0 C909.6 437.3 903.0 446.5 899.0 455.0 C895.0 463.5 892.4 472.2 891.0 476.0" fill="none" stroke="#2666a8" stroke-opacity="0.9" stroke-width="1.1" stroke-linejoin="round"/>
<path d="M839.4 286.5 L875.0 286.5 C875.9 291.6 877.8 304.5 880.0 315.0 C882.2 325.5 885.6 333.3 887.0 345.0 C888.4 356.7 888.4 370.3 888.0 380.0 C887.6 389.7 887.2 390.2 885.0 399.0 C882.8 407.8 878.9 418.9 876.0 429.0 C873.1 439.1 870.8 446.5 869.0 455.0 C867.2 463.5 866.5 472.2 866.0 476.0 L842.6 476.0 L839.4 455.0 Z" fill="#4779c0"/>
<path d="M875.0 286.5 C875.9 291.6 877.8 304.5 880.0 315.0 C882.2 325.5 885.6 333.3 887.0 345.0 C888.4 356.7 888.4 370.3 888.0 380.0 C887.6 389.7 887.2 390.2 885.0 399.0 C882.8 407.8 878.9 418.9 876.0 429.0 C873.1 439.1 870.8 446.5 869.0 455.0 C867.2 463.5 866.5 472.2 866.0 476.0" fill="none" stroke="#2666a8" stroke-opacity="0.9" stroke-width="1.1" stroke-linejoin="round"/>
<path d="M839.4 286.5 L851.0 286.5 C851.7 293.4 853.0 310.9 855.0 325.0 C857.0 339.1 860.6 355.1 862.0 365.0 C863.4 374.9 863.2 374.6 863.0 380.0 C862.8 385.4 862.4 388.7 861.0 395.0 C859.6 401.3 857.2 406.0 855.0 415.0 C852.8 424.0 850.6 434.0 849.0 445.0 C847.4 456.0 846.5 470.4 846.0 476.0 L842.6 476.0 L839.4 455.0 Z" fill="#4560ae"/>
<path d="M851.0 286.5 C851.7 293.4 853.0 310.9 855.0 325.0 C857.0 339.1 860.6 355.1 862.0 365.0 C863.4 374.9 863.2 374.6 863.0 380.0 C862.8 385.4 862.4 388.7 861.0 395.0 C859.6 401.3 857.2 406.0 855.0 415.0 C852.8 424.0 850.6 434.0 849.0 445.0 C847.4 456.0 846.5 470.4 846.0 476.0" fill="none" stroke="#2666a8" stroke-opacity="0.9" stroke-width="1.1" stroke-linejoin="round"/>
<path d="M841.3 476.8 H1185.0" stroke="#3a3a3a" stroke-width="1.3" fill="none"/><path d="M841.8 476.8 v5.0M866.3 476.8 v2.6M890.8 476.8 v5.0M915.2 476.8 v2.6M939.7 476.8 v5.0M964.2 476.8 v2.6M988.6 476.8 v5.0M1013.1 476.8 v2.6M1037.6 476.8 v5.0M1062.1 476.8 v2.6M1086.5 476.8 v5.0M1111.0 476.8 v2.6M1135.5 476.8 v5.0M1160.0 476.8 v2.6M1184.5 476.8 v5.0" stroke="#3a3a3a" stroke-width="1.2" fill="none"/><g font-size="15" fill="#484848" stroke="#484848" stroke-width="0.3" text-anchor="middle"><text x="841.8" y="498.8">0</text><text x="890.8" y="498.8">10</text><text x="939.7" y="498.8">20</text><text x="988.6" y="498.8">30</text><text x="1037.6" y="498.8">40</text><text x="1086.5" y="498.8">50</text><text x="1135.5" y="498.8">60</text><text x="1184.5" y="498.8">70</text></g>
<text x="1004.4" y="541" font-size="21" fill="#4a4a4a" text-anchor="middle">(d)</text>
</g>
<g id="panelE">
<rect x="455" y="288" width="322" height="186" fill="none" stroke="#2a2a2a" stroke-width="1.7"/>
<path d="M481.8 474 v-3 M481.8 288 v3M508.7 474 v-5.5 M508.7 288 v5.5M535.5 474 v-3 M535.5 288 v3M562.3 474 v-5.5 M562.3 288 v5.5M589.2 474 v-3 M589.2 288 v3M616.0 474 v-5.5 M616.0 288 v5.5M642.8 474 v-3 M642.8 288 v3M669.7 474 v-5.5 M669.7 288 v5.5M696.5 474 v-3 M696.5 288 v3M723.3 474 v-5.5 M723.3 288 v5.5M750.2 474 v-3 M750.2 288 v3M455 462.5 h6 M777 462.5 h-6M455 450.9 h3 M777 450.9 h-3M455 439.2 h6 M777 439.2 h-6M455 427.6 h3 M777 427.6 h-3M455 415.9 h6 M777 415.9 h-6M455 404.2 h3 M777 404.2 h-3M455 392.6 h6 M777 392.6 h-6M455 380.9 h3 M777 380.9 h-3M455 369.3 h6 M777 369.3 h-6M455 357.6 h3 M777 357.6 h-3M455 346.0 h6 M777 346.0 h-6M455 334.4 h3 M777 334.4 h-3M455 322.7 h6 M777 322.7 h-6M455 311.1 h3 M777 311.1 h-3M455 299.4 h6 M777 299.4 h-6" stroke="#2a2a2a" stroke-width="1.4" fill="none"/>
<g font-size="14" font-weight="bold" fill="#383838" text-anchor="end">
<text x="447.5" y="467.5">280</text>
<text x="447.5" y="444.2">300</text>
<text x="447.5" y="420.9">320</text>
<text x="447.5" y="397.6">340</text>
<text x="447.5" y="374.3">360</text>
<text x="447.5" y="351.0">380</text>
<text x="447.5" y="327.7">400</text>
<text x="447.5" y="304.4">420</text>
</g>
<g font-size="14" font-weight="bold" fill="#383838" text-anchor="middle">
<text x="455.0" y="493">0</text>
<text x="508.7" y="493">50</text>
<text x="562.3" y="493">100</text>
<text x="616.0" y="493">150</text>
<text x="669.7" y="493">200</text>
<text x="723.3" y="493">250</text>
<text x="777.0" y="493">300</text>
</g>
<text x="615.6" y="516.5" font-size="14" font-weight="bold" fill="#2a2a2a" text-anchor="middle">Time (ps)</text>
<text transform="translate(404.3,385.5) rotate(-90)" font-size="14" font-weight="bold" fill="#2a2a2a" text-anchor="middle">Temperature (K)</text>
<polyline points="455.0,438.5 455.1,385.4 455.2,341.2 455.4,345.4 455.5,352.5 455.6,356.7 455.7,374.3 455.9,379.6 456.0,384.4 456.1,396.6 456.2,391.4 456.4,397.0 456.5,390.2 456.6,410.2 456.7,409.9 456.9,413.4 457.0,414.7 457.1,415.1 457.2,418.6 457.4,412.3 457.5,418.1 457.6,429.8 457.7,425.8 457.8,424.0 458.0,433.4 458.1,419.2 458.2,428.9 458.3,433.1 458.5,431.8 458.6,435.4 458.7,442.8 458.8,437.6 459.0,430.9 459.1,439.9 459.2,438.9 459.3,434.1 459.5,433.5 459.6,441.7 459.7,438.0 459.8,437.4 460.0,437.0 460.1,438.4 460.2,431.9 460.3,437.8 460.5,440.7 460.6,424.9 460.7,439.0 460.8,433.5 460.9,431.2 461.1,443.3 461.2,431.3 461.3,436.1 461.4,441.5 461.6,436.9 461.7,436.9 461.8,442.1 461.9,441.0 462.1,435.5 462.2,441.7 462.3,437.1 462.4,434.2 462.6,434.2 462.7,448.6 462.8,427.5 462.9,432.4 463.1,448.9 463.2,443.4 463.3,443.7 463.4,446.1 463.5,448.5 463.7,431.1 463.8,438.7 463.9,435.3 464.0,439.8 464.2,436.9 464.3,438.8 464.4,442.2 464.5,438.0 464.7,436.0 464.8,444.6 464.9,439.8 465.0,443.5 465.2,446.9 465.3,434.5 465.4,436.6 465.5,436.1 465.7,438.0 465.8,444.0 465.9,438.5 466.0,437.9 466.2,441.5 466.3,428.8 466.4,434.1 466.5,438.5 466.6,443.9 466.8,443.0 466.9,445.6 467.0,434.8 467.1,440.2 467.3,440.4 467.4,445.6 467.5,436.3 467.6,443.2 467.8,437.3 467.9,437.0 468.0,438.1 468.1,437.7 468.3,431.4 468.4,433.0 468.5,438.3 468.6,443.4 468.8,447.0 468.9,435.0 469.0,446.0 469.1,436.5 469.2,438.1 469.4,438.0 469.5,435.9 469.6,439.6 469.7,439.2 469.9,444.6 470.0,438.9 470.1,447.7 470.2,438.6 470.4,439.2 470.5,443.0 470.6,434.7 470.7,441.8 470.9,438.7 471.0,437.3 471.1,444.9 471.2,442.7 471.4,435.2 471.5,449.1 471.6,435.7 471.7,438.3 471.8,437.0 472.0,439.7 472.1,441.7 472.2,442.2 472.3,440.5 472.5,447.3 472.6,436.7 472.7,436.7 472.8,427.7 473.0,439.8 473.1,444.0 473.2,440.6 473.3,439.2 473.5,452.0 473.6,436.6 473.7,439.2 473.8,435.6 474.0,434.4 474.1,430.1 474.2,435.8 474.3,443.1 474.5,435.3 474.6,433.0 474.7,441.2 474.8,439.7 474.9,435.4 475.1,435.9 475.2,437.0 475.3,439.0 475.4,427.7 475.6,445.1 475.7,439.2 475.8,441.8 475.9,438.7 476.1,437.2 476.2,436.0 476.3,442.7 476.4,436.1 476.6,437.1 476.7,448.8 476.8,440.7 476.9,435.4 477.1,444.9 477.2,443.5 477.3,431.6 477.4,441.6 477.5,433.1 477.7,440.7 477.8,440.3 477.9,438.8 478.0,440.6 478.2,445.9 478.3,444.0 478.4,447.2 478.5,439.3 478.7,439.8 478.8,449.8 478.9,436.4 479.0,439.4 479.2,437.3 479.3,440.2 479.4,441.2 479.5,434.6 479.7,442.0 479.8,437.1 479.9,440.2 480.0,439.4 480.2,436.2 480.3,443.6 480.4,435.3 480.5,436.2 480.6,440.6 480.8,431.3 480.9,448.5 481.0,439.9 481.1,440.5 481.3,437.6 481.4,428.0 481.5,428.4 481.6,443.0 481.8,442.2 481.9,438.1 482.0,442.9 482.1,429.1 482.3,436.2 482.4,445.2 482.5,439.6 482.6,447.4 482.8,432.9 482.9,445.5 483.0,434.5 483.1,445.2 483.2,444.4 483.4,441.6 483.5,446.8 483.6,437.9 483.7,435.8 483.9,440.2 484.0,445.3 484.1,434.5 484.2,440.7 484.4,436.9 484.5,435.6 484.6,442.7 484.7,434.2 484.9,439.0 485.0,439.9 485.1,446.5 485.2,445.3 485.4,441.3 485.5,440.0 485.6,443.9 485.7,440.3 485.8,442.7 486.0,447.7 486.1,439.1 486.2,445.4 486.3,440.8 486.5,429.8 486.6,440.9 486.7,444.5 486.8,446.6 487.0,452.6 487.1,440.0 487.2,436.3 487.3,445.0 487.5,435.2 487.6,443.4 487.7,444.8 487.8,440.5 488.0,443.2 488.1,444.5 488.2,430.1 488.3,440.0 488.5,438.4 488.6,437.0 488.7,439.5 488.8,434.6 488.9,441.4 489.1,438.6 489.2,441.4 489.3,441.0 489.4,440.0 489.6,434.0 489.7,436.7 489.8,435.7 489.9,444.8 490.1,432.6 490.2,429.6 490.3,456.1 490.4,436.3 490.6,445.8 490.7,441.3 490.8,452.1 490.9,441.2 491.1,437.1 491.2,435.6 491.3,432.3 491.4,436.2 491.5,444.2 491.7,440.9 491.8,444.3 491.9,438.7 492.0,435.2 492.2,438.1 492.3,442.5 492.4,426.8 492.5,438.5 492.7,437.3 492.8,440.9 492.9,439.9 493.0,432.3 493.2,436.9 493.3,436.8 493.4,437.1 493.5,434.2 493.7,440.3 493.8,434.7 493.9,442.7 494.0,449.6 494.2,439.8 494.3,441.1 494.4,441.6 494.5,434.8 494.6,443.1 494.8,431.2 494.9,437.2 495.0,440.2 495.1,439.3 495.3,440.4 495.4,424.6 495.5,435.9 495.6,438.5 495.8,435.4 495.9,441.4 496.0,433.0 496.1,437.8 496.3,442.3 496.4,431.1 496.5,445.6 496.6,447.8 496.8,436.2 496.9,428.9 497.0,450.3 497.1,443.9 497.2,438.7 497.4,444.9 497.5,429.8 497.6,430.1 497.7,436.4 497.9,438.6 498.0,446.8 498.1,435.5 498.2,440.4 498.4,438.0 498.5,440.1 498.6,438.4 498.7,444.0 498.9,445.5 499.0,438.5 499.1,436.3 499.2,437.8 499.4,444.1 499.5,440.9 499.6,439.1 499.7,436.3 499.8,451.8 500.0,432.9 500.1,442.7 500.2,427.2 500.3,442.8 500.5,430.8 500.6,450.2 500.7,441.3 500.8,442.4 501.0,435.5 501.1,433.7 501.2,434.9 501.3,439.4 501.5,435.6 501.6,433.7 501.7,441.6 501.8,444.3 502.0,443.7 502.1,441.7 502.2,443.5 502.3,433.6 502.5,457.2 502.6,443.2 502.7,435.6 502.8,429.7 502.9,440.4 503.1,432.1 503.2,436.6 503.3,444.9 503.4,447.3 503.6,441.7 503.7,435.3 503.8,445.3 503.9,437.5 504.1,440.9 504.2,441.1 504.3,441.1 504.4,439.9 504.6,438.0 504.7,439.8 504.8,443.7 504.9,437.4 505.1,438.9 505.2,428.1 505.3,447.8 505.4,437.0 505.5,441.2 505.7,434.4 505.8,433.6 505.9,434.3 506.0,438.4 506.2,435.5 506.3,445.2 506.4,437.4 506.5,441.7 506.7,447.9 506.8,438.0 506.9,434.0 507.0,437.7 507.2,445.6 507.3,441.7 507.4,440.6 507.5,435.3 507.7,441.4 507.8,431.6 507.9,446.5 508.0,439.5 508.2,444.5 508.3,439.8 508.4,436.8 508.5,438.2 508.6,431.9 508.8,444.8 508.9,436.0 509.0,441.2 509.1,437.0 509.3,438.3 509.4,432.6 509.5,437.9 509.6,438.7 509.8,440.4 509.9,433.3 510.0,442.7 510.1,438.6 510.3,434.9 510.4,440.6 510.5,440.4 510.6,439.8 510.8,437.0 510.9,438.6 511.0,442.6 511.1,440.6 511.2,439.8 511.4,433.7 511.5,441.7 511.6,438.6 511.7,439.5 511.9,447.8 512.0,439.4 512.1,448.1 512.2,432.7 512.4,444.3 512.5,433.1 512.6,448.9 512.7,437.1 512.9,446.6 513.0,441.1 513.1,431.8 513.2,433.7 513.4,431.9 513.5,440.8 513.6,439.5 513.7,435.2 513.8,444.1 514.0,429.6 514.1,430.9 514.2,432.0 514.3,449.5 514.5,429.4 514.6,426.3 514.7,436.4 514.8,441.9 515.0,454.3 515.1,436.5 515.2,440.6 515.3,436.0 515.5,445.7 515.6,438.7 515.7,444.2 515.8,436.2 516.0,434.0 516.1,443.3 516.2,436.9 516.3,435.5 516.5,433.0 516.6,442.8 516.7,438.3 516.8,445.7 516.9,438.9 517.1,452.0 517.2,428.4 517.3,444.4 517.4,446.1 517.6,440.9 517.7,437.4 517.8,452.1 517.9,431.6 518.1,446.8 518.2,443.9 518.3,447.0 518.4,439.7 518.6,440.2 518.7,441.8 518.8,439.4 518.9,437.6 519.1,443.3 519.2,434.1 519.3,436.3 519.4,436.1 519.5,438.7 519.7,436.0 519.8,445.9 519.9,438.5 520.0,445.5 520.2,433.7 520.3,438.4 520.4,444.5 520.5,430.7 520.7,435.6 520.8,435.3 520.9,439.8 521.0,443.1 521.2,437.4 521.3,442.3 521.4,427.1 521.5,442.5 521.7,443.4 521.8,441.9 521.9,445.6 522.0,438.4 522.2,439.1 522.3,436.9 522.4,442.0 522.5,445.6 522.6,436.7 522.8,439.4 522.9,434.7 523.0,441.4 523.1,440.0 523.3,437.3 523.4,437.9 523.5,441.2 523.6,436.1 523.8,443.7 523.9,443.8 524.0,437.4 524.1,434.7 524.3,439.6 524.4,440.2 524.5,437.8 524.6,432.3 524.8,440.1 524.9,439.8 525.0,438.0 525.1,443.6 525.2,430.7 525.4,439.9 525.5,437.4 525.6,437.2 525.7,443.6 525.9,440.6 526.0,446.8 526.1,444.4 526.2,438.0 526.4,436.6 526.5,442.9 526.6,442.2 526.7,432.3 526.9,442.2 527.0,446.1 527.1,437.2 527.2,433.8 527.4,440.1 527.5,448.2 527.6,440.6 527.7,442.3 527.8,432.0 528.0,448.9 528.1,442.5 528.2,435.4 528.3,436.5 528.5,440.3 528.6,430.9 528.7,443.3 528.8,439.7 529.0,436.1 529.1,437.8 529.2,443.3 529.3,438.3 529.5,446.5 529.6,441.6 529.7,439.6 529.8,445.4 530.0,444.5 530.1,439.7 530.2,439.3 530.3,438.2 530.5,442.9 530.6,442.6 530.7,444.1 530.8,440.1 530.9,427.7 531.1,439.9 531.2,440.3 531.3,437.7 531.4,437.1 531.6,435.0 531.7,446.6 531.8,449.8 531.9,436.8 532.1,442.0 532.2,440.9 532.3,433.0 532.4,441.1 532.6,431.4 532.7,438.3 532.8,437.4 532.9,436.7 533.1,439.5 533.2,447.8 533.3,443.2 533.4,433.7 533.5,445.2 533.7,431.8 533.8,431.8 533.9,439.3 534.0,443.3 534.2,432.1 534.3,449.5 534.4,443.3 534.5,436.2 534.7,436.4 534.8,433.7 534.9,440.3 535.0,439.2 535.2,438.1 535.3,440.5 535.4,439.0 535.5,435.1 535.7,442.2 535.8,434.3 535.9,439.6 536.0,448.6 536.2,435.0 536.3,438.6 536.4,440.4 536.5,438.3 536.6,438.6 536.8,436.6 536.9,436.2 537.0,449.0 537.1,450.4 537.3,438.2 537.4,445.8 537.5,441.2 537.6,452.3 537.8,437.7 537.9,431.4 538.0,443.9 538.1,441.5 538.3,438.5 538.4,442.4 538.5,435.5 538.6,441.7 538.8,442.9 538.9,430.1 539.0,438.7 539.1,438.5 539.2,439.0 539.4,439.7 539.5,437.5 539.6,443.1 539.7,450.1 539.9,434.6 540.0,438.1 540.1,438.9 540.2,432.7 540.4,433.2 540.5,446.6 540.6,438.6 540.7,428.6 540.9,442.2 541.0,443.7 541.1,430.1 541.2,448.5 541.4,430.7 541.5,438.6 541.6,445.2 541.7,444.3 541.8,446.8 542.0,450.6 542.1,431.0 542.2,438.8 542.3,442.4 542.5,429.9 542.6,440.6 542.7,444.6 542.8,443.3 543.0,436.3 543.1,444.9 543.2,436.3 543.3,441.2 543.5,438.0 543.6,429.9 543.7,438.4 543.8,439.9 544.0,443.0 544.1,434.6 544.2,442.7 544.3,444.1 544.5,437.6 544.6,434.7 544.7,439.8 544.8,447.5 544.9,436.8 545.1,437.0 545.2,432.6 545.3,440.6 545.4,444.1 545.6,449.1 545.7,438.8 545.8,441.1 545.9,433.1 546.1,437.8 546.2,439.1 546.3,441.8 546.4,436.2 546.6,438.5 546.7,434.0 546.8,437.8 546.9,437.6 547.1,439.9 547.2,440.8 547.3,431.2 547.4,443.2 547.5,443.7 547.7,439.0 547.8,442.0 547.9,438.2 548.0,449.2 548.2,436.8 548.3,447.0 548.4,453.0 548.5,435.9 548.7,446.9 548.8,434.3 548.9,442.3 549.0,445.1 549.2,438.5 549.3,434.7 549.4,438.7 549.5,434.8 549.7,431.0 549.8,436.6 549.9,434.6 550.0,444.3 550.2,441.5 550.3,436.1 550.4,442.8 550.5,438.4 550.6,438.5 550.8,429.9 550.9,434.9 551.0,443.0 551.1,432.8 551.3,430.4 551.4,434.5 551.5,433.5 551.6,438.9 551.8,451.4 551.9,432.8 552.0,435.8 552.1,433.1 552.3,437.8 552.4,436.4 552.5,440.3 552.6,442.9 552.8,436.8 552.9,436.0 553.0,439.4 553.1,434.7 553.2,444.4 553.4,436.2 553.5,438.6 553.6,433.9 553.7,428.1 553.9,450.2 554.0,432.5 554.1,435.3 554.2,440.3 554.4,433.4 554.5,443.3 554.6,439.2 554.7,441.0 554.9,441.2 555.0,430.7 555.1,437.5 555.2,440.3 555.4,433.2 555.5,442.8 555.6,450.2 555.7,434.6 555.8,448.8 556.0,441.4 556.1,436.8 556.2,423.7 556.3,451.4 556.5,441.2 556.6,440.4 556.7,435.8 556.8,438.7 557.0,429.2 557.1,439.8 557.2,439.5 557.3,440.1 557.5,441.1 557.6,437.8 557.7,436.9 557.8,434.9 558.0,440.5 558.1,442.0 558.2,438.6 558.3,441.5 558.5,445.6 558.6,442.1 558.7,448.8 558.8,436.7 558.9,451.4 559.1,432.1 559.2,432.1 559.3,436.1 559.4,440.8 559.6,437.6 559.7,440.5 559.8,443.8 559.9,443.2 560.1,441.2 560.2,437.1 560.3,439.9 560.4,429.1 560.6,435.9 560.7,440.3 560.8,438.2 560.9,431.5 561.1,439.7 561.2,434.3 561.3,436.5 561.4,442.4 561.5,446.4 561.7,437.8 561.8,442.3 561.9,435.3 562.0,438.2 562.2,443.0 562.3,443.0 562.4,441.7 562.5,439.5 562.7,444.4 562.8,441.9 562.9,435.8 563.0,439.6 563.2,432.1 563.3,443.5 563.4,440.0 563.5,441.4 563.7,437.6 563.8,429.0 563.9,443.5 564.0,432.2 564.2,440.7 564.3,446.6 564.4,449.8 564.5,446.3 564.6,436.5 564.8,433.0 564.9,447.2 565.0,444.9 565.1,431.7 565.3,435.1 565.4,447.1 565.5,440.0 565.6,429.6 565.8,438.7 565.9,440.3 566.0,438.2 566.1,438.0 566.3,450.5 566.4,441.7 566.5,429.7 566.6,435.5 566.8,438.4 566.9,442.0 567.0,439.4 567.1,440.5 567.2,436.3 567.4,444.3 567.5,442.8 567.6,441.2 567.7,443.4 567.9,440.7 568.0,442.1 568.1,439.5 568.2,442.8 568.4,436.1 568.5,441.9 568.6,431.3 568.7,443.6 568.9,433.1 569.0,440.7 569.1,441.1 569.2,442.0 569.4,443.2 569.5,439.1 569.6,433.1 569.7,447.5 569.8,443.6 570.0,444.2 570.1,447.1 570.2,433.9 570.3,432.4 570.5,428.6 570.6,439.9 570.7,438.5 570.8,443.7 571.0,436.4 571.1,442.9 571.2,440.5 571.3,440.4 571.5,446.8 571.6,444.1 571.7,434.6 571.8,432.5 572.0,441.7 572.1,435.0 572.2,436.9 572.3,447.8 572.5,440.3 572.6,440.0 572.7,443.0 572.8,443.8 572.9,440.7 573.1,440.0 573.2,445.9 573.3,437.8 573.4,446.8 573.6,439.0 573.7,425.7 573.8,439.3 573.9,442.3 574.1,440.9 574.2,434.4 574.3,440.3 574.4,436.1 574.6,436.9 574.7,435.0 574.8,437.5 574.9,439.5 575.1,436.1 575.2,439.6 575.3,437.4 575.4,443.6 575.5,439.1 575.7,434.1 575.8,447.4 575.9,448.6 576.0,428.4 576.2,437.2 576.3,427.4 576.4,447.0 576.5,438.7 576.7,444.4 576.8,446.4 576.9,437.8 577.0,441.8 577.2,434.1 577.3,437.0 577.4,442.7 577.5,428.9 577.7,434.3 577.8,440.6 577.9,438.3 578.0,433.2 578.2,436.4 578.3,437.8 578.4,435.5 578.5,443.4 578.6,447.9 578.8,428.8 578.9,438.1 579.0,433.3 579.1,447.2 579.3,445.8 579.4,443.0 579.5,439.2 579.6,445.6 579.8,433.4 579.9,436.0 580.0,436.3 580.1,436.0 580.3,433.6 580.4,443.3 580.5,439.9 580.6,436.0 580.8,433.8 580.9,433.5 581.0,437.7 581.1,441.6 581.2,442.2 581.4,450.2 581.5,441.6 581.6,434.3 581.7,438.9 581.9,444.1 582.0,436.9 582.1,448.8 582.2,440.5 582.4,446.1 582.5,439.0 582.6,424.7 582.7,445.5 582.9,440.9 583.0,435.6 583.1,441.2 583.2,439.9 583.4,442.2 583.5,435.1 583.6,439.9 583.7,433.3 583.8,427.6 584.0,439.0 584.1,428.9 584.2,446.4 584.3,436.8 584.5,434.6 584.6,427.4 584.7,435.1 584.8,439.0 585.0,444.1 585.1,440.9 585.2,438.4 585.3,435.3 585.5,441.3 585.6,427.4 585.7,438.0 585.8,434.6 586.0,449.4 586.1,439.3 586.2,443.9 586.3,441.2 586.5,440.2 586.6,431.0 586.7,433.4 586.8,445.5 586.9,437.4 587.1,438.0 587.2,439.4 587.3,442.6 587.4,432.9 587.6,448.3 587.7,440.2 587.8,448.0 587.9,444.7 588.1,438.0 588.2,439.0 588.3,438.0 588.4,436.5 588.6,444.0 588.7,441.1 588.8,441.2 588.9,439.1 589.1,440.9 589.2,449.8 589.3,438.7 589.4,436.2 589.5,436.0 589.7,445.1 589.8,430.0 589.9,443.9 590.0,430.4 590.2,442.0 590.3,435.8 590.4,437.1 590.5,438.2 590.7,445.0 590.8,443.8 590.9,429.1 591.0,436.9 591.2,427.0 591.3,438.0 591.4,439.8 591.5,438.2 591.7,432.5 591.8,439.4 591.9,444.4 592.0,432.4 592.2,436.1 592.3,445.5 592.4,443.1 592.5,427.4 592.6,449.8 592.8,439.6 592.9,435.4 593.0,443.2 593.1,441.5 593.3,441.8 593.4,440.2 593.5,444.8 593.6,436.1 593.8,432.0 593.9,432.9 594.0,427.0 594.1,432.9 594.3,443.7 594.4,443.6 594.5,436.7 594.6,443.7 594.8,445.2 594.9,440.9 595.0,436.9 595.1,434.2 595.2,442.2 595.4,442.1 595.5,437.3 595.6,446.4 595.7,430.6 595.9,455.0 596.0,430.8 596.1,432.5 596.2,439.4 596.4,440.1 596.5,437.4 596.6,442.9 596.7,436.0 596.9,436.5 597.0,441.5 597.1,437.9 597.2,446.5 597.4,438.8 597.5,445.0 597.6,441.3 597.7,433.2 597.8,437.5 598.0,438.7 598.1,434.6 598.2,438.5 598.3,441.4 598.5,439.8 598.6,447.8 598.7,449.2 598.8,436.0 599.0,433.3 599.1,442.7 599.2,446.2 599.3,431.6 599.5,443.4 599.6,434.7 599.7,439.0 599.8,437.1 600.0,437.4 600.1,447.1 600.2,435.9 600.3,438.9 600.5,445.0 600.6,434.4 600.7,441.3 600.8,434.3 600.9,436.0 601.1,433.4 601.2,437.9 601.3,442.1 601.4,438.6 601.6,435.2 601.7,437.8 601.8,433.5 601.9,428.3 602.1,438.5 602.2,435.5 602.3,446.4 602.4,444.3 602.6,437.7 602.7,438.9 602.8,432.3 602.9,433.1 603.1,445.6 603.2,440.7 603.3,444.2 603.4,440.9 603.5,439.7 603.7,432.3 603.8,442.5 603.9,448.8 604.0,443.8 604.2,437.3 604.3,452.1 604.4,430.0 604.5,443.0 604.7,445.4 604.8,440.9 604.9,443.8 605.0,435.5 605.2,446.8 605.3,428.2 605.4,447.3 605.5,427.8 605.7,437.6 605.8,442.5 605.9,449.1 606.0,445.8 606.2,437.1 606.3,430.4 606.4,441.3 606.5,438.2 606.6,439.5 606.8,439.8 606.9,437.3 607.0,440.3 607.1,443.1 607.3,443.1 607.4,440.6 607.5,439.6 607.6,440.0 607.8,434.6 607.9,440.7 608.0,442.5 608.1,441.4 608.3,431.4 608.4,440.9 608.5,431.4 608.6,436.8 608.8,440.8 608.9,449.0 609.0,443.5 609.1,441.4 609.2,435.7 609.4,443.0 609.5,439.8 609.6,436.4 609.7,436.8 609.9,437.0 610.0,435.8 610.1,443.6 610.2,438.3 610.4,440.9 610.5,437.1 610.6,450.7 610.7,437.6 610.9,442.3 611.0,436.6 611.1,438.2 611.2,433.8 611.4,434.2 611.5,439.7 611.6,437.3 611.7,436.6 611.8,445.1 612.0,447.0 612.1,439.2 612.2,440.9 612.3,433.5 612.5,445.2 612.6,435.5 612.7,433.2 612.8,437.1 613.0,442.7 613.1,446.6 613.2,434.2 613.3,443.5 613.5,441.9 613.6,437.5 613.7,452.0 613.8,447.3 614.0,436.2 614.1,450.0 614.2,435.9 614.3,438.8 614.5,441.7 614.6,439.5 614.7,438.5 614.8,440.8 614.9,441.8 615.1,440.5 615.2,439.6 615.3,444.6 615.4,433.8 615.6,442.1 615.7,437.6 615.8,435.5 615.9,440.0 616.1,435.4 616.2,441.9 616.3,445.5 616.4,441.4 616.6,436.5 616.7,439.0 616.8,440.6 616.9,443.5 617.1,438.4 617.2,442.5 617.3,443.7 617.4,448.5 617.5,432.3 617.7,435.7 617.8,439.3 617.9,434.2 618.0,438.0 618.2,443.1 618.3,443.3 618.4,443.1 618.5,447.6 618.7,429.3 618.8,442.1 618.9,441.2 619.0,442.8 619.2,437.4 619.3,437.1 619.4,433.4 619.5,447.5 619.7,440.2 619.8,446.4 619.9,446.8 620.0,444.6 620.2,446.0 620.3,433.3 620.4,437.8 620.5,442.1 620.6,446.4 620.8,446.7 620.9,435.0 621.0,439.0 621.1,433.5 621.3,432.6 621.4,437.7 621.5,437.0 621.6,442.2 621.8,439.1 621.9,433.7 622.0,441.3 622.1,439.5 622.3,439.7 622.4,438.5 622.5,431.8 622.6,440.2 622.8,441.9 622.9,442.3 623.0,449.7 623.1,435.4 623.2,431.1 623.4,442.9 623.5,445.5 623.6,435.0 623.7,436.4 623.9,443.8 624.0,444.4 624.1,442.5 624.2,433.4 624.4,437.2 624.5,439.7 624.6,436.0 624.7,439.9 624.9,434.5 625.0,435.0 625.1,446.7 625.2,435.6 625.4,440.9 625.5,442.1 625.6,430.9 625.7,437.3 625.8,436.8 626.0,448.7 626.1,436.5 626.2,441.9 626.3,441.7 626.5,444.0 626.6,444.7 626.7,435.3 626.8,440.8 627.0,429.1 627.1,446.6 627.2,441.0 627.3,436.6 627.5,442.1 627.6,450.0 627.7,457.7 627.8,436.8 628.0,442.2 628.1,443.4 628.2,449.0 628.3,431.1 628.5,440.4 628.6,443.5 628.7,427.1 628.8,432.9 628.9,434.2 629.1,438.5 629.2,431.2 629.3,442.2 629.4,437.3 629.6,431.5 629.7,443.7 629.8,433.0 629.9,441.3 630.1,437.4 630.2,426.7 630.3,436.4 630.4,436.6 630.6,445.3 630.7,447.8 630.8,436.1 630.9,436.4 631.1,439.3 631.2,434.5 631.3,429.8 631.4,430.9 631.5,441.2 631.7,440.6 631.8,450.0 631.9,437.0 632.0,434.9 632.2,451.6 632.3,433.3 632.4,443.0 632.5,442.1 632.7,428.9 632.8,437.2 632.9,438.7 633.0,441.5 633.2,435.0 633.3,444.4 633.4,434.8 633.5,441.2 633.7,436.7 633.8,436.4 633.9,439.1 634.0,438.9 634.2,443.4 634.3,444.0 634.4,427.1 634.5,439.9 634.6,435.9 634.8,440.8 634.9,442.2 635.0,433.2 635.1,444.2 635.3,442.8 635.4,443.6 635.5,440.2 635.6,430.1 635.8,447.4 635.9,450.4 636.0,438.1 636.1,430.8 636.3,443.7 636.4,443.5 636.5,444.2 636.6,430.9 636.8,436.5 636.9,439.6 637.0,441.7 637.1,431.9 637.2,442.3 637.4,434.7 637.5,439.1 637.6,445.7 637.7,438.2 637.9,434.3 638.0,445.2 638.1,442.3 638.2,447.5 638.4,438.9 638.5,444.1 638.6,434.9 638.7,432.2 638.9,441.7 639.0,442.3 639.1,439.2 639.2,437.7 639.4,441.6 639.5,436.6 639.6,442.7 639.7,440.0 639.8,444.6 640.0,437.7 640.1,449.2 640.2,439.6 640.3,440.5 640.5,441.6 640.6,442.9 640.7,439.5 640.8,434.8 641.0,428.7 641.1,443.3 641.2,438.5 641.3,430.3 641.5,441.4 641.6,428.5 641.7,437.0 641.8,448.3 642.0,446.4 642.1,441.8 642.2,434.7 642.3,436.2 642.5,434.9 642.6,437.1 642.7,443.3 642.8,433.9 642.9,435.8 643.1,445.8 643.2,437.4 643.3,444.2 643.4,431.1 643.6,446.7 643.7,439.4 643.8,433.0 643.9,438.0 644.1,438.1 644.2,441.0 644.3,440.6 644.4,436.6 644.6,444.7 644.7,444.7 644.8,447.0 644.9,446.1 645.1,436.3 645.2,448.0 645.3,442.5 645.4,431.4 645.5,436.1 645.7,435.1 645.8,433.9 645.9,439.0 646.0,435.8 646.2,450.3 646.3,441.8 646.4,434.8 646.5,444.6 646.7,444.8 646.8,444.1 646.9,445.3 647.0,444.2 647.2,440.7 647.3,451.0 647.4,439.0 647.5,440.6 647.7,444.1 647.8,438.4 647.9,436.5 648.0,444.1 648.2,437.0 648.3,431.1 648.4,443.0 648.5,430.7 648.6,446.4 648.8,441.3 648.9,449.4 649.0,431.6 649.1,439.7 649.3,435.1 649.4,437.1 649.5,434.4 649.6,446.3 649.8,439.9 649.9,442.1 650.0,440.7 650.1,429.7 650.3,443.0 650.4,443.6 650.5,430.1 650.6,444.0 650.8,438.1 650.9,434.7 651.0,434.4 651.1,445.9 651.2,447.3 651.4,439.4 651.5,443.4 651.6,443.9 651.7,439.3 651.9,438.0 652.0,445.8 652.1,432.9 652.2,437.6 652.4,432.2 652.5,443.9 652.6,444.6 652.7,436.6 652.9,442.0 653.0,445.9 653.1,434.5 653.2,439.4 653.4,438.9 653.5,435.8 653.6,443.2 653.7,439.6 653.8,429.7 654.0,443.6 654.1,434.6 654.2,432.2 654.3,436.5 654.5,441.8 654.6,437.8 654.7,445.7 654.8,437.5 655.0,436.0 655.1,447.7 655.2,451.1 655.3,439.4 655.5,433.3 655.6,440.7 655.7,440.2 655.8,443.6 656.0,441.8 656.1,440.2 656.2,446.9 656.3,443.2 656.5,443.3 656.6,434.0 656.7,438.5 656.8,440.4 656.9,441.3 657.1,445.6 657.2,437.5 657.3,441.8 657.4,433.1 657.6,433.2 657.7,443.9 657.8,443.3 657.9,440.0 658.1,441.7 658.2,441.0 658.3,438.1 658.4,437.6 658.6,449.9 658.7,434.6 658.8,447.5 658.9,438.1 659.1,440.6 659.2,437.5 659.3,438.1 659.4,424.6 659.5,452.0 659.7,446.8 659.8,428.0 659.9,428.5 660.0,439.4 660.2,425.7 660.3,435.7 660.4,437.7 660.5,439.2 660.7,448.2 660.8,438.8 660.9,443.5 661.0,453.3 661.2,435.3 661.3,444.4 661.4,438.9 661.5,440.4 661.7,434.9 661.8,442.8 661.9,434.4 662.0,444.0 662.2,444.7 662.3,438.0 662.4,438.2 662.5,435.9 662.6,436.0 662.8,439.6 662.9,434.5 663.0,435.7 663.1,437.2 663.3,434.0 663.4,432.4 663.5,443.7 663.6,435.1 663.8,443.0 663.9,439.1 664.0,444.1 664.1,439.1 664.3,442.3 664.4,437.5 664.5,446.5 664.6,439.2 664.8,436.2 664.9,442.8 665.0,436.9 665.1,439.1 665.2,441.7 665.4,447.0 665.5,447.4 665.6,441.2 665.7,432.2 665.9,434.9 666.0,432.3 666.1,436.9 666.2,446.7 666.4,428.2 666.5,438.2 666.6,443.6 666.7,436.2 666.9,417.3 667.0,442.5 667.1,443.8 667.2,437.7 667.4,446.7 667.5,438.4 667.6,432.7 667.7,431.6 667.8,445.2 668.0,436.5 668.1,432.3 668.2,438.1 668.3,438.6 668.5,431.9 668.6,437.0 668.7,442.8 668.8,445.0 669.0,438.0 669.1,438.9 669.2,443.1 669.3,441.3 669.5,437.1 669.6,440.4 669.7,451.7 669.8,439.2 670.0,437.4 670.1,436.4 670.2,436.6 670.3,434.4 670.5,447.1 670.6,442.2 670.7,438.8 670.8,442.0 670.9,438.0 671.1,427.2 671.2,441.1 671.3,439.2 671.4,439.2 671.6,430.4 671.7,439.3 671.8,431.5 671.9,435.6 672.1,443.6 672.2,450.0 672.3,437.8 672.4,440.9 672.6,438.8 672.7,428.3 672.8,439.5 672.9,436.6 673.1,436.3 673.2,435.3 673.3,434.9 673.4,446.0 673.5,435.5 673.7,441.1 673.8,441.8 673.9,437.0 674.0,438.7 674.2,451.2 674.3,440.4 674.4,438.6 674.5,443.1 674.7,432.3 674.8,437.1 674.9,447.6 675.0,434.1 675.2,434.9 675.3,433.6 675.4,440.5 675.5,431.1 675.7,428.4 675.8,432.8 675.9,439.8 676.0,431.2 676.2,440.9 676.3,447.0 676.4,442.0 676.5,438.1 676.6,446.4 676.8,438.7 676.9,445.6 677.0,447.9 677.1,427.5 677.3,445.5 677.4,434.9 677.5,437.2 677.6,431.6 677.8,440.9 677.9,442.2 678.0,428.5 678.1,439.9 678.3,439.0 678.4,440.7 678.5,433.6 678.6,438.2 678.8,441.6 678.9,441.6 679.0,437.5 679.1,437.6 679.2,440.9 679.4,445.0 679.5,437.9 679.6,436.0 679.7,441.8 679.9,436.6 680.0,441.0 680.1,439.9 680.2,436.6 680.4,441.6 680.5,440.4 680.6,442.8 680.7,434.7 680.9,442.5 681.0,448.6 681.1,444.2 681.2,438.4 681.4,445.8 681.5,447.9 681.6,438.3 681.7,431.9 681.8,440.0 682.0,442.7 682.1,434.0 682.2,438.5 682.3,448.9 682.5,439.3 682.6,439.0 682.7,442.9 682.8,433.1 683.0,444.3 683.1,444.6 683.2,435.6 683.3,433.2 683.5,434.3 683.6,434.0 683.7,436.8 683.8,435.9 684.0,435.8 684.1,439.8 684.2,444.2 684.3,437.8 684.5,436.4 684.6,441.4 684.7,430.6 684.8,440.1 684.9,446.5 685.1,435.0 685.2,441.8 685.3,444.6 685.4,439.9 685.6,443.5 685.7,434.2 685.8,437.3 685.9,442.5 686.1,437.9 686.2,433.1 686.3,442.9 686.4,431.6 686.6,432.6 686.7,439.4 686.8,443.9 686.9,434.2 687.1,430.2 687.2,427.1 687.3,434.1 687.4,437.7 687.5,445.2 687.7,437.6 687.8,439.0 687.9,448.4 688.0,447.3 688.2,450.1 688.3,437.6 688.4,436.6 688.5,436.6 688.7,451.2 688.8,443.2 688.9,439.4 689.0,436.6 689.2,432.8 689.3,433.3 689.4,428.2 689.5,447.0 689.7,446.3 689.8,445.2 689.9,434.2 690.0,443.1 690.2,437.8 690.3,443.0 690.4,449.7 690.5,442.6 690.6,440.6 690.8,445.6 690.9,437.4 691.0,443.9 691.1,434.4 691.3,439.6 691.4,437.3 691.5,442.7 691.6,439.2 691.8,445.3 691.9,438.7 692.0,440.5 692.1,440.3 692.3,445.3 692.4,434.6 692.5,442.2 692.6,442.0 692.8,435.7 692.9,437.6 693.0,443.4 693.1,432.9 693.2,439.1 693.4,430.6 693.5,441.1 693.6,443.3 693.7,442.0 693.9,443.4 694.0,435.9 694.1,433.7 694.2,445.4 694.4,429.3 694.5,443.7 694.6,440.8 694.7,437.9 694.9,439.8 695.0,439.8 695.1,447.4 695.2,440.1 695.4,441.4 695.5,445.9 695.6,435.4 695.7,434.1 695.8,439.4 696.0,440.6 696.1,441.6 696.2,441.6 696.3,430.0 696.5,441.7 696.6,444.8 696.7,437.6 696.8,439.4 697.0,439.5 697.1,437.1 697.2,427.0 697.3,444.6 697.5,435.5 697.6,429.9 697.7,446.6 697.8,435.4 698.0,445.4 698.1,445.4 698.2,433.0 698.3,433.7 698.5,438.2 698.6,429.4 698.7,445.0 698.8,451.2 698.9,438.7 699.1,437.0 699.2,448.4 699.3,439.8 699.4,439.9 699.6,437.3 699.7,439.4 699.8,445.5 699.9,436.0 700.1,433.5 700.2,428.6 700.3,438.4 700.4,440.1 700.6,436.9 700.7,432.5 700.8,441.0 700.9,439.7 701.1,431.1 701.2,434.7 701.3,433.3 701.4,448.8 701.5,444.8 701.7,442.6 701.8,446.6 701.9,438.0 702.0,449.1 702.2,446.0 702.3,440.9 702.4,435.2 702.5,443.1 702.7,438.0 702.8,440.3 702.9,438.6 703.0,434.2 703.2,438.0 703.3,437.0 703.4,439.8 703.5,432.2 703.7,438.3 703.8,436.5 703.9,442.8 704.0,436.2 704.2,445.3 704.3,433.2 704.4,444.7 704.5,447.7 704.6,440.3 704.8,443.2 704.9,443.4 705.0,440.9 705.1,433.0 705.3,440.1 705.4,437.3 705.5,439.8 705.6,437.9 705.8,445.7 705.9,444.6 706.0,434.4 706.1,429.6 706.3,444.1 706.4,440.4 706.5,440.3 706.6,437.0 706.8,449.8 706.9,444.7 707.0,437.0 707.1,440.9 707.2,441.4 707.4,440.9 707.5,441.2 707.6,437.3 707.7,433.6 707.9,439.7 708.0,433.2 708.1,443.9 708.2,428.7 708.4,426.2 708.5,431.6 708.6,435.7 708.7,434.1 708.9,443.7 709.0,435.9 709.1,434.3 709.2,430.5 709.4,442.2 709.5,441.7 709.6,438.4 709.7,442.5 709.8,448.9 710.0,445.6 710.1,444.2 710.2,440.0 710.3,436.4 710.5,454.4 710.6,448.6 710.7,437.2 710.8,444.3 711.0,437.6 711.1,443.9 711.2,433.6 711.3,438.3 711.5,437.0 711.6,438.0 711.7,434.2 711.8,446.5 712.0,438.1 712.1,444.0 712.2,448.9 712.3,442.4 712.5,436.8 712.6,432.9 712.7,437.3 712.8,434.1 712.9,449.3 713.1,435.4 713.2,443.8 713.3,437.0 713.4,438.7 713.6,442.0 713.7,439.3 713.8,439.5 713.9,424.8 714.1,444.4 714.2,443.1 714.3,446.3 714.4,440.8 714.6,432.6 714.7,432.5 714.8,432.8 714.9,442.0 715.1,441.2 715.2,428.6 715.3,442.7 715.4,436.5 715.5,442.5 715.7,433.8 715.8,437.3 715.9,436.0 716.0,435.7 716.2,451.5 716.3,441.2 716.4,431.9 716.5,441.9 716.7,439.2 716.8,437.3 716.9,435.7 717.0,453.6 717.2,435.3 717.3,435.0 717.4,435.1 717.5,439.0 717.7,444.8 717.8,437.8 717.9,436.5 718.0,432.2 718.2,449.1 718.3,431.0 718.4,442.3 718.5,438.7 718.6,445.8 718.8,443.1 718.9,432.8 719.0,440.0 719.1,443.6 719.3,448.0 719.4,440.2 719.5,447.2 719.6,440.1 719.8,432.4 719.9,436.7 720.0,438.8 720.1,437.0 720.3,432.2 720.4,434.7 720.5,435.8 720.6,436.6 720.8,430.8 720.9,431.8 721.0,433.7 721.1,432.0 721.2,442.0 721.4,443.5 721.5,443.1 721.6,432.1 721.7,443.8 721.9,451.4 722.0,438.9 722.1,442.2 722.2,434.0 722.4,436.0 722.5,431.6 722.6,439.4 722.7,443.3 722.9,437.5 723.0,441.4 723.1,438.7 723.2,443.3 723.4,436.1 723.5,438.2 723.6,435.4 723.7,444.6 723.8,439.5 724.0,436.1 724.1,443.1 724.2,430.0 724.3,440.6 724.5,438.1 724.6,441.2 724.7,439.7 724.8,439.5 725.0,453.2 725.1,442.9 725.2,434.3 725.3,437.6 725.5,435.6 725.6,440.1 725.7,443.8 725.8,447.1 726.0,442.4 726.1,439.7 726.2,431.5 726.3,434.3 726.5,433.8 726.6,434.5 726.7,450.3 726.8,446.3 726.9,442.3 727.1,445.4 727.2,433.8 727.3,443.2 727.4,439.7 727.6,439.4 727.7,434.2 727.8,439.6 727.9,438.1 728.1,436.3 728.2,443.0 728.3,440.7 728.4,438.8 728.6,443.7 728.7,434.5 728.8,439.2 728.9,439.6 729.1,447.9 729.2,438.8 729.3,441.3 729.4,444.0 729.5,436.6 729.7,439.7 729.8,437.1 729.9,441.3 730.0,441.1 730.2,434.3 730.3,444.0 730.4,429.1 730.5,438.6 730.7,437.3 730.8,434.6 730.9,443.1 731.0,440.9 731.2,430.2 731.3,443.1 731.4,440.7 731.5,445.2 731.7,437.1 731.8,432.0 731.9,441.2 732.0,449.2 732.2,441.2 732.3,441.5 732.4,439.5 732.5,439.8 732.6,438.9 732.8,440.6 732.9,432.5 733.0,448.2 733.1,442.8 733.3,448.4 733.4,447.3 733.5,441.6 733.6,447.7 733.8,441.7 733.9,432.6 734.0,443.7 734.1,438.2 734.3,448.0 734.4,441.3 734.5,437.7 734.6,441.1 734.8,439.2 734.9,438.6 735.0,446.3 735.1,438.7 735.2,427.4 735.4,440.4 735.5,441.6 735.6,443.8 735.7,434.1 735.9,438.0 736.0,440.5 736.1,438.1 736.2,449.2 736.4,445.3 736.5,445.1 736.6,441.7 736.7,441.4 736.9,434.0 737.0,440.4 737.1,443.6 737.2,433.7 737.4,436.5 737.5,446.6 737.6,445.4 737.7,441.4 737.8,440.3 738.0,445.8 738.1,427.4 738.2,438.2 738.3,432.6 738.5,434.8 738.6,428.7 738.7,436.2 738.8,433.7 739.0,437.8 739.1,441.3 739.2,439.3 739.3,436.6 739.5,437.4 739.6,441.2 739.7,430.5 739.8,437.8 740.0,427.9 740.1,440.4 740.2,439.2 740.3,439.8 740.5,440.4 740.6,441.5 740.7,434.2 740.8,441.1 740.9,445.8 741.1,435.8 741.2,447.5 741.3,442.8 741.4,442.1 741.6,439.9 741.7,435.9 741.8,435.3 741.9,435.5 742.1,437.6 742.2,432.6 742.3,442.9 742.4,440.2 742.6,441.1 742.7,430.8 742.8,433.1 742.9,431.5 743.1,436.7 743.2,435.2 743.3,429.6 743.4,438.5 743.5,440.3 743.7,436.3 743.8,434.4 743.9,444.4 744.0,440.2 744.2,424.9 744.3,434.5 744.4,445.7 744.5,438.7 744.7,439.9 744.8,439.4 744.9,428.7 745.0,434.6 745.2,435.7 745.3,441.2 745.4,434.6 745.5,438.8 745.7,434.3 745.8,445.3 745.9,436.7 746.0,446.2 746.2,451.3 746.3,436.6 746.4,435.9 746.5,441.2 746.6,430.5 746.8,441.3 746.9,446.3 747.0,443.7 747.1,429.7 747.3,438.2 747.4,447.2 747.5,444.5 747.6,439.6 747.8,434.3 747.9,442.6 748.0,446.3 748.1,444.3 748.3,442.8 748.4,437.8 748.5,433.0 748.6,443.9 748.8,441.0 748.9,446.0 749.0,433.4 749.1,441.3 749.2,446.0 749.4,442.3 749.5,440.8 749.6,437.8 749.7,441.0 749.9,440.5 750.0,433.6 750.1,438.9 750.2,435.0 750.4,434.2 750.5,431.2 750.6,432.9 750.7,445.3 750.9,434.8 751.0,443.6 751.1,441.7 751.2,428.2 751.4,440.4 751.5,441.4 751.6,440.4 751.7,436.2 751.8,442.2 752.0,447.0 752.1,442.1 752.2,447.5 752.3,440.9 752.5,437.0 752.6,432.2 752.7,446.1 752.8,434.2 753.0,432.8 753.1,434.0 753.2,428.7 753.3,430.7 753.5,440.9 753.6,441.2 753.7,442.1 753.8,428.6 754.0,443.7 754.1,442.7 754.2,446.7 754.3,437.4 754.5,442.5 754.6,445.9 754.7,438.2 754.8,440.2 754.9,435.5 755.1,449.8 755.2,438.5 755.3,443.5 755.4,439.5 755.6,431.4 755.7,447.7 755.8,431.7 755.9,437.8 756.1,439.0 756.2,431.1 756.3,441.3 756.4,435.3 756.6,434.7 756.7,438.7 756.8,451.4 756.9,433.7 757.1,437.8 757.2,446.0 757.3,439.6 757.4,439.2 757.5,435.2 757.7,442.2 757.8,447.4 757.9,446.5 758.0,438.8 758.2,433.6 758.3,440.4 758.4,445.8 758.5,442.7 758.7,439.2 758.8,440.7 758.9,442.1 759.0,435.0 759.2,445.1 759.3,435.1 759.4,436.0 759.5,433.7 759.7,442.8 759.8,447.2 759.9,440.0 760.0,442.8 760.2,446.7 760.3,441.7 760.4,437.9 760.5,442.2 760.6,438.0 760.8,439.0 760.9,445.7 761.0,437.7 761.1,433.0 761.3,446.2 761.4,433.4 761.5,442.8 761.6,430.8 761.8,442.5 761.9,447.4 762.0,438.6 762.1,437.3 762.3,430.1 762.4,439.7 762.5,430.5 762.6,432.2 762.8,439.8 762.9,442.8 763.0,442.7 763.1,442.1 763.2,437.5 763.4,436.1 763.5,447.6 763.6,438.8 763.7,440.8 763.9,435.1 764.0,435.4 764.1,441.8 764.2,441.1 764.4,438.9 764.5,441.8 764.6,438.8 764.7,433.5 764.9,437.5 765.0,436.5 765.1,435.8 765.2,433.8 765.4,442.3 765.5,448.4 765.6,443.6 765.7,439.2 765.8,439.6 766.0,438.9 766.1,436.9 766.2,451.3 766.3,450.2 766.5,434.6 766.6,435.8 766.7,441.0 766.8,435.1 767.0,429.4 767.1,434.1 767.2,433.7 767.3,436.0 767.5,438.2 767.6,437.1 767.7,446.8 767.8,436.4 768.0,436.7 768.1,441.6 768.2,438.4 768.3,442.5 768.5,437.3 768.6,438.1 768.7,437.7 768.8,434.9 768.9,436.0 769.1,433.1 769.2,430.2 769.3,438.7 769.4,440.2 769.6,447.7 769.7,438.0 769.8,440.2 769.9,441.2 770.1,437.5 770.2,434.1 770.3,441.2 770.4,435.0 770.6,439.4 770.7,428.9 770.8,443.4 770.9,446.5 771.1,427.2 771.2,440.4 771.3,433.7 771.4,434.9 771.5,443.1 771.7,431.4 771.8,444.5 771.9,433.6 772.0,446.2 772.2,437.7 772.3,437.4 772.4,435.8 772.5,442.7 772.7,426.5 772.8,445.7 772.9,444.9 773.0,435.0 773.2,433.5 773.3,439.0 773.4,442.2 773.5,443.8 773.7,436.0 773.8,436.9 773.9,441.1 774.0,440.5 774.2,442.5 774.3,434.4 774.4,439.1 774.5,440.1 774.6,444.2 774.8,437.3 774.9,442.9 775.0,437.3 775.1,443.7 775.3,438.4 775.4,438.0 775.5,430.4 775.6,441.6 775.8,445.0 775.9,440.4 776.0,448.7 776.1,437.0 776.3,438.2 776.4,439.7 776.5,444.9 776.6,424.1 776.8,437.1 776.9,435.1 777.0,442.0" fill="none" stroke="#161616" stroke-width="1.4" stroke-linejoin="round"/>
<path d="M458 439.8 H776.5" stroke="#161616" stroke-width="13.5" fill="none"/>
<path d="M455.8 312 L456.6 400 L458 436" stroke="#161616" stroke-width="2" fill="none"/>
<path d="M461 313 L499 330 M490 320 L499.5 330.3 L485 331.8" stroke="#222" stroke-width="1.6" fill="none" stroke-linecap="round" stroke-linejoin="round"/>
<rect x="531" y="302" width="124.5" height="98" fill="#fff" stroke="#666" stroke-width="0.9"/>
<path d="M531.0 400 v-2.2 M531.0 302 v2.2M537.2 400 v-1.2 M537.2 302 v1.2M543.5 400 v-1.2 M543.5 302 v1.2M549.7 400 v-1.2 M549.7 302 v1.2M555.9 400 v-1.2 M555.9 302 v1.2M562.1 400 v-2.2 M562.1 302 v2.2M568.4 400 v-1.2 M568.4 302 v1.2M574.6 400 v-1.2 M574.6 302 v1.2M580.8 400 v-1.2 M580.8 302 v1.2M587.0 400 v-1.2 M587.0 302 v1.2M593.2 400 v-2.2 M593.2 302 v2.2M599.5 400 v-1.2 M599.5 302 v1.2M605.7 400 v-1.2 M605.7 302 v1.2M611.9 400 v-1.2 M611.9 302 v1.2M618.1 400 v-1.2 M618.1 302 v1.2M624.4 400 v-2.2 M624.4 302 v2.2M630.6 400 v-1.2 M630.6 302 v1.2M636.8 400 v-1.2 M636.8 302 v1.2M643.0 400 v-1.2 M643.0 302 v1.2M649.3 400 v-1.2 M649.3 302 v1.2M655.5 400 v-2.2 M655.5 302 v2.2M531 400.0 h2 M655.5 400.0 h-2M531 386.0 h2 M655.5 386.0 h-2M531 372.0 h2 M655.5 372.0 h-2M531 358.0 h2 M655.5 358.0 h-2M531 344.0 h2 M655.5 344.0 h-2M531 330.0 h2 M655.5 330.0 h-2M531 316.0 h2 M655.5 316.0 h-2M531 302.0 h2 M655.5 302.0 h-2" stroke="#666" stroke-width="0.6" fill="none"/>
<g font-size="5.2" fill="#555" text-anchor="end">
<text x="529" y="401.8">280</text>
<text x="529" y="373.8">320</text>
<text x="529" y="345.8">360</text>
<text x="529" y="317.8">400</text>
</g><g font-size="5.6" fill="#555" text-anchor="middle">
<text x="531.0" y="408">0</text>
<text x="562.1" y="408">5</text>
<text x="593.2" y="408">10</text>
<text x="624.4" y="408">15</text>
<text x="655.5" y="408">20</text>
</g>
<text x="593" y="421" font-size="6" font-weight="bold" fill="#444" text-anchor="middle">Time (ps)</text>
<text transform="translate(508,356) rotate(-90)" font-size="5.4" font-weight="bold" fill="#444" text-anchor="middle">Temperature (K)</text>
<polyline points="531.5,384.4 532.0,365.6 532.5,356.0 532.9,345.5 533.4,338.7 533.9,334.4 534.4,325.7 534.9,322.3 535.3,315.9 535.8,309.8 536.3,310.6 536.8,316.2 537.3,325.4 537.7,329.2 538.2,333.5 538.7,341.3 539.2,341.4 539.7,345.3 540.2,351.4 540.6,353.1 541.1,356.5 541.6,360.1 542.1,361.6 542.6,362.3 543.0,365.1 543.5,368.6 544.0,369.7 544.5,370.0 545.0,371.0 545.4,371.8 545.9,372.4 546.4,374.9 546.9,374.5 547.4,378.7 547.8,378.3 548.3,374.7 548.8,375.9 549.3,379.6 549.8,381.9 550.2,381.7 550.7,381.8 551.2,382.1 551.7,380.4 552.2,381.7 552.7,380.7 553.1,381.5 553.6,383.7 554.1,383.2 554.6,383.4 555.1,383.0 555.5,384.8 556.0,383.2 556.5,383.2 557.0,383.1 557.5,383.4 557.9,388.1 558.4,381.4 558.9,385.5 559.4,384.7 559.9,382.1 560.3,382.2 560.8,384.5 561.3,382.7 561.8,385.8 562.3,383.6 562.7,384.3 563.2,384.4 563.7,383.5 564.2,383.5 564.7,382.1 565.1,384.0 565.6,384.9 566.1,383.3 566.6,381.7 567.1,384.2 567.6,382.8 568.0,383.3 568.5,385.6 569.0,383.4 569.5,385.3 570.0,384.5 570.4,386.6 570.9,385.1 571.4,387.7 571.9,382.6 572.4,381.1 572.8,383.3 573.3,382.4 573.8,384.1 574.3,386.1 574.8,386.0 575.2,384.2 575.7,381.7 576.2,382.5 576.7,384.3 577.2,387.1 577.6,386.1 578.1,384.7 578.6,387.0 579.1,381.7 579.6,385.2 580.1,384.1 580.5,384.2 581.0,386.8 581.5,385.1 582.0,386.3 582.5,383.0 582.9,384.3 583.4,385.6 583.9,383.3 584.4,383.6 584.9,384.6 585.3,383.4 585.8,386.5 586.3,383.0 586.8,384.2 587.3,385.6 587.7,384.2 588.2,387.0 588.7,384.1 589.2,387.3 589.7,386.6 590.1,386.4 590.6,383.1 591.1,383.1 591.6,383.8 592.1,384.2 592.5,386.5 593.0,385.9 593.5,386.1 594.0,383.9 594.5,384.7 595.0,383.6 595.4,383.4 595.9,384.4 596.4,384.9 596.9,385.4 597.4,383.0 597.8,384.6 598.3,384.3 598.8,383.8 599.3,385.5 599.8,383.6 600.2,386.3 600.7,385.7 601.2,384.5 601.7,381.8 602.2,387.1 602.6,385.5 603.1,382.3 603.6,385.0 604.1,385.1 604.6,385.8 605.0,383.5 605.5,384.0 606.0,384.4 606.5,385.1 607.0,382.7 607.4,384.8 607.9,382.2 608.4,388.5 608.9,387.2 609.4,383.8 609.9,385.0 610.3,386.5 610.8,384.7 611.3,383.9 611.8,384.0 612.3,384.8 612.7,382.6 613.2,385.4 613.7,385.7 614.2,384.0 614.7,384.6 615.1,385.7 615.6,382.3 616.1,386.0 616.6,384.1 617.1,384.6 617.5,385.5 618.0,381.7 618.5,386.1 619.0,385.4 619.5,386.2 619.9,386.7 620.4,385.9 620.9,385.0 621.4,385.0 621.9,383.6 622.4,384.8 622.8,385.0 623.3,385.5 623.8,382.4 624.3,385.7 624.8,386.3 625.2,386.6 625.7,385.1 626.2,384.6 626.7,385.0 627.2,383.3 627.6,385.9 628.1,385.8 628.6,383.4 629.1,385.1 629.6,381.7 630.0,384.6 630.5,382.5 631.0,383.8 631.5,383.4 632.0,384.1 632.4,384.6 632.9,385.0 633.4,385.1 633.9,385.0 634.4,384.7 634.8,381.9 635.3,385.4 635.8,385.3 636.3,384.5 636.8,387.5 637.3,384.6 637.7,385.0 638.2,382.8 638.7,384.8 639.2,384.8 639.7,385.5 640.1,382.0 640.6,383.3 641.1,383.9 641.6,387.5 642.1,386.3 642.5,383.4 643.0,386.1 643.5,384.8 644.0,386.2 644.5,385.0 644.9,384.2 645.4,383.2 645.9,387.1 646.4,386.7 646.9,389.6 647.3,385.8 647.8,385.5 648.3,385.6 648.8,385.8 649.3,385.3 649.8,384.1 650.2,384.7 650.7,380.8 651.2,382.8 651.7,383.8 652.2,386.1 652.6,383.8 653.1,385.1 653.6,383.1 654.1,382.7 654.6,382.5 655.0,385.7 655.5,382.7 656.0,383.4" fill="none" stroke="#333" stroke-width="0.8" stroke-linejoin="round"/>
<text x="606" y="543" font-size="21" fill="#4a4a4a" text-anchor="middle">(e)</text>
</g>
<g id="panelF">
<path d="M38.0 416.4 L144.5 353.0M144.5 353.0 L332.9 389.6M38.0 403.7 L144.5 340.3M144.5 340.3 L332.9 376.9M38.0 390.9 L144.5 327.5M144.5 327.5 L332.9 364.1M38.0 378.2 L144.5 314.8M144.5 314.8 L332.9 351.4M38.0 365.4 L144.5 302.1M144.5 302.1 L332.9 338.7M38.0 352.7 L144.5 289.3M144.5 289.3 L332.9 325.9M38.0 416.4 L38.0 352.7M38.0 416.4 L226.4 453.0M55.8 405.8 L55.8 342.1M55.8 405.8 L244.2 442.4M73.5 395.3 L73.5 331.6M73.5 395.3 L261.9 431.9M91.2 384.7 L91.2 321.0M91.2 384.7 L279.7 421.3M109.0 374.1 L109.0 310.4M109.0 374.1 L297.4 410.8M126.8 363.6 L126.8 299.9M126.8 363.6 L315.2 400.2M144.5 353.0 L144.5 289.3M144.5 353.0 L332.9 389.6M172.5 358.4 L172.5 294.8M66.0 421.8 L172.5 358.4M200.5 363.9 L200.5 300.2M94.0 427.3 L200.5 363.9M228.5 369.3 L228.5 305.6M122.0 432.7 L228.5 369.3M256.5 374.8 L256.5 311.1M150.0 438.2 L256.5 374.8M284.5 380.2 L284.5 316.5M178.0 443.6 L284.5 380.2M312.5 385.6 L312.5 321.9M206.0 449.0 L312.5 385.6M332.9 389.6 L332.9 325.9M226.4 453.0 L332.9 389.6" stroke="#e2e2e2" stroke-width="0.7" fill="none"/>
<path d="M38.0 416.4 L38.0 352.7M38.0 416.4 L226.4 453.0M226.4 453.0 L332.9 389.6" stroke="#5a5a5a" stroke-width="1.0" fill="none"/>
<polygon points="98.0,427.0 226.5,453.0 333.0,389.6 251.0,371.5 231.0,376.8 209.2,390.0 187.3,404.0 162.7,418.0 133.6,432.7 113.6,421.0" fill="#2d388c" stroke="#2d388c" stroke-width="0.6" stroke-linejoin="round"/>
<polygon points="113.6,421.0 133.6,432.7 162.7,418.0 187.3,404.0 209.2,390.0 231.0,376.8 251.0,371.5 238.0,364.5 231.0,367.0 209.2,379.0 187.3,393.0 165.5,407.3 150.0,417.5 138.2,425.5" fill="#3a58b0" stroke="#3a58b0" stroke-width="0.6" stroke-linejoin="round"/>
<polygon points="122.5,401.6 113.7,421.4 138.2,425.5" fill="#3a58b0" stroke="#3a58b0" stroke-width="0.6" stroke-linejoin="round"/>
<polygon points="122.5,401.6 138.2,425.5 150.0,417.5 165.5,407.3 187.3,393.0 209.2,379.0 231.0,367.0 238.0,364.5 222.8,342.8 187.3,358.5 165.5,368.0 143.7,381.0 119.3,394.5" fill="#52c2c8" stroke="#52c2c8" stroke-width="0.6" stroke-linejoin="round"/>
<polygon points="81.0,389.0 97.0,380.5 110.0,375.0 125.0,367.0 145.5,353.5 156.4,347.0 165.5,341.8 174.0,337.0 188.0,337.0 206.5,329.5 189.0,340.7 174.0,350.5 154.0,362.6 136.8,372.4 124.6,380.5 111.0,385.0 98.6,400.0 81.5,394.5" fill="#4cbcc6" stroke="#4cbcc6" stroke-width="0.6" stroke-linejoin="round"/>
<polygon points="150.0,353.0 165.5,342.5 174.0,337.0 166.0,346.0" fill="#3048a8" stroke="#3048a8" stroke-width="0.6" stroke-linejoin="round"/>
<polygon points="174.0,337.0 188.0,337.0 176.0,347.5 163.0,350.5" fill="#30a8e8" stroke="#30a8e8" stroke-width="0.6" stroke-linejoin="round"/>
<polyline points="98.6,399.5 111.0,385.5 124.6,381.0" fill="none" stroke="#38a8e0" stroke-width="1.2"/>
<linearGradient id="ygr" gradientUnits="userSpaceOnUse" x1="100" y1="400" x2="215" y2="335"><stop offset="0" stop-color="#8ccc62"/><stop offset="0.14" stop-color="#b4d640"/><stop offset="0.3" stop-color="#d0dc2c"/><stop offset="0.55" stop-color="#b8d63c"/><stop offset="1" stop-color="#c4da34"/></linearGradient>
<polygon points="98.6,400.0 111.0,385.0 124.6,380.5 136.8,372.4 154.0,361.5 174.0,349.5 189.0,340.7 206.5,329.5 222.8,342.8 187.3,358.5 165.5,368.0 143.7,381.0 119.3,394.5 122.5,401.6" fill="url(#ygr)" stroke="none" stroke-width="0.6" stroke-linejoin="round"/>
<polygon points="81.6,392.7 98.6,400.0 98.0,427.0 82.5,404.0" fill="#84d284" stroke="#84d284" stroke-width="0.6" stroke-linejoin="round"/>
<polygon points="99.3,401.0 98.0,427.0 113.7,421.4" fill="#28368c" stroke="#28368c" stroke-width="0.6" stroke-linejoin="round"/>
<polygon points="99.0,400.3 122.5,401.6 113.7,421.4" fill="#84ca62" stroke="#84ca62" stroke-width="0.6" stroke-linejoin="round"/>
<polygon points="50.9,396.4 67.3,383.6 73.6,392.7 60.0,399.0" fill="#52c0b0" stroke="#52c0b0" stroke-width="0.6" stroke-linejoin="round"/>
<polygon points="66.4,354.5 50.9,396.4 67.3,383.6" fill="#38b8f0" stroke="#38b8f0" stroke-width="0.6" stroke-linejoin="round"/>
<polygon points="66.4,354.5 67.3,383.6 82.5,404.5 80.9,391.0" fill="#7e2028" stroke="#7e2028" stroke-width="0.6" stroke-linejoin="round"/>
<g font-size="8.8" fill="#222" stroke="#222" stroke-width="0.2" text-anchor="end">
<text x="33.5" y="419.4">0</text>
<text x="33.5" y="406.7">5</text>
<text x="33.5" y="393.9">10</text>
<text x="33.5" y="381.2">15</text>
<text x="33.5" y="368.4">20</text>
<text x="33.5" y="355.7">25</text>
</g>
<text transform="translate(20,386) rotate(-90)" font-size="8.2" fill="#222" text-anchor="middle" font-weight="bold">Li-concentration (M)</text>
<g font-size="8.8" fill="#222" stroke="#222" stroke-width="0.2" text-anchor="middle">
<text x="55.6" y="434.0">10</text>
<text x="83.6" y="439.7">20</text>
<text x="111.6" y="445.4">30</text>
<text x="139.6" y="451.0">40</text>
<text x="167.6" y="456.7">50</text>
<text x="195.6" y="462.4">60</text>
<text x="231.4" y="464.0">0</text>
<text x="250.2" y="453.3">50</text>
<text x="269.0" y="442.7">100</text>
<text x="287.8" y="432.0">150</text>
<text x="306.6" y="421.3">200</text>
<text x="325.4" y="410.6">250</text>
<text x="344.2" y="400.0">300</text>
</g>
<text transform="translate(101.5,459) rotate(11.7)" font-size="8.8" fill="#222" stroke="#222" stroke-width="0.15" text-anchor="middle" y="3">Position (X-direction)</text>
<text transform="translate(302,444) rotate(-30)" font-size="8.8" fill="#222" stroke="#222" stroke-width="0.15" text-anchor="middle" y="3">Time (ps)</text>
<rect x="351" y="293" width="8" height="165" fill="url(#jet)"/>
<g font-size="8.2" fill="#222" font-weight="bold">
<text x="360.5" y="297.0">25</text>
<text x="360.5" y="329.7">20</text>
<text x="360.5" y="362.4">15</text>
<text x="360.5" y="395.1">10</text>
<text x="360.5" y="427.8">5</text>
<text x="360.5" y="460.5">0</text>
</g>
<text x="165" y="541.5" font-size="21" fill="#4a4a4a" text-anchor="middle">(f)</text>
</g>
</g></svg></body></html>
